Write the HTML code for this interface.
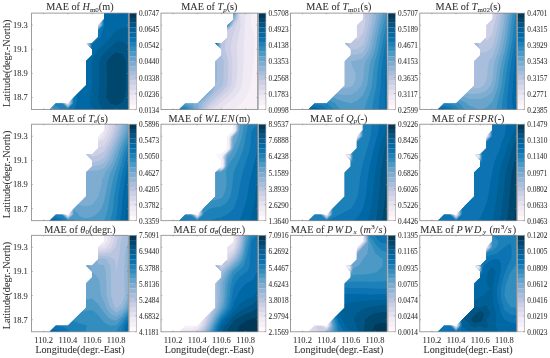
<!DOCTYPE html>
<html><head><meta charset="utf-8"><title>MAE maps</title><style>
html,body{margin:0;padding:0;background:#fff}
body{width:550px;height:358px;overflow:hidden}
svg{display:block}
text{font-family:"Liberation Serif",serif;fill:#303030;stroke:#303030;stroke-width:0.06px}
.t{font-size:10.2px}
.i{font-style:italic}
.sub{font-size:7px}
.subi{font-size:7px;font-style:italic}
.cb{font-size:7.3px}
.tk{font-size:8.5px}
.lb{font-size:10.15px}
</style></head><body>
<svg width="550" height="358" viewBox="0 0 550 358">
<rect width="550" height="358" fill="#fff"/>
<defs>
<clipPath id="c0"><polygon points="104.12,13.1 104.12,19.13 98.08,25.16 98.08,37.23 92.04,43.26 85.99,43.26 92.04,49.29 92.04,55.32 85.99,61.35 85.99,85.47 67.86,103.57 55.78,103.57 49.73,109.6 128.3,109.6 128.3,13.1"/></clipPath>
<clipPath id="c1"><polygon points="233.53,13.1 233.53,19.13 227.48,25.16 227.48,37.23 221.44,43.26 215.39,43.26 221.44,49.29 221.44,55.32 215.39,61.35 215.39,85.47 197.26,103.57 185.18,103.57 179.13,109.6 257.7,109.6 257.7,13.1"/></clipPath>
<clipPath id="c2"><polygon points="362.93,13.1 362.93,19.13 356.88,25.16 356.88,37.23 350.84,43.26 344.79,43.26 350.84,49.29 350.84,55.32 344.79,61.35 344.79,85.47 326.66,103.57 314.58,103.57 308.53,109.6 387.1,109.6 387.1,13.1"/></clipPath>
<clipPath id="c3"><polygon points="492.33,13.1 492.33,19.13 486.28,25.16 486.28,37.23 480.24,43.26 474.19,43.26 480.24,49.29 480.24,55.32 474.19,61.35 474.19,85.47 456.06,103.57 443.98,103.57 437.93,109.6 516.5,109.6 516.5,13.1"/></clipPath>
<clipPath id="c4"><polygon points="104.12,124.2 104.12,130.23 98.08,136.26 98.08,148.32 92.04,154.36 85.99,154.36 92.04,160.39 92.04,166.42 85.99,172.45 85.99,196.57 67.86,214.67 55.78,214.67 49.73,220.7 128.3,220.7 128.3,124.2"/></clipPath>
<clipPath id="c5"><polygon points="233.53,124.2 233.53,130.23 227.48,136.26 227.48,148.32 221.44,154.36 215.39,154.36 221.44,160.39 221.44,166.42 215.39,172.45 215.39,196.57 197.26,214.67 185.18,214.67 179.13,220.7 257.7,220.7 257.7,124.2"/></clipPath>
<clipPath id="c6"><polygon points="362.93,124.2 362.93,130.23 356.88,136.26 356.88,148.32 350.84,154.36 344.79,154.36 350.84,160.39 350.84,166.42 344.79,172.45 344.79,196.57 326.66,214.67 314.58,214.67 308.53,220.7 387.1,220.7 387.1,124.2"/></clipPath>
<clipPath id="c7"><polygon points="492.33,124.2 492.33,130.23 486.28,136.26 486.28,148.32 480.24,154.36 474.19,154.36 480.24,160.39 480.24,166.42 474.19,172.45 474.19,196.57 456.06,214.67 443.98,214.67 437.93,220.7 516.5,220.7 516.5,124.2"/></clipPath>
<clipPath id="c8"><polygon points="104.12,235.3 104.12,241.33 98.08,247.36 98.08,259.42 92.04,265.46 85.99,265.46 92.04,271.49 92.04,277.52 85.99,283.55 85.99,307.67 67.86,325.77 55.78,325.77 49.73,331.8 128.3,331.8 128.3,235.3"/></clipPath>
<clipPath id="c9"><polygon points="233.53,235.3 233.53,241.33 227.48,247.36 227.48,259.42 221.44,265.46 215.39,265.46 221.44,271.49 221.44,277.52 215.39,283.55 215.39,307.67 197.26,325.77 185.18,325.77 179.13,331.8 257.7,331.8 257.7,235.3"/></clipPath>
<clipPath id="c10"><polygon points="362.93,235.3 362.93,241.33 356.88,247.36 356.88,259.42 350.84,265.46 344.79,265.46 350.84,271.49 350.84,277.52 344.79,283.55 344.79,307.67 326.66,325.77 314.58,325.77 308.53,331.8 387.1,331.8 387.1,235.3"/></clipPath>
<clipPath id="c11"><polygon points="492.33,235.3 492.33,241.33 486.28,247.36 486.28,259.42 480.24,265.46 474.19,265.46 480.24,271.49 480.24,277.52 474.19,283.55 474.19,307.67 456.06,325.77 443.98,325.77 437.93,331.8 516.5,331.8 516.5,235.3"/></clipPath>
<filter id="bl" x="-100%" y="-100%" width="300%" height="300%"><feGaussianBlur stdDeviation="0.9"/></filter>
<filter id="soft" x="-5%" y="-5%" width="110%" height="110%"><feGaussianBlur stdDeviation="0.4"/></filter>
</defs>
<g filter="url(#soft)"><g clip-path="url(#c0)">
<path d="M31.6 13.1L37.64 13.1L43.69 13.1L49.73 13.1L55.78 13.1L61.82 13.1L67.86 13.1L73.91 13.1L79.95 13.1L85.99 13.1L92.04 13.1L98.08 13.1L104.12 13.1L110.17 13.1L116.21 13.1L122.26 13.1L128.3 13.1L128.3 19.13L128.3 25.16L128.3 31.19L128.3 37.23L128.3 43.26L128.3 49.29L128.3 55.32L128.3 61.35L128.3 67.38L128.3 73.41L128.3 79.44L128.3 85.47L128.3 91.51L128.3 97.54L128.3 103.57L128.3 109.6L122.26 109.6L116.21 109.6L110.17 109.6L104.12 109.6L98.08 109.6L92.04 109.6L85.99 109.6L79.95 109.6L73.91 109.6L67.86 109.6L61.82 109.6L55.78 109.6L49.73 109.6L43.69 109.6L37.64 109.6L31.6 109.6L31.6 103.57L31.6 97.54L31.6 91.51L31.6 85.47L31.6 79.44L31.6 73.41L31.6 67.38L31.6 61.35L31.6 55.32L31.6 49.29L31.6 43.26L31.6 37.23L31.6 31.19L31.6 25.16L31.6 19.13Z" fill="#e5e1ef"/>
<path d="M31.6 13.1L37.64 13.1L43.69 13.1L49.73 13.1L55.78 13.1L61.82 13.1L67.86 13.1L73.91 13.1L79.95 13.1L85.99 13.1L92.04 13.1L98.08 13.1L104.12 13.1L110.17 13.1L116.21 13.1L122.26 13.1L128.3 13.1L128.3 19.13L128.3 25.16L128.3 31.19L128.3 37.23L128.3 43.26L128.3 49.29L128.3 55.32L128.3 61.35L128.3 67.38L128.3 73.41L128.3 79.44L128.3 85.47L128.3 91.51L128.3 97.54L128.3 103.57L128.3 109.6L122.26 109.6L116.21 109.6L110.17 109.6L104.12 109.6L98.08 109.6L92.04 109.6L85.99 109.6L79.95 109.6L73.91 109.6L67.86 109.6L61.82 109.6L55.78 109.6L49.73 109.6L43.69 109.6L37.64 109.6L31.6 109.6L31.6 103.57L31.6 97.54L31.6 91.51L31.6 85.47L31.6 79.44L31.6 73.41L31.6 67.38L31.6 61.35L31.6 55.32L31.6 49.29L31.6 43.26L31.6 37.23L31.6 31.19L31.6 25.16L31.6 19.13ZM61.82 97.03L61.29 97.54L61.82 98.09L67.31 103.57L67.86 104.1L68.37 103.57L68.37 97.54L67.86 97.03ZM92.04 19.13L92.04 19.13L92.04 25.16L92.04 31.19L85.99 36.71L79.95 36.71L79.42 37.23L79.43 43.26L79.45 49.29L79.95 49.78L85.99 49.77L86.48 49.29L86.5 43.26L92.04 37.73L92.55 37.23L92.04 31.19L98.08 25.16L98.08 25.16L98.08 19.13L98.08 19.13Z" fill="#d9d8ea"/>
<path d="M31.6 13.1L37.64 13.1L43.69 13.1L49.73 13.1L55.78 13.1L61.82 13.1L67.86 13.1L73.91 13.1L79.95 13.1L85.99 13.1L92.04 13.1L98.08 13.1L104.12 13.1L110.17 13.1L116.21 13.1L122.26 13.1L128.3 13.1L128.3 19.13L128.3 25.16L128.3 31.19L128.3 37.23L128.3 43.26L128.3 49.29L128.3 55.32L128.3 61.35L128.3 67.38L128.3 73.41L128.3 79.44L128.3 85.47L128.3 91.51L128.3 97.54L128.3 103.57L128.3 109.6L122.26 109.6L116.21 109.6L110.17 109.6L104.12 109.6L98.08 109.6L92.04 109.6L85.99 109.6L79.95 109.6L73.91 109.6L67.86 109.6L61.82 109.6L55.78 109.6L49.73 109.6L43.69 109.6L37.64 109.6L31.6 109.6L31.6 103.57L31.6 97.54L31.6 91.51L31.6 85.47L31.6 79.44L31.6 73.41L31.6 67.38L31.6 61.35L31.6 55.32L31.6 49.29L31.6 43.26L31.6 37.23L31.6 31.19L31.6 25.16L31.6 19.13ZM61.82 96.52L60.77 97.54L61.82 98.65L66.75 103.57L67.86 104.63L68.89 103.57L68.89 97.54L67.86 96.52ZM92.04 18.61L91.51 19.13L91.49 25.16L91.47 31.19L85.99 36.19L79.95 36.19L78.9 37.23L78.92 43.26L78.94 49.29L79.95 50.28L85.99 50.26L86.97 49.29L87.01 43.26L92.04 38.24L93.06 37.23L92.6 31.19L98.08 25.72L98.63 25.16L98.62 19.13L98.08 18.61Z" fill="#cccfe5"/>
<path d="M31.6 13.1L37.64 13.1L43.69 13.1L49.73 13.1L55.78 13.1L61.82 13.1L67.86 13.1L73.91 13.1L79.95 13.1L85.99 13.1L92.04 13.1L98.08 13.1L104.12 13.1L110.17 13.1L116.21 13.1L122.26 13.1L128.3 13.1L128.3 19.13L128.3 25.16L128.3 31.19L128.3 37.23L128.3 43.26L128.3 49.29L128.3 55.32L128.3 61.35L128.3 67.38L128.3 73.41L128.3 79.44L128.3 85.47L128.3 91.51L128.3 97.54L128.3 103.57L128.3 109.6L122.26 109.6L116.21 109.6L110.17 109.6L104.12 109.6L98.08 109.6L92.04 109.6L85.99 109.6L79.95 109.6L73.91 109.6L67.86 109.6L61.82 109.6L55.78 109.6L49.73 109.6L43.69 109.6L37.64 109.6L31.6 109.6L31.6 103.57L31.6 97.54L31.6 91.51L31.6 85.47L31.6 79.44L31.6 73.41L31.6 67.38L31.6 61.35L31.6 55.32L31.6 49.29L31.6 43.26L31.6 37.23L31.6 31.19L31.6 25.16L31.6 19.13ZM61.82 96.02L60.24 97.54L61.82 99.2L66.19 103.57L67.86 105.16L69.4 103.57L69.4 97.54L67.86 96.01ZM92.04 18.09L90.98 19.13L90.94 25.16L90.9 31.19L85.99 35.67L79.95 35.68L78.37 37.23L78.4 43.26L78.44 49.29L79.95 50.78L85.99 50.75L87.46 49.29L87.52 43.26L92.04 38.75L93.57 37.23L93.16 31.19L98.08 26.28L99.18 25.16L99.16 19.13L98.08 18.09Z" fill="#bac6e0"/>
<path d="M31.6 13.1L37.64 13.1L43.69 13.1L49.73 13.1L55.78 13.1L61.82 13.1L67.86 13.1L73.91 13.1L79.95 13.1L85.99 13.1L92.04 13.1L98.08 13.1L104.12 13.1L110.17 13.1L116.21 13.1L122.26 13.1L128.3 13.1L128.3 19.13L128.3 25.16L128.3 31.19L128.3 37.23L128.3 43.26L128.3 49.29L128.3 55.32L128.3 61.35L128.3 67.38L128.3 73.41L128.3 79.44L128.3 85.47L128.3 91.51L128.3 97.54L128.3 103.57L128.3 109.6L122.26 109.6L116.21 109.6L110.17 109.6L104.12 109.6L98.08 109.6L92.04 109.6L85.99 109.6L79.95 109.6L73.91 109.6L67.86 109.6L61.82 109.6L55.78 109.6L49.73 109.6L43.69 109.6L37.64 109.6L31.6 109.6L31.6 103.57L31.6 97.54L31.6 91.51L31.6 85.47L31.6 79.44L31.6 73.41L31.6 67.38L31.6 61.35L31.6 55.32L31.6 49.29L31.6 43.26L31.6 37.23L31.6 31.19L31.6 25.16L31.6 19.13ZM61.82 95.51L59.72 97.54L61.82 99.76L65.64 103.57L67.86 105.68L69.91 103.57L69.91 97.54L67.86 95.51ZM92.04 17.57L90.44 19.13L90.39 25.16L90.34 31.19L85.99 35.16L79.95 35.16L77.85 37.23L77.89 43.26L77.93 49.29L79.95 51.28L85.99 51.24L87.94 49.29L88.03 43.26L92.04 39.25L94.08 37.23L93.72 31.19L98.08 26.84L99.73 25.16L99.69 19.13L98.08 17.57Z" fill="#a8bedc"/>
<path d="M31.6 13.1L37.64 13.1L43.69 13.1L49.73 13.1L55.78 13.1L61.82 13.1L67.86 13.1L73.91 13.1L79.95 13.1L85.99 13.1L92.04 13.1L98.08 13.1L104.12 13.1L110.17 13.1L116.21 13.1L122.26 13.1L128.3 13.1L128.3 19.13L128.3 25.16L128.3 31.19L128.3 37.23L128.3 43.26L128.3 49.29L128.3 55.32L128.3 61.35L128.3 67.38L128.3 73.41L128.3 79.44L128.3 85.47L128.3 91.51L128.3 97.54L128.3 103.57L128.3 109.6L122.26 109.6L116.21 109.6L110.17 109.6L104.12 109.6L98.08 109.6L92.04 109.6L85.99 109.6L79.95 109.6L73.91 109.6L67.86 109.6L61.82 109.6L55.78 109.6L49.73 109.6L43.69 109.6L37.64 109.6L31.6 109.6L31.6 103.57L31.6 97.54L31.6 91.51L31.6 85.47L31.6 79.44L31.6 73.41L31.6 67.38L31.6 61.35L31.6 55.32L31.6 49.29L31.6 43.26L31.6 37.23L31.6 31.19L31.6 25.16L31.6 19.13ZM61.82 95L59.19 97.54L61.82 100.31L65.08 103.57L67.86 106.21L70.42 103.57L70.42 97.54L67.86 95ZM92.04 17.05L89.91 19.13L89.84 25.16L89.77 31.19L85.99 34.64L79.95 34.64L77.32 37.23L77.37 43.26L77.43 49.29L79.95 51.77L85.99 51.72L88.43 49.29L88.53 43.26L92.04 39.76L94.59 37.23L94.27 31.19L98.08 27.39L100.28 25.16L100.23 19.13L98.08 17.05Z" fill="#94b6d7"/>
<path d="M31.6 13.1L37.64 13.1L43.69 13.1L49.73 13.1L55.78 13.1L61.82 13.1L67.86 13.1L73.91 13.1L79.95 13.1L85.99 13.1L92.04 13.1L98.08 13.1L104.12 13.1L110.17 13.1L116.21 13.1L122.26 13.1L128.3 13.1L128.3 19.13L128.3 25.16L128.3 31.19L128.3 37.23L128.3 43.26L128.3 49.29L128.3 55.32L128.3 61.35L128.3 67.38L128.3 73.41L128.3 79.44L128.3 85.47L128.3 91.51L128.3 97.54L128.3 103.57L128.3 109.6L122.26 109.6L116.21 109.6L110.17 109.6L104.12 109.6L98.08 109.6L92.04 109.6L85.99 109.6L79.95 109.6L73.91 109.6L67.86 109.6L61.82 109.6L55.78 109.6L49.73 109.6L43.69 109.6L37.64 109.6L31.6 109.6L31.6 103.57L31.6 97.54L31.6 91.51L31.6 85.47L31.6 79.44L31.6 73.41L31.6 67.38L31.6 61.35L31.6 55.32L31.6 49.29L31.6 43.26L31.6 37.23L31.6 31.19L31.6 25.16L31.6 19.13ZM61.82 94.5L58.67 97.54L61.82 100.87L64.52 103.57L67.86 106.74L70.93 103.57L70.93 97.54L67.86 94.49ZM92.04 16.53L89.38 19.13L89.29 25.16L89.2 31.19L85.99 34.12L79.95 34.13L76.8 37.23L76.86 43.26L76.93 49.29L79.95 52.27L85.99 52.21L88.92 49.29L89.04 43.26L92.04 40.27L95.1 37.23L94.83 31.19L98.08 27.95L100.83 25.16L100.77 19.13L98.08 16.53Z" fill="#7fadd2"/>
<path d="M31.6 13.1L37.64 13.1L43.69 13.1L49.73 13.1L55.78 13.1L61.82 13.1L67.86 13.1L73.91 13.1L79.95 13.1L85.99 13.1L92.04 13.1L98.08 13.1L104.12 13.1L110.17 13.1L116.21 13.1L122.26 13.1L128.3 13.1L128.3 19.13L128.3 25.16L128.3 31.19L128.3 37.23L128.3 43.26L128.3 49.29L128.3 55.32L128.3 61.35L128.3 67.38L128.3 73.41L128.3 79.44L128.3 85.47L128.3 91.51L128.3 97.54L128.3 103.57L128.3 109.6L122.26 109.6L116.21 109.6L110.17 109.6L104.12 109.6L98.08 109.6L92.04 109.6L85.99 109.6L79.95 109.6L73.91 109.6L67.86 109.6L61.82 109.6L55.78 109.6L49.73 109.6L43.69 109.6L43.69 109.6L37.64 109.17L31.6 109.6L31.6 109.6L31.6 103.57L31.6 97.54L31.6 91.51L31.6 85.47L31.6 79.44L31.6 73.41L31.6 67.38L31.6 61.35L31.6 55.32L31.6 49.29L31.6 43.26L31.6 37.23L31.6 31.19L31.6 25.16L31.6 19.13ZM61.82 93.99L58.14 97.54L61.82 101.42L63.97 103.57L67.86 107.27L71.45 103.57L71.44 97.54L67.86 93.98ZM92.04 16.01L88.85 19.13L88.74 25.16L88.64 31.19L85.99 33.6L79.95 33.61L76.27 37.23L76.34 43.26L76.42 49.29L79.95 52.77L85.99 52.7L89.41 49.29L89.55 43.26L92.04 40.77L95.61 37.23L95.39 31.19L98.08 28.51L101.38 25.16L101.31 19.13L98.08 16.01Z" fill="#67a4cc"/>
<path d="M31.6 13.1L37.64 13.1L43.69 13.1L49.73 13.1L55.78 13.1L61.82 13.1L67.86 13.1L73.91 13.1L79.95 13.1L85.99 13.1L92.04 13.1L98.08 13.1L104.12 13.1L110.17 13.1L116.21 13.1L122.26 13.1L128.3 13.1L128.3 19.13L128.3 25.16L128.3 31.19L128.3 37.23L128.3 43.26L128.3 49.29L128.3 55.32L128.3 61.35L128.3 67.38L128.3 73.41L128.3 79.44L128.3 85.47L128.3 91.51L128.3 97.54L128.3 103.57L128.3 109.6L122.26 109.6L116.21 109.6L110.17 109.6L104.12 109.6L98.08 109.6L92.04 109.6L85.99 109.6L79.95 109.6L73.91 109.6L67.86 109.6L61.82 109.6L55.78 109.6L50.28 109.6L49.73 109.32L43.69 107.34L37.64 107.02L31.6 107.34L31.6 103.57L31.6 97.54L31.6 91.51L31.6 85.47L31.6 79.44L31.6 73.41L31.6 67.38L31.6 61.35L31.6 55.32L31.6 49.29L31.6 43.26L31.6 37.23L31.6 31.19L31.6 25.16L31.6 19.13ZM61.82 93.48L57.61 97.54L61.82 101.98L63.41 103.57L67.86 107.8L71.96 103.57L71.96 97.54L67.86 93.47ZM92.04 15.49L88.32 19.13L88.19 25.16L88.07 31.19L85.99 33.09L79.95 33.1L75.75 37.23L75.82 43.26L75.92 49.29L79.95 53.26L85.99 53.19L89.89 49.29L90.06 43.26L92.04 41.28L96.13 37.23L95.95 31.19L98.08 29.07L101.93 25.16L101.84 19.13L98.08 15.48Z" fill="#4d99c6"/>
<path d="M31.6 13.1L37.64 13.1L43.69 13.1L49.73 13.1L55.78 13.1L61.82 13.1L67.86 13.1L73.91 13.1L79.95 13.1L85.99 13.1L92.04 13.1L98.08 13.1L104.12 13.1L110.17 13.1L116.21 13.1L122.26 13.1L128.3 13.1L128.3 19.13L128.3 25.16L128.3 31.19L128.3 37.23L128.3 43.26L128.3 49.29L128.3 55.32L128.3 61.35L128.3 67.38L128.3 73.41L128.3 79.44L128.3 85.47L128.3 91.51L128.3 97.54L128.3 103.57L128.3 109.6L122.26 109.6L116.21 109.6L110.17 109.6L104.12 109.6L98.08 109.6L92.04 109.6L85.99 109.6L79.95 109.6L73.91 109.6L67.86 109.6L61.82 109.6L55.78 109.6L55.77 109.6L49.73 106.49L43.69 105.09L37.64 104.86L31.6 105.09L31.6 103.57L31.6 97.54L31.6 91.51L31.6 85.47L31.6 79.44L31.6 73.41L31.6 67.38L31.6 61.35L31.6 55.32L31.6 49.29L31.6 43.26L31.6 37.23L31.6 31.19L31.6 25.16L31.6 19.13ZM61.82 92.97L57.09 97.54L61.82 102.53L62.86 103.57L67.86 108.33L72.47 103.57L72.47 97.54L67.86 92.97ZM92.04 14.97L87.79 19.13L87.65 25.16L87.5 31.19L85.99 32.57L79.95 32.58L75.22 37.23L75.31 43.26L75.41 49.29L79.95 53.76L85.99 53.67L90.38 49.29L90.57 43.26L92.04 41.79L96.64 37.23L96.51 31.19L98.08 29.63L102.48 25.16L102.38 19.13L98.08 14.96Z" fill="#338ebf"/>
<path d="M31.6 13.1L37.64 13.1L43.69 13.1L49.73 13.1L55.78 13.1L61.82 13.1L67.86 13.1L73.91 13.1L79.95 13.1L85.99 13.1L92.04 13.1L98.08 13.1L104.12 13.1L110.17 13.1L116.21 13.1L122.26 13.1L128.3 13.1L128.3 19.13L128.3 25.16L128.3 31.19L128.3 37.23L128.3 43.26L128.3 49.29L128.3 55.32L128.3 61.35L128.3 67.38L128.3 73.41L128.3 79.44L128.3 85.47L128.3 91.51L128.3 97.54L128.3 103.57L128.3 109.6L122.26 109.6L116.21 109.6L110.17 109.6L104.12 109.6L98.08 109.6L92.04 109.6L85.99 109.6L79.95 109.6L73.91 109.6L67.86 109.6L61.82 109.6L60.58 109.6L55.78 105.38L49.73 103.66L49.18 103.57L43.69 102.49L37.64 102.3L31.6 102.49L31.6 97.54L31.6 91.51L31.6 85.47L31.6 79.44L31.6 73.41L31.6 67.38L31.6 61.35L31.6 55.32L31.6 49.29L31.6 43.26L31.6 37.23L31.6 31.19L31.6 25.16L31.6 19.13ZM61.82 92.47L56.56 97.54L61.82 103.09L62.3 103.57L67.86 108.86L72.98 103.57L72.98 97.54L67.86 92.46ZM92.04 14.45L87.26 19.13L87.1 25.16L86.94 31.19L85.99 32.05L79.95 32.06L74.7 37.23L74.79 43.26L74.91 49.29L79.95 54.26L85.99 54.16L90.87 49.29L91.07 43.26L92.04 42.3L97.15 37.23L97.07 31.19L98.08 30.19L103.03 25.16L102.92 19.13L98.08 14.44Z" fill="#1f81b8"/>
<path d="M31.6 13.1L37.64 13.1L43.69 13.1L49.73 13.1L55.78 13.1L61.82 13.1L67.86 13.1L73.91 13.1L79.95 13.1L85.99 13.1L92.04 13.1L98.08 13.1L104.12 13.1L110.17 13.1L116.21 13.1L122.26 13.1L128.3 13.1L128.3 19.13L128.3 25.16L128.3 31.19L128.3 37.23L128.3 43.26L128.3 49.29L128.3 55.32L128.3 61.35L128.3 67.38L128.3 73.41L128.3 79.44L128.3 85.47L128.3 91.51L128.3 97.54L128.3 103.57L128.3 109.6L122.26 109.6L116.21 109.6L110.17 109.6L104.12 109.6L98.08 109.6L92.04 109.6L85.99 109.6L79.95 109.6L73.91 109.6L67.86 109.6L65.75 109.6L67.86 109.39L73.5 103.57L73.49 97.54L67.86 91.95L61.82 91.96L56.04 97.54L55.78 100.35L49.73 99.62L43.69 99.19L37.64 99.1L31.6 99.19L31.6 97.54L31.6 91.51L31.6 85.47L31.6 79.44L31.6 73.41L31.6 67.38L31.6 61.35L31.6 55.32L31.6 49.29L31.6 43.26L31.6 37.23L31.6 31.19L31.6 25.16L31.6 19.13ZM92.04 13.93L86.73 19.13L86.55 25.16L86.37 31.19L85.99 31.54L79.95 31.55L74.17 37.23L74.28 43.26L74.41 49.29L79.95 54.75L85.99 54.65L91.36 49.29L91.58 43.26L92.04 42.8L97.66 37.23L97.63 31.19L98.08 30.74L103.58 25.16L103.45 19.13L98.08 13.92Z" fill="#0a73b2"/>
<path d="M31.6 13.1L37.64 13.1L43.69 13.1L49.73 13.1L55.78 13.1L61.82 13.1L67.86 13.1L73.91 13.1L79.95 13.1L85.99 13.1L92.04 13.1L98.08 13.1L104.12 13.1L110.17 13.1L116.21 13.1L122.26 13.1L128.3 13.1L128.3 19.13L128.3 25.16L128.3 31.19L128.3 37.23L128.3 43.26L128.3 49.29L128.3 55.32L128.3 61.35L128.3 67.38L128.3 73.41L128.3 79.44L128.3 85.47L128.3 91.51L128.3 97.54L128.3 103.57L128.3 109.6L122.26 109.6L116.21 109.6L110.17 109.6L104.12 109.6L98.08 109.6L92.04 109.6L85.99 109.6L79.95 109.6L73.97 109.6L76.43 103.57L76.84 97.54L73.98 91.51L73.91 91.43L67.86 89.2L61.82 89.47L55.78 90.15L49.73 90.9L43.69 91.41L39.91 91.51L37.64 91.53L35.38 91.51L31.6 91.41L31.6 85.47L31.6 79.44L31.6 73.41L31.6 67.38L31.6 61.35L31.6 55.32L31.6 49.29L31.6 49.29L37.64 49.27L43.69 49.29L43.69 49.29L49.73 49.33L55.77 49.29L55.78 49.29L61.82 49.23L67.86 49.29L67.86 49.29L73.91 49.74L79.95 55.25L85.99 55.14L91.84 49.29L92.04 44.5L93.45 43.26L98.08 39.25L100.28 37.23L102.58 31.19L104.12 25.16L103.99 19.13L98.08 13.4L92.04 13.41L86.2 19.13L86 25.16L85.99 25.3L79.95 25.16L79.95 25.16L73.91 25.13L67.86 25.16L67.86 25.16L61.82 25.17L55.78 25.16L55.77 25.16L49.73 25.16L43.69 25.16L43.69 25.16L37.64 25.17L31.6 25.16L31.6 25.16L31.6 19.13Z" fill="#0569a5"/>
<path d="M116.21 13.1L116.21 13.1L116.21 13.1L116.21 13.1ZM115.48 31.19L116.21 30.4L122.26 27.73L128.3 27.86L128.3 31.19L128.3 37.23L128.3 43.26L128.3 49.29L128.3 55.32L128.3 61.35L128.3 67.38L128.3 73.41L128.3 79.44L128.3 85.47L128.3 91.51L128.3 97.54L128.3 103.57L128.3 109.6L122.26 109.6L116.21 109.6L110.17 109.6L104.12 109.6L98.08 109.6L92.04 109.6L92.04 109.6L89.98 103.57L89.8 97.54L90.86 91.51L92.04 85.48L92.04 85.47L92.16 79.44L92.04 73.41L92.04 73.41L91.75 67.38L92.04 61.35L92.04 61.35L94.11 55.32L98.08 49.78L98.47 49.29L104.12 44.06L104.97 43.26L110.17 37.49L110.42 37.23Z" fill="#046096"/>
<path d="M114.72 43.26L116.21 41.68L122.26 41.11L124.97 43.26L128.3 46.3L128.3 49.29L128.3 55.32L128.3 61.35L128.3 67.38L128.3 73.41L128.3 79.44L128.3 85.47L128.3 91.51L128.3 97.54L128.3 103.57L128.3 109.6L122.26 109.6L116.21 109.6L110.17 109.6L104.12 109.6L102.11 109.6L99.14 103.57L98.12 97.54L98.66 91.51L99.28 85.47L99.43 79.44L99.28 73.41L99 67.38L99.28 61.35L102.36 55.32L104.12 53.17L108.08 49.29L110.17 47.31Z" fill="#045585"/>
<path d="M112.2 55.32L116.21 52.3L122.26 54.12L123.18 55.32L125.95 61.35L126.16 67.38L125.95 73.41L125.92 79.44L125.95 85.47L125.57 91.51L124.65 97.54L122.26 102.07L120.3 103.57L116.21 105.45L110.7 103.57L110.17 103.25L106.51 97.54L106.49 91.51L106.88 85.47L107.07 79.44L106.88 73.41L106.41 67.38L106.88 61.35L110.17 57.12Z" fill="#03466e"/>
</g></g>
<rect x="129.2" y="104.77" width="7.3" height="4.88" fill="#fff7fb"/>
<rect x="129.2" y="99.95" width="7.3" height="4.88" fill="#f7f0f7"/>
<rect x="129.2" y="95.12" width="7.3" height="4.88" fill="#efeaf3"/>
<rect x="129.2" y="90.3" width="7.3" height="4.88" fill="#e5e1ef"/>
<rect x="129.2" y="85.47" width="7.3" height="4.88" fill="#d9d8ea"/>
<rect x="129.2" y="80.65" width="7.3" height="4.88" fill="#cccfe5"/>
<rect x="129.2" y="75.82" width="7.3" height="4.88" fill="#bac6e0"/>
<rect x="129.2" y="71" width="7.3" height="4.88" fill="#a8bedc"/>
<rect x="129.2" y="66.17" width="7.3" height="4.88" fill="#94b6d7"/>
<rect x="129.2" y="61.35" width="7.3" height="4.88" fill="#7fadd2"/>
<rect x="129.2" y="56.52" width="7.3" height="4.88" fill="#67a4cc"/>
<rect x="129.2" y="51.7" width="7.3" height="4.88" fill="#4d99c6"/>
<rect x="129.2" y="46.87" width="7.3" height="4.88" fill="#338ebf"/>
<rect x="129.2" y="42.05" width="7.3" height="4.88" fill="#1f81b8"/>
<rect x="129.2" y="37.22" width="7.3" height="4.88" fill="#0a73b2"/>
<rect x="129.2" y="32.4" width="7.3" height="4.88" fill="#0569a5"/>
<rect x="129.2" y="27.57" width="7.3" height="4.88" fill="#046096"/>
<rect x="129.2" y="22.75" width="7.3" height="4.88" fill="#045585"/>
<rect x="129.2" y="17.92" width="7.3" height="4.88" fill="#03466e"/>
<rect x="129.2" y="13.1" width="7.3" height="4.88" fill="#023858"/>
<rect x="129.2" y="13.1" width="7.3" height="96.5" fill="none" stroke="#9c9c9c" stroke-width="0.6"/>
<rect x="31.6" y="13.1" width="96.7" height="96.5" fill="none" stroke="#858585" stroke-width="0.8"/>
<path d="M43.69 109.6v-1.2 M43.69 13.1v1.2M67.86 109.6v-1.2 M67.86 13.1v1.2M92.04 109.6v-1.2 M92.04 13.1v1.2M116.21 109.6v-1.2 M116.21 13.1v1.2M31.6 97.54h1.2 M128.3 97.54h-1.2M31.6 73.41h1.2 M128.3 73.41h-1.2M31.6 49.29h1.2 M128.3 49.29h-1.2M31.6 25.16h1.2 M128.3 25.16h-1.2M136.5 13.1h-1.2M136.5 29.18h-1.2M136.5 45.27h-1.2M136.5 61.35h-1.2M136.5 77.43h-1.2M136.5 93.52h-1.2M136.5 109.6h-1.2" stroke="#858585" stroke-width="0.6" fill="none"/>
<text class="t" x="79.95" y="10.4" text-anchor="middle">MAE of <tspan class="i">H</tspan><tspan class="sub" dy="1.6">m0</tspan><tspan dy="-1.6">(m)</tspan></text>
<text class="cb" x="139.1" y="16.2">0.0747</text>
<text class="cb" x="139.1" y="32.28">0.0645</text>
<text class="cb" x="139.1" y="48.37">0.0542</text>
<text class="cb" x="139.1" y="64.45">0.0440</text>
<text class="cb" x="139.1" y="80.53">0.0338</text>
<text class="cb" x="139.1" y="96.62">0.0236</text>
<text class="cb" x="139.1" y="112.7">0.0134</text>
<text class="tk" x="27.8" y="100.44" text-anchor="end">18.7</text>
<text class="tk" x="27.8" y="76.31" text-anchor="end">18.9</text>
<text class="tk" x="27.8" y="52.19" text-anchor="end">19.1</text>
<text class="tk" x="27.8" y="28.06" text-anchor="end">19.3</text>
<text class="lb" transform="translate(10.3 63.35) rotate(-90)" text-anchor="middle">Latitude(degr.-North)</text>
<g filter="url(#soft)"><g clip-path="url(#c1)">
<path d="M161 13.1L167.04 13.1L173.09 13.1L179.13 13.1L185.18 13.1L191.22 13.1L197.26 13.1L203.31 13.1L209.35 13.1L215.39 13.1L221.44 13.1L227.48 13.1L233.53 13.1L239.57 13.1L245.61 13.1L251.66 13.1L257.7 13.1L257.7 19.13L257.7 25.16L257.7 31.19L257.7 37.23L257.7 43.26L257.7 49.29L257.7 55.32L257.7 61.35L257.7 67.38L257.7 73.41L257.7 79.44L257.7 85.47L257.7 91.51L257.7 97.54L257.7 103.57L257.7 109.6L251.66 109.6L245.61 109.6L239.57 109.6L233.53 109.6L227.48 109.6L221.44 109.6L215.39 109.6L209.35 109.6L203.31 109.6L197.26 109.6L191.22 109.6L185.18 109.6L179.13 109.6L173.09 109.6L167.04 109.6L161 109.6L161 103.57L161 97.54L161 91.51L161 85.47L161 79.44L161 73.41L161 67.38L161 61.35L161 55.32L161 49.29L161 43.26L161 37.23L161 31.19L161 25.16L161 19.13Z" fill="#f7f0f7"/>
<path d="M161 13.1L167.04 13.1L173.09 13.1L179.13 13.1L185.18 13.1L191.22 13.1L197.26 13.1L203.31 13.1L209.35 13.1L215.39 13.1L221.44 13.1L227.48 13.1L233.53 13.1L239.57 13.1L245.61 13.1L251.66 13.1L252.21 13.1L251.66 13.96L250.85 19.13L251.16 25.16L251.66 28.26L253.17 31.19L254.58 37.23L254.73 43.26L254.46 49.29L254.07 55.32L253.67 61.35L252.97 67.38L252.11 73.41L251.66 76.28L251.26 79.44L250.37 85.48L248.52 91.51L245.61 97.54L245.61 97.54L241 103.57L239.57 104.85L233.53 109.6L233.53 109.6L227.48 109.6L221.44 109.6L215.39 109.6L209.35 109.6L203.31 109.6L197.26 109.6L191.22 109.6L185.18 109.6L179.13 109.6L173.09 109.6L167.04 109.6L161 109.6L161 103.57L161 97.54L161 91.51L161 85.47L161 79.44L161 73.41L161 67.38L161 61.35L161 55.32L161 49.29L161 43.26L161 37.23L161 31.19L161 25.16L161 19.13Z" fill="#efeaf3"/>
<path d="M161 13.1L167.04 13.1L173.09 13.1L179.13 13.1L185.18 13.1L191.22 13.1L197.26 13.1L203.31 13.1L209.35 13.1L215.39 13.1L221.44 13.1L227.48 13.1L233.53 13.1L239.57 13.1L244.6 13.1L244.76 19.13L244.79 25.16L244.66 31.19L244.36 37.23L243.86 43.26L243.46 49.29L243.51 55.32L243.6 61.35L243.39 67.38L243.08 73.41L242.47 79.44L241.55 85.47L239.57 90.42L239.12 91.51L234.57 97.54L233.53 98.49L227.48 103.31L227.14 103.57L221.44 108.78L220.36 109.6L215.39 109.6L209.35 109.6L203.31 109.6L197.26 109.6L191.22 109.6L185.18 109.6L179.13 109.6L173.09 109.6L167.04 109.6L161 109.6L161 103.57L161 97.54L161 91.51L161 85.47L161 79.44L161 73.41L161 67.38L161 61.35L161 55.32L161 49.29L161 43.26L161 37.23L161 31.19L161 25.16L161 19.13Z" fill="#e5e1ef"/>
<path d="M161 13.1L167.04 13.1L173.09 13.1L179.13 13.1L185.18 13.1L191.22 13.1L197.26 13.1L203.31 13.1L209.35 13.1L215.39 13.1L221.44 13.1L227.48 13.1L233.53 13.1L239.57 13.1L239.57 13.11L240.64 19.13L240.67 25.16L239.67 31.19L239.57 31.69L238.19 37.23L237.2 43.26L236.68 49.29L237.01 55.32L237.37 61.35L237.36 67.38L237.21 73.41L236.7 79.44L235.71 85.47L233.52 89.5L232.49 91.51L227.48 96.81L226.62 97.54L221.44 101.68L219.52 103.57L215.39 107.14L211.92 109.6L209.35 109.6L203.31 109.6L197.26 109.6L191.22 109.6L185.18 109.6L179.13 109.6L173.09 109.6L167.04 109.6L161 109.6L161 103.57L161 97.54L161 91.51L161 85.47L161 79.44L161 73.41L161 67.38L161 61.35L161 55.32L161 49.29L161 43.26L161 37.23L161 31.19L161 25.16L161 19.13Z" fill="#d9d8ea"/>
<path d="M161 19.13L161 13.1L167.04 13.12L173.09 13.1L173.09 13.1L179.13 13.1L185.18 13.1L185.18 13.1L191.22 13.17L197.26 13.1L197.26 13.1L203.31 13.1L209.35 13.1L209.35 13.1L215.39 14.6L221.44 13.1L221.44 13.1L227.48 13.1L233.53 13.1L238.81 13.1L238.62 19.13L235.97 25.16L234.41 31.19L233.53 33.94L232.26 37.23L231.18 43.26L230.75 49.29L231.58 55.32L232.27 61.35L232.35 67.38L232.28 73.41L231.94 79.44L231.08 85.47L227.48 91.27L227.3 91.51L221.44 96.66L220.54 97.54L215.39 102.61L214.43 103.57L209.35 107.52L207.81 109.6L203.31 109.6L197.26 109.6L191.22 109.6L185.18 109.6L179.13 109.6L173.09 109.6L167.04 109.6L161 109.6L161 103.57L161 97.54L161 91.51L161 85.47L161 79.44L161 73.41L161 67.38L161 61.35L161 55.32L161 49.29L161 43.26L161 37.23L161 31.19L161 25.16Z" fill="#cccfe5"/>
<path d="M216.09 19.13L221.44 13.85L222.95 13.1L227.48 13.1L233.53 13.1L238.06 13.1L237.35 19.13L233.52 24.3L233.12 25.16L227.48 30.98L227.26 31.19L227.34 37.23L225.05 43.26L225.03 49.29L226.76 55.32L227.48 58.29L228.09 61.35L228.21 67.38L228.11 73.41L227.92 79.44L227.48 82.36L226.99 85.48L222.31 91.51L221.44 92.27L216.05 97.54L215.39 98.19L209.98 103.57L209.35 104.06L205.25 109.6L203.31 109.6L197.26 109.6L191.22 109.6L185.18 109.6L179.13 109.6L173.09 109.6L167.04 109.6L161 109.6L161 103.57L161 97.54L161 91.51L161 85.47L161 79.44L161 73.41L161 67.38L161 61.35L161 55.32L161 49.29L161 43.26L161 37.23L161 31.3L167.04 31.29L173.09 31.3L179.13 31.32L185.18 31.3L191.22 31.26L197.26 31.31L203.31 31.46L209.35 31.2L210.33 31.19L215.39 30.7L215.82 25.16Z" fill="#bac6e0"/>
<path d="M216.86 19.13L221.44 14.61L224.46 13.1L227.48 13.1L233.53 13.1L237.3 13.1L236.07 19.13L233.53 22.58L232.32 25.16L227.48 30.15L226.43 31.19L226.75 37.23L221.44 42.96L221.14 43.26L221.18 49.29L221.44 54.67L221.68 55.32L223.67 61.35L223.82 67.38L223.68 73.41L223.61 79.44L222.72 85.47L221.44 87.08L216.74 91.51L215.39 92.82L211.58 97.54L209.35 99.76L206.19 103.57L203.31 108.19L202.78 109.6L197.26 109.6L191.22 109.6L185.18 109.6L179.13 109.6L173.09 109.6L167.04 109.6L161 109.6L161 103.57L161 97.54L161 91.51L161 85.47L161 79.44L161 73.41L161 67.38L161 61.35L161 55.32L161 49.29L161 43.37L167.04 43.37L173.09 43.37L179.13 43.37L185.18 43.37L191.22 43.37L197.26 43.36L203.31 43.34L203.31 43.26L203.64 37.23L209.35 31.8L215.39 31.77L216.22 31.19L216.63 25.16Z" fill="#a8bedc"/>
<path d="M217.62 19.13L221.44 15.36L225.97 13.1L227.48 13.1L233.53 13.1L236.55 13.1L234.8 19.13L233.53 20.85L231.51 25.16L227.48 29.32L225.6 31.19L226.16 37.23L221.44 42.33L220.51 43.26L220.54 49.29L215.39 55.08L210.13 55.32L215.39 59.55L216.72 61.35L217.08 67.38L216.71 73.41L216.86 79.44L215.77 85.47L215.39 85.82L213.36 91.51L209.35 96.03L207.84 97.54L203.31 102.8L202.43 103.57L200.57 109.6L197.26 109.6L191.22 109.6L185.18 109.6L179.13 109.6L173.09 109.6L167.04 109.6L161 109.6L161 103.57L161 97.54L161 91.51L161 85.47L161 79.44L161 73.41L161 67.38L161 61.35L161 55.32L161 54.8L167.04 54.83L173.09 54.8L179.13 54.76L185.18 54.8L191.22 54.9L197.26 54.82L203.31 54.48L203.64 49.29L203.98 43.26L204.27 37.23L209.35 32.4L215.39 32.38L217.09 31.19L217.43 25.16Z" fill="#94b6d7"/>
<path d="M218.38 19.13L221.44 16.12L227.48 13.1L227.48 13.1L233.53 13.1L235.79 13.1L233.53 19.13L233.53 19.13L230.7 25.16L227.48 28.48L224.77 31.19L225.57 37.23L221.44 41.69L219.87 43.26L219.89 49.29L215.39 54.36L209.35 54.6L204.36 49.29L204.65 43.26L204.91 37.23L209.35 33.01L215.39 32.98L217.96 31.19L218.23 25.16ZM200.28 85.47L203.31 82.44L209.35 82.41L211.43 85.47L210.69 91.51L209.35 93.01L204.82 97.54L203.31 99.29L198.38 103.57L198.37 109.6L197.26 109.6L191.22 109.6L185.18 109.6L179.13 109.6L173.09 109.6L167.04 109.6L161 109.6L161 103.57L161 97.54L161 97.54L167.04 97.26L173.09 97.54L173.09 97.54L179.13 97.59L185.17 97.54L185.18 97.54L191.22 96.69L193.62 91.51L197.26 88.49Z" fill="#7fadd2"/>
<path d="M219.15 19.13L221.44 16.87L227.48 14.61L229.5 13.1L233.53 13.1L235.04 13.1L233.53 17.12L232.01 19.13L229.9 25.16L227.48 27.65L223.93 31.19L224.98 37.23L221.44 41.05L219.23 43.26L219.25 49.29L215.39 53.63L209.35 53.84L205.07 49.29L205.32 43.26L205.54 37.23L209.35 33.61L215.39 33.59L218.83 31.19L219.03 25.16ZM161 103.57L161 100.59L167.04 100.65L173.09 100.59L179.13 100.54L185.18 100.59L191.22 102.26L192.83 103.57L196.06 109.6L191.22 109.6L185.18 109.6L179.13 109.6L173.09 109.6L167.04 109.6L161 109.6Z" fill="#67a4cc"/>
<path d="M219.91 19.13L221.44 17.62L227.48 16.12L230.5 19.13L229.09 25.16L227.48 26.82L223.1 31.19L224.39 37.23L221.44 40.41L218.59 43.26L218.61 49.29L215.39 52.91L209.35 53.08L205.78 49.29L206 43.26L206.18 37.23L209.35 34.21L215.39 34.19L219.7 31.19L219.83 25.16ZM231.51 13.1L233.53 13.1L234.28 13.1L233.52 15.11ZM175.98 103.57L179.13 103.49L182.29 103.57L185.18 103.62L191.22 106.09L193.67 109.6L191.22 109.6L185.18 109.6L179.13 109.6L173.09 109.6L167.04 109.6L161 109.6L161 103.62L167.04 103.74L173.09 103.62Z" fill="#4d99c6"/>
<path d="M220.67 19.13L221.44 18.38L227.48 17.62L228.99 19.13L228.29 25.16L227.48 25.99L222.27 31.19L223.8 37.23L221.44 39.78L217.95 43.26L217.97 49.29L215.39 52.18L209.35 52.32L206.5 49.29L206.67 43.26L206.81 37.23L209.35 34.81L215.39 34.8L220.57 31.19L220.64 25.16ZM161 109.6L161 105.61L167.04 105.87L173.09 105.61L179.13 105.39L185.18 105.61L191.22 109.52L191.27 109.6L191.22 109.6L185.18 109.6L179.13 109.6L173.09 109.6L167.04 109.6Z" fill="#338ebf"/>
<path d="M207.45 37.23L209.35 35.42L215.39 35.41L221.44 31.19L223.21 37.23L221.44 39.14L217.31 43.26L217.32 49.29L215.39 51.46L209.35 51.56L207.21 49.29L207.34 43.26ZM161 109.6L161 107.61L167.04 108L173.09 107.61L179.13 107.26L185.18 107.61L188.23 109.6L185.18 109.6L179.13 109.6L173.09 109.6L167.04 109.6Z" fill="#1f81b8"/>
<path d="M208.08 37.23L209.35 36.02L215.39 36.01L221.44 33.2L222.62 37.23L221.44 38.5L216.67 43.26L216.68 49.29L215.39 50.74L209.35 50.8L207.92 49.29L208.01 43.26ZM173.09 109.6L179.13 109.14L185.18 109.6L179.13 109.6Z" fill="#0a73b2"/>
<path d="M208.72 37.23L209.35 36.62L215.39 36.62L221.44 35.21L222.03 37.23L221.44 37.86L216.03 43.26L216.04 49.29L215.39 50.01L209.35 50.05L208.64 49.29L208.68 43.26Z" fill="#0569a5"/>
</g></g>
<rect x="258.6" y="104.77" width="7.3" height="4.88" fill="#fff7fb"/>
<rect x="258.6" y="99.95" width="7.3" height="4.88" fill="#f7f0f7"/>
<rect x="258.6" y="95.12" width="7.3" height="4.88" fill="#efeaf3"/>
<rect x="258.6" y="90.3" width="7.3" height="4.88" fill="#e5e1ef"/>
<rect x="258.6" y="85.47" width="7.3" height="4.88" fill="#d9d8ea"/>
<rect x="258.6" y="80.65" width="7.3" height="4.88" fill="#cccfe5"/>
<rect x="258.6" y="75.82" width="7.3" height="4.88" fill="#bac6e0"/>
<rect x="258.6" y="71" width="7.3" height="4.88" fill="#a8bedc"/>
<rect x="258.6" y="66.17" width="7.3" height="4.88" fill="#94b6d7"/>
<rect x="258.6" y="61.35" width="7.3" height="4.88" fill="#7fadd2"/>
<rect x="258.6" y="56.52" width="7.3" height="4.88" fill="#67a4cc"/>
<rect x="258.6" y="51.7" width="7.3" height="4.88" fill="#4d99c6"/>
<rect x="258.6" y="46.87" width="7.3" height="4.88" fill="#338ebf"/>
<rect x="258.6" y="42.05" width="7.3" height="4.88" fill="#1f81b8"/>
<rect x="258.6" y="37.22" width="7.3" height="4.88" fill="#0a73b2"/>
<rect x="258.6" y="32.4" width="7.3" height="4.88" fill="#0569a5"/>
<rect x="258.6" y="27.57" width="7.3" height="4.88" fill="#046096"/>
<rect x="258.6" y="22.75" width="7.3" height="4.88" fill="#045585"/>
<rect x="258.6" y="17.92" width="7.3" height="4.88" fill="#03466e"/>
<rect x="258.6" y="13.1" width="7.3" height="4.88" fill="#023858"/>
<rect x="258.6" y="13.1" width="7.3" height="96.5" fill="none" stroke="#9c9c9c" stroke-width="0.6"/>
<rect x="161" y="13.1" width="96.7" height="96.5" fill="none" stroke="#858585" stroke-width="0.8"/>
<path d="M173.09 109.6v-1.2 M173.09 13.1v1.2M197.26 109.6v-1.2 M197.26 13.1v1.2M221.44 109.6v-1.2 M221.44 13.1v1.2M245.61 109.6v-1.2 M245.61 13.1v1.2M161 97.54h1.2 M257.7 97.54h-1.2M161 73.41h1.2 M257.7 73.41h-1.2M161 49.29h1.2 M257.7 49.29h-1.2M161 25.16h1.2 M257.7 25.16h-1.2M265.9 13.1h-1.2M265.9 29.18h-1.2M265.9 45.27h-1.2M265.9 61.35h-1.2M265.9 77.43h-1.2M265.9 93.52h-1.2M265.9 109.6h-1.2" stroke="#858585" stroke-width="0.6" fill="none"/>
<text class="t" x="209.35" y="10.4" text-anchor="middle">MAE of <tspan class="i">T</tspan><tspan class="subi" dy="1.6">p</tspan><tspan dy="-1.6">(s)</tspan></text>
<text class="cb" x="268.5" y="16.2">0.5708</text>
<text class="cb" x="268.5" y="32.28">0.4923</text>
<text class="cb" x="268.5" y="48.37">0.4138</text>
<text class="cb" x="268.5" y="64.45">0.3353</text>
<text class="cb" x="268.5" y="80.53">0.2568</text>
<text class="cb" x="268.5" y="96.62">0.1783</text>
<text class="cb" x="268.5" y="112.7">0.0998</text>
<g filter="url(#soft)"><g clip-path="url(#c2)">
<path d="M290.4 13.1L296.44 13.1L302.49 13.1L308.53 13.1L314.58 13.1L320.62 13.1L326.66 13.1L332.71 13.1L338.75 13.1L344.79 13.1L350.84 13.1L356.88 13.1L362.93 13.1L368.97 13.1L375.01 13.1L381.06 13.1L387.1 13.1L387.1 19.13L387.1 25.16L387.1 31.19L387.1 37.23L387.1 43.26L387.1 49.29L387.1 55.32L387.1 61.35L387.1 67.38L387.1 73.41L387.1 79.44L387.1 85.47L387.1 91.51L387.1 97.54L387.1 103.57L387.1 109.6L381.06 109.6L375.01 109.6L368.97 109.6L362.93 109.6L356.88 109.6L350.84 109.6L344.79 109.6L338.75 109.6L332.71 109.6L326.66 109.6L320.62 109.6L314.58 109.6L308.53 109.6L302.49 109.6L296.44 109.6L290.4 109.6L290.4 103.57L290.4 97.54L290.4 91.51L290.4 85.47L290.4 79.44L290.4 73.41L290.4 67.38L290.4 61.35L290.4 55.32L290.4 49.29L290.4 43.26L290.4 37.23L290.4 31.19L290.4 25.16L290.4 19.13Z" fill="#cccfe5"/>
<path d="M365.25 13.1L368.97 13.1L375.01 13.1L381.06 13.1L387.1 13.1L387.1 19.13L387.1 25.16L387.1 31.19L387.1 37.23L387.1 43.26L387.1 49.29L387.1 55.32L387.1 61.35L387.1 67.38L387.1 73.41L387.1 79.44L387.1 85.47L387.1 91.51L387.1 97.54L387.1 103.57L387.1 109.6L381.06 109.6L375.01 109.6L368.97 109.6L362.93 109.6L356.88 109.6L350.84 109.6L344.79 109.6L338.75 109.6L332.71 109.6L326.66 109.6L320.62 109.6L314.58 109.6L308.53 109.6L302.49 109.6L296.44 109.6L290.4 109.6L290.4 103.57L290.4 97.54L290.4 91.51L290.4 85.47L290.4 79.44L290.4 73.41L290.4 67.38L290.4 61.35L290.4 55.32L290.4 49.29L290.4 43.26L290.4 39.27L296.44 39.27L302.49 39.27L308.53 39.26L314.58 39.27L320.62 39.29L326.66 39.27L332.71 39.19L333.57 37.23L338.75 32.36L344.79 32.24L350.84 32.16L356.37 37.23L356.88 40.39L359.78 37.23L362.93 32.98L363.37 31.19L364.79 25.16L365.39 19.13Z" fill="#bac6e0"/>
<path d="M369.68 13.1L375.01 13.1L381.06 13.1L387.1 13.1L387.1 19.13L387.1 25.16L387.1 31.19L387.1 37.23L387.1 43.26L387.1 49.29L387.1 55.32L387.1 61.35L387.1 67.38L387.1 73.41L387.1 79.44L387.1 85.47L387.1 91.51L387.1 97.54L387.1 103.57L387.1 109.6L381.06 109.6L375.01 109.6L368.97 109.6L362.93 109.6L356.88 109.6L350.84 109.6L344.79 109.6L338.75 109.6L332.71 109.6L326.66 109.6L320.62 109.6L314.58 109.6L308.53 109.6L302.49 109.6L296.44 109.6L290.4 109.6L290.4 103.57L290.4 97.54L290.4 91.51L290.4 85.47L290.4 79.44L290.4 73.41L290.4 67.38L290.4 61.35L290.4 55.32L290.4 49.29L290.4 43.34L296.44 43.36L302.49 43.34L308.53 43.32L314.58 43.34L320.62 43.4L326.66 43.34L329.08 43.26L332.71 43.13L335.3 37.23L338.75 33.98L344.79 33.9L350.84 33.85L354.53 37.23L350.84 41.42L349 43.26L350.84 49.29L350.84 49.29L350.84 49.29L356.88 49.26L362.93 44.8L363.53 43.26L365.3 37.23L366.89 31.19L368.53 25.16L368.97 22.36L369.4 19.13Z" fill="#a8bedc"/>
<path d="M373.24 13.1L375.01 13.1L381.06 13.1L387.1 13.1L387.1 19.13L387.1 25.16L387.1 31.19L387.1 37.23L387.1 43.26L387.1 49.29L387.1 55.32L387.1 61.35L387.1 67.38L387.1 73.41L387.1 79.44L387.1 85.47L387.1 91.51L387.1 97.54L387.1 103.57L387.1 109.6L381.06 109.6L375.01 109.6L368.97 109.6L362.93 109.6L356.88 109.6L350.84 109.6L344.79 109.6L338.75 109.6L332.71 109.6L326.66 109.6L320.62 109.6L314.58 109.6L308.53 109.6L302.49 109.6L296.44 109.6L290.4 109.6L290.4 103.57L290.4 97.54L290.4 91.51L290.4 85.47L290.4 79.44L290.4 73.41L290.4 67.38L290.4 61.35L290.4 55.32L290.4 49.29L290.4 47.31L296.44 47.33L302.49 47.31L308.53 47.28L314.58 47.31L320.62 47.39L326.66 47.31L332.71 47.01L335.68 43.26L337.02 37.23L338.75 35.6L344.79 35.56L350.84 35.54L352.68 37.23L350.84 39.32L346.9 43.26L347.82 49.29L350.84 54.72L356.88 54.54L362.93 52.17L364.81 49.29L367.02 43.26L368.7 37.23L368.97 36.25L370.14 31.19L371.53 25.16L372.52 19.13Z" fill="#94b6d7"/>
<path d="M376.57 13.1L381.06 13.1L387.1 13.1L387.1 19.13L387.1 25.16L387.1 31.19L387.1 37.23L387.1 43.26L387.1 49.29L387.1 55.32L387.1 61.35L387.1 67.38L387.1 73.41L387.1 79.44L387.1 85.47L387.1 91.51L387.1 97.54L387.1 103.57L387.1 109.6L381.06 109.6L375.01 109.6L368.97 109.6L362.93 109.6L356.88 109.6L350.84 109.6L344.79 109.6L338.75 109.6L332.71 109.6L326.66 109.6L320.62 109.6L314.58 109.6L308.53 109.6L302.49 109.6L296.44 109.6L290.4 109.6L290.4 103.57L290.4 97.54L290.4 91.51L290.4 87.42L296.44 87.41L302.49 87.42L308.53 87.44L314.58 87.42L320.62 87.36L326.66 87.35L332.71 87.66L338.75 88.16L344.79 88.09L350.84 87.08L352.86 85.47L355.41 79.44L355.9 73.41L352.64 67.38L350.84 61.35L356.88 60.49L362.93 58.19L364.98 55.32L368.59 49.29L368.97 48.18L370.28 43.26L371.59 37.23L372.99 31.19L374.43 25.16L375.01 22.18L375.59 19.13ZM290.4 61.35L290.4 61.35L290.4 61.35L290.4 61.35ZM302.49 61.35L308.53 61.35L314.58 61.35L314.58 61.35L314.58 61.35L308.53 61.35ZM326.66 61.35L332.71 60.97L338.75 61.35L332.71 61.36Z" fill="#7fadd2"/>
<path d="M379.67 13.1L381.06 13.1L387.1 13.1L387.1 19.13L387.1 25.16L387.1 31.19L387.1 37.23L387.1 43.26L387.1 49.29L387.1 55.32L387.1 61.35L387.1 67.38L387.1 73.41L387.1 79.44L387.1 85.47L387.1 91.51L387.1 97.54L387.1 103.57L387.1 109.6L381.06 109.6L375.01 109.6L368.97 109.6L362.93 109.6L356.88 109.6L350.84 109.6L344.79 109.6L338.75 109.6L332.71 109.6L326.66 109.6L320.62 109.6L314.58 109.6L308.53 109.6L302.49 109.6L296.44 109.6L290.4 109.6L290.4 103.57L290.4 97.54L290.4 92.09L296.44 92.05L302.49 92.09L308.53 92.14L314.58 92.09L320.62 91.94L326.66 91.94L332.71 92.83L338.75 94.26L344.79 94.89L350.84 94.69L356.53 91.51L356.88 91.25L361.42 85.47L362.93 80.82L363.21 79.44L363.87 73.41L364.25 67.38L365.63 61.35L368.97 56.29L369.41 55.32L371.83 49.29L373.25 43.26L374.44 37.23L375.01 34.77L375.83 31.19L377.22 25.16L378.45 19.13Z" fill="#67a4cc"/>
<path d="M382.97 13.1L387.1 13.1L387.1 19.13L387.1 25.16L387.1 31.19L387.1 37.23L387.1 43.26L387.1 49.29L387.1 55.32L387.1 61.35L387.1 67.38L387.1 73.41L387.1 79.44L387.1 85.47L387.1 91.51L387.1 97.54L387.1 103.57L387.1 109.6L381.06 109.6L375.01 109.6L368.97 109.6L362.93 109.6L356.88 109.6L350.84 109.6L344.79 109.6L338.75 109.6L332.71 109.6L326.66 109.6L320.62 109.6L314.58 109.6L308.53 109.6L302.49 109.6L296.44 109.6L290.4 109.6L290.4 103.57L290.4 97.54L290.4 95.72L296.44 95.67L302.49 95.72L308.53 95.78L314.58 95.72L320.62 95.55L326.66 95.67L332.71 97.24L333.59 97.54L338.75 100.04L344.79 101.98L350.84 103.21L356.88 100.97L360.45 97.54L362.93 95.2L364.71 91.51L366.97 85.47L367.98 79.44L368.62 73.41L368.97 70.63L369.34 67.38L370.64 61.35L373.13 55.32L375.01 49.29L375.01 49.29L376.2 43.26L377.33 37.23L378.65 31.19L379.99 25.16L381.06 20.22L381.34 19.13Z" fill="#4d99c6"/>
<path d="M386.41 13.1L387.1 13.1L387.1 19.13L387.1 25.16L387.1 31.19L387.1 37.23L387.1 43.26L387.1 49.29L387.1 55.32L387.1 61.35L387.1 67.38L387.1 73.41L387.1 79.44L387.1 85.47L387.1 91.51L387.1 97.54L387.1 103.57L387.1 109.6L381.06 109.6L375.01 109.6L368.97 109.6L364.57 109.6L366.05 103.57L368.1 97.54L368.97 95.41L370.23 91.51L371.77 85.47L372.43 79.44L372.89 73.41L373.72 67.38L375.01 61.35L375.01 61.35L376.66 55.32L378.03 49.29L379.13 43.26L380.23 37.23L381.06 33.25L381.57 31.19L383.1 25.16L384.67 19.13ZM290.4 103.57L290.4 98.89L296.44 98.87L302.49 98.89L308.53 98.92L314.58 98.89L320.62 98.94L326.66 99.45L332.71 102L335.29 103.57L338.75 107.71L341.15 109.6L338.75 109.6L332.71 109.6L326.66 109.6L320.62 109.6L314.58 109.6L308.53 109.6L302.49 109.6L296.44 109.6L290.4 109.6Z" fill="#338ebf"/>
<path d="M386.43 25.16L387.1 22.59L387.1 25.16L387.1 31.19L387.1 37.23L387.1 43.26L387.1 49.29L387.1 55.32L387.1 61.35L387.1 67.38L387.1 73.41L387.1 79.44L387.1 85.47L387.1 91.51L387.1 97.54L387.1 103.57L387.1 109.6L381.06 109.6L375.01 109.6L372.21 109.6L372.77 103.57L373.88 97.54L375.01 92.94L375.31 91.51L376.33 85.47L376.72 79.44L377.03 73.41L377.77 67.38L378.73 61.35L379.98 55.32L381.04 49.29L381.06 49.2L382.23 43.26L383.57 37.23L385.03 31.19ZM290.4 103.57L290.4 101.61L296.44 101.61L302.49 101.61L308.53 101.6L314.58 101.61L320.62 102.06L326.66 103.26L327.31 103.57L332.71 108.23L333.91 109.6L332.71 109.6L326.66 109.6L320.62 109.6L314.58 109.6L308.53 109.6L302.49 109.6L296.44 109.6L290.4 109.6Z" fill="#1f81b8"/>
<path d="M385.67 43.26L387.1 37.23L387.1 43.26L387.1 49.29L387.1 55.32L387.1 61.35L387.1 67.38L387.1 73.41L387.1 79.44L387.1 85.47L387.1 91.51L387.1 97.54L387.1 103.57L387.1 109.6L381.06 109.6L378.89 109.6L378.79 103.57L379.27 97.54L380.12 91.51L380.73 85.47L380.9 79.44L381.06 73.93L381.07 73.41L381.72 67.38L382.49 61.35L383.46 55.32L384.41 49.29ZM290.4 109.6L290.4 104.3L296.44 104.36L302.49 104.3L308.53 104.25L314.58 104.3L320.62 105.32L326.66 108.12L328.31 109.6L326.66 109.6L320.62 109.6L314.58 109.6L308.53 109.6L302.49 109.6L296.44 109.6Z" fill="#0a73b2"/>
<path d="M387.01 55.32L387.1 54.62L387.1 55.32L387.1 61.35L387.1 67.38L387.1 73.41L387.1 79.44L387.1 85.47L387.1 91.51L387.1 97.54L387.1 103.57L387.1 109.6L385.7 109.6L385 103.57L384.83 97.54L385.08 91.51L385.28 85.47L385.3 79.44L385.38 73.41L385.81 67.38L386.33 61.35ZM290.4 109.6L290.4 106.95L296.44 107.11L302.49 106.95L308.53 106.81L314.58 106.95L320.62 108.72L322.25 109.6L320.62 109.6L314.58 109.6L308.53 109.6L302.49 109.6L296.44 109.6Z" fill="#0569a5"/>
<path d="M290.4 109.6L290.4 109.6L290.4 109.6ZM302.49 109.6L302.49 109.6L308.53 109.37L314.58 109.6L308.53 109.6L302.49 109.6Z" fill="#046096"/>
</g></g>
<rect x="388" y="104.77" width="7.3" height="4.88" fill="#fff7fb"/>
<rect x="388" y="99.95" width="7.3" height="4.88" fill="#f7f0f7"/>
<rect x="388" y="95.12" width="7.3" height="4.88" fill="#efeaf3"/>
<rect x="388" y="90.3" width="7.3" height="4.88" fill="#e5e1ef"/>
<rect x="388" y="85.47" width="7.3" height="4.88" fill="#d9d8ea"/>
<rect x="388" y="80.65" width="7.3" height="4.88" fill="#cccfe5"/>
<rect x="388" y="75.82" width="7.3" height="4.88" fill="#bac6e0"/>
<rect x="388" y="71" width="7.3" height="4.88" fill="#a8bedc"/>
<rect x="388" y="66.17" width="7.3" height="4.88" fill="#94b6d7"/>
<rect x="388" y="61.35" width="7.3" height="4.88" fill="#7fadd2"/>
<rect x="388" y="56.52" width="7.3" height="4.88" fill="#67a4cc"/>
<rect x="388" y="51.7" width="7.3" height="4.88" fill="#4d99c6"/>
<rect x="388" y="46.87" width="7.3" height="4.88" fill="#338ebf"/>
<rect x="388" y="42.05" width="7.3" height="4.88" fill="#1f81b8"/>
<rect x="388" y="37.22" width="7.3" height="4.88" fill="#0a73b2"/>
<rect x="388" y="32.4" width="7.3" height="4.88" fill="#0569a5"/>
<rect x="388" y="27.57" width="7.3" height="4.88" fill="#046096"/>
<rect x="388" y="22.75" width="7.3" height="4.88" fill="#045585"/>
<rect x="388" y="17.92" width="7.3" height="4.88" fill="#03466e"/>
<rect x="388" y="13.1" width="7.3" height="4.88" fill="#023858"/>
<rect x="388" y="13.1" width="7.3" height="96.5" fill="none" stroke="#9c9c9c" stroke-width="0.6"/>
<rect x="290.4" y="13.1" width="96.7" height="96.5" fill="none" stroke="#858585" stroke-width="0.8"/>
<path d="M302.49 109.6v-1.2 M302.49 13.1v1.2M326.66 109.6v-1.2 M326.66 13.1v1.2M350.84 109.6v-1.2 M350.84 13.1v1.2M375.01 109.6v-1.2 M375.01 13.1v1.2M290.4 97.54h1.2 M387.1 97.54h-1.2M290.4 73.41h1.2 M387.1 73.41h-1.2M290.4 49.29h1.2 M387.1 49.29h-1.2M290.4 25.16h1.2 M387.1 25.16h-1.2M395.3 13.1h-1.2M395.3 29.18h-1.2M395.3 45.27h-1.2M395.3 61.35h-1.2M395.3 77.43h-1.2M395.3 93.52h-1.2M395.3 109.6h-1.2" stroke="#858585" stroke-width="0.6" fill="none"/>
<text class="t" x="338.75" y="10.4" text-anchor="middle">MAE of <tspan class="i">T</tspan><tspan class="sub" dy="1.6">m01</tspan><tspan dy="-1.6">(s)</tspan></text>
<text class="cb" x="397.9" y="16.2">0.5707</text>
<text class="cb" x="397.9" y="32.28">0.5189</text>
<text class="cb" x="397.9" y="48.37">0.4671</text>
<text class="cb" x="397.9" y="64.45">0.4153</text>
<text class="cb" x="397.9" y="80.53">0.3635</text>
<text class="cb" x="397.9" y="96.62">0.3117</text>
<text class="cb" x="397.9" y="112.7">0.2599</text>
<g filter="url(#soft)"><g clip-path="url(#c3)">
<path d="M419.8 13.1L425.84 13.1L431.89 13.1L437.93 13.1L443.98 13.1L450.02 13.1L456.06 13.1L462.11 13.1L468.15 13.1L474.19 13.1L480.24 13.1L486.28 13.1L492.33 13.1L498.37 13.1L504.41 13.1L510.46 13.1L516.5 13.1L516.5 19.13L516.5 25.16L516.5 31.19L516.5 37.23L516.5 43.26L516.5 49.29L516.5 55.32L516.5 61.35L516.5 67.38L516.5 73.41L516.5 79.44L516.5 85.47L516.5 91.51L516.5 97.54L516.5 103.57L516.5 109.6L510.46 109.6L504.41 109.6L498.37 109.6L492.33 109.6L486.28 109.6L480.24 109.6L474.19 109.6L468.15 109.6L462.11 109.6L456.06 109.6L450.02 109.6L443.98 109.6L437.93 109.6L431.89 109.6L425.84 109.6L419.8 109.6L419.8 103.57L419.8 97.54L419.8 91.51L419.8 85.47L419.8 79.44L419.8 73.41L419.8 67.38L419.8 61.35L419.8 55.32L419.8 49.29L419.8 43.26L419.8 37.23L419.8 31.19L419.8 25.16L419.8 19.13Z" fill="#d9d8ea"/>
<path d="M419.8 19.13L419.8 16.56L425.84 16.56L431.89 16.56L437.93 16.57L443.98 16.56L450.02 16.55L456.06 16.56L462.11 16.6L468.15 16.56L474.19 16.5L480.24 17.34L485.14 19.13L486.28 19.9L489.33 19.13L492.33 18.6L494.02 13.1L498.37 13.1L504.41 13.1L510.46 13.1L516.5 13.1L516.5 19.13L516.5 25.16L516.5 31.19L516.5 37.23L516.5 43.26L516.5 49.29L516.5 55.32L516.5 61.35L516.5 67.38L516.5 73.41L516.5 79.44L516.5 85.47L516.5 91.51L516.5 97.54L516.5 103.57L516.5 109.6L510.46 109.6L504.41 109.6L498.37 109.6L492.33 109.6L486.28 109.6L480.24 109.6L474.19 109.6L468.15 109.6L462.11 109.6L456.06 109.6L450.02 109.6L443.98 109.6L437.93 109.6L431.89 109.6L425.84 109.6L419.8 109.6L419.8 103.57L419.8 97.54L419.8 91.51L419.8 85.47L419.8 79.44L419.8 73.41L419.8 67.38L419.8 61.35L419.8 55.32L419.8 49.29L419.8 43.26L419.8 37.23L419.8 31.19L419.8 25.16Z" fill="#cccfe5"/>
<path d="M497.4 13.1L498.37 13.1L504.41 13.1L510.46 13.1L516.5 13.1L516.5 19.13L516.5 25.16L516.5 31.19L516.5 37.23L516.5 43.26L516.5 49.29L516.5 55.32L516.5 61.35L516.5 67.38L516.5 73.41L516.5 79.44L516.5 85.47L516.5 91.51L516.5 97.54L516.5 103.57L516.5 109.6L510.46 109.6L504.41 109.6L498.37 109.6L492.33 109.6L486.28 109.6L480.24 109.6L474.19 109.6L468.15 109.6L462.11 109.6L456.06 109.6L450.02 109.6L443.98 109.6L437.93 109.6L431.89 109.6L425.84 109.6L419.8 109.6L419.8 103.57L419.8 97.54L419.8 91.51L419.8 85.47L419.8 79.44L419.8 73.41L419.8 67.38L419.8 61.35L419.8 55.32L419.8 49.29L419.8 43.26L419.8 39.15L425.84 39.16L431.89 39.15L437.93 39.15L443.98 39.15L450.02 39.17L456.06 39.15L462.11 39.09L462.97 37.23L468.15 32.36L474.19 32.23L480.24 32.14L485.7 37.23L486.28 41.19L489.99 37.23L492.33 33.81L492.88 31.19L494.16 25.16L495.76 19.13Z" fill="#bac6e0"/>
<path d="M500.23 13.1L504.41 13.1L510.46 13.1L516.5 13.1L516.5 19.13L516.5 25.16L516.5 31.19L516.5 37.23L516.5 43.26L516.5 49.29L516.5 55.32L516.5 61.35L516.5 67.38L516.5 73.41L516.5 79.44L516.5 85.47L516.5 91.51L516.5 97.54L516.5 103.57L516.5 109.6L510.46 109.6L504.41 109.6L498.37 109.6L492.33 109.6L486.28 109.6L480.24 109.6L474.19 109.6L468.15 109.6L462.11 109.6L456.06 109.6L450.02 109.6L443.98 109.6L437.93 109.6L431.89 109.6L425.84 109.6L419.8 109.6L419.8 103.57L419.8 97.54L419.8 91.51L419.8 85.47L419.8 79.44L419.8 73.41L419.8 67.38L419.8 61.35L419.8 55.32L419.8 49.29L419.8 43.26L419.8 43.01L425.84 43.03L431.89 43.01L437.93 42.99L443.98 43.01L450.02 43.07L456.06 43.01L462.11 42.8L464.7 37.23L468.15 33.98L474.19 33.9L480.24 33.84L483.88 37.23L480.24 41.41L478.39 43.26L479.69 49.29L480.24 52.9L486.28 52.3L489.7 49.29L492.33 47.03L493.53 43.26L495.15 37.23L496.47 31.19L497.83 25.16L498.37 23.07L499.11 19.13Z" fill="#a8bedc"/>
<path d="M502.85 13.1L504.41 13.1L510.46 13.1L516.5 13.1L516.5 19.13L516.5 25.16L516.5 31.19L516.5 37.23L516.5 43.26L516.5 49.29L516.5 55.32L516.5 61.35L516.5 67.38L516.5 73.41L516.5 79.44L516.5 85.47L516.5 91.51L516.5 97.54L516.5 103.57L516.5 109.6L510.46 109.6L504.41 109.6L498.37 109.6L492.33 109.6L486.28 109.6L480.24 109.6L474.19 109.6L468.15 109.6L462.11 109.6L456.06 109.6L450.02 109.6L443.98 109.6L437.93 109.6L431.89 109.6L425.84 109.6L419.8 109.6L419.8 103.57L419.8 97.54L419.8 91.51L419.8 87.58L425.84 87.56L431.89 87.58L437.93 87.6L443.98 87.58L450.02 87.52L456.06 87.51L462.11 87.81L468.15 88.36L474.19 88.44L480.24 87.82L483.77 85.47L486.28 80.16L486.51 79.44L487.36 73.41L487.73 67.38L488.95 61.35L492.33 57.11L492.97 55.32L495.29 49.29L497.12 43.26L498.37 38.46L498.63 37.23L499.71 31.19L500.76 25.16L501.83 19.13ZM466.42 37.23L468.15 35.6L474.19 35.56L480.24 35.53L482.06 37.23L480.24 39.32L476.29 43.26L476.94 49.29L474.19 53.81L470.37 55.32L468.15 57.01L462.11 57.44L456.06 56.99L450.02 56.86L443.98 56.99L437.93 57.04L431.89 56.99L425.84 56.95L419.8 56.99L419.8 55.32L419.8 49.29L419.8 47.19L425.84 47.22L431.89 47.19L437.93 47.16L443.98 47.19L450.02 47.28L456.06 47.19L462.11 46.85L464.93 43.26Z" fill="#94b6d7"/>
<path d="M505.37 13.1L510.46 13.1L516.5 13.1L516.5 19.13L516.5 25.16L516.5 31.19L516.5 37.23L516.5 43.26L516.5 49.29L516.5 55.32L516.5 61.35L516.5 67.38L516.5 73.41L516.5 79.44L516.5 85.47L516.5 91.51L516.5 97.54L516.5 103.57L516.5 109.6L510.46 109.6L504.41 109.6L498.37 109.6L492.33 109.6L486.28 109.6L480.24 109.6L474.19 109.6L468.15 109.6L462.11 109.6L456.06 109.6L450.02 109.6L443.98 109.6L437.93 109.6L431.89 109.6L425.84 109.6L419.8 109.6L419.8 103.57L419.8 97.54L419.8 91.73L425.84 91.68L431.89 91.73L437.93 91.77L443.98 91.73L450.02 91.57L456.06 91.56L462.11 92.4L468.15 93.69L474.19 93.89L480.24 93.42L484.69 91.51L486.28 90.56L490.54 85.47L492.33 79.53L492.34 79.44L493.01 73.41L493.61 67.38L494.62 61.35L496.77 55.32L498.37 51.02L498.89 49.29L500.31 43.26L501.52 37.23L502.56 31.19L503.57 25.16L504.41 19.96L504.53 19.13Z" fill="#7fadd2"/>
<path d="M507.77 13.1L510.46 13.1L516.5 13.1L516.5 19.13L516.5 25.16L516.5 31.19L516.5 37.23L516.5 43.26L516.5 49.29L516.5 55.32L516.5 61.35L516.5 67.38L516.5 73.41L516.5 79.44L516.5 85.47L516.5 91.51L516.5 97.54L516.5 103.57L516.5 109.6L510.46 109.6L504.41 109.6L498.37 109.6L492.33 109.6L486.28 109.6L480.24 109.6L474.19 109.6L468.15 109.6L462.11 109.6L456.06 109.6L450.02 109.6L443.98 109.6L437.93 109.6L431.89 109.6L425.84 109.6L419.8 109.6L419.8 103.57L419.8 97.54L419.8 94.95L425.84 94.9L431.89 94.95L437.93 95.01L443.98 94.95L450.02 94.78L456.06 94.88L462.11 96.34L465.75 97.54L468.15 98.69L474.19 99.33L480.24 99.01L484.47 97.54L486.28 96.99L492.33 92.21L492.64 91.51L494.77 85.47L495.73 79.44L496.43 73.41L497.24 67.38L498.37 61.75L498.44 61.35L500.23 55.32L501.96 49.29L503.28 43.26L504.41 37.23L504.41 37.23L505.31 31.19L506.13 25.16L506.93 19.13Z" fill="#67a4cc"/>
<path d="M510.16 13.1L510.46 13.1L516.5 13.1L516.5 19.13L516.5 25.16L516.5 31.19L516.5 37.23L516.5 43.26L516.5 49.29L516.5 55.32L516.5 61.35L516.5 67.38L516.5 73.41L516.5 79.44L516.5 85.47L516.5 91.51L516.5 97.54L516.5 103.57L516.5 109.6L510.46 109.6L504.41 109.6L498.37 109.6L492.33 109.6L486.28 109.6L480.24 109.6L486.28 107.79L490.46 103.57L492.33 102.32L494.18 97.54L496.57 91.51L498.25 85.47L498.37 84.7L499.06 79.44L499.73 73.41L500.59 67.38L501.76 61.35L503.44 55.32L504.41 51.69L504.97 49.29L506.09 43.26L507.08 37.22L507.87 31.19L508.57 25.16L509.33 19.13ZM419.8 103.57L419.8 98.05L425.84 98L431.89 98.05L437.93 98.09L443.98 98.05L450.02 97.95L456.06 98.27L462.11 100.73L466.93 103.57L468.15 105.01L474.19 107.76L480.24 109.6L474.19 109.6L468.15 109.6L462.11 109.6L456.06 109.6L450.02 109.6L443.98 109.6L437.93 109.6L431.89 109.6L425.84 109.6L419.8 109.6Z" fill="#4d99c6"/>
<path d="M512.89 13.1L516.5 13.1L516.5 19.13L516.5 25.16L516.5 31.19L516.5 37.23L516.5 43.26L516.5 49.29L516.5 55.32L516.5 61.35L516.5 67.38L516.5 73.41L516.5 79.44L516.5 85.47L516.5 91.51L516.5 97.54L516.5 103.57L516.5 109.6L510.46 109.6L504.41 109.6L498.37 109.6L496.11 109.6L497.27 103.57L498.37 99.55L498.77 97.54L500.31 91.51L501.5 85.47L502.21 79.44L502.85 73.41L503.82 67.38L504.41 64.5L505.05 61.35L506.48 55.32L507.74 49.29L508.8 43.26L509.75 37.23L510.43 31.19L510.46 30.98L511.08 25.16L511.87 19.13ZM419.8 103.57L419.8 100.61L425.84 100.59L431.89 100.61L437.93 100.62L443.98 100.61L450.02 100.92L456.06 101.95L459.31 103.57L462.11 106.28L465.02 109.6L462.11 109.6L456.06 109.6L450.02 109.6L443.98 109.6L437.93 109.6L431.89 109.6L425.84 109.6L419.8 109.6Z" fill="#338ebf"/>
<path d="M515.67 13.1L516.5 13.1L516.5 19.13L516.5 25.16L516.5 31.19L516.5 37.23L516.5 43.26L516.5 49.29L516.5 55.32L516.5 61.35L516.5 67.38L516.5 73.41L516.5 79.44L516.5 85.47L516.5 91.51L516.5 97.54L516.5 103.57L516.5 109.6L510.46 109.6L504.41 109.6L501.77 109.6L502.07 103.57L502.8 97.54L503.87 91.51L504.41 87.87L504.79 85.47L505.49 79.44L506.17 73.41L507.16 67.38L508.25 61.35L509.45 55.32L510.46 49.65L510.52 49.29L511.62 43.26L512.64 37.23L513.28 31.19L513.79 25.16L514.55 19.13ZM419.8 103.57L419.8 103.16L425.84 103.19L431.89 103.16L437.93 103.14L443.98 103.16L447.6 103.57L450.02 103.93L456.06 106.48L459.26 109.6L456.06 109.6L450.02 109.6L443.98 109.6L437.93 109.6L431.89 109.6L425.84 109.6L419.8 109.6Z" fill="#1f81b8"/>
<path d="M516.12 31.19L516.5 25.16L516.5 31.19L516.5 37.23L516.5 43.26L516.5 49.29L516.5 55.32L516.5 61.35L516.5 67.38L516.5 73.41L516.5 79.44L516.5 85.47L516.5 91.51L516.5 97.54L516.5 103.57L516.5 109.6L510.46 109.6L507.14 109.6L506.87 103.57L507.15 97.54L507.92 91.51L508.6 85.47L509.12 79.44L509.67 73.41L510.46 67.88L510.54 67.38L511.55 61.35L512.57 55.32L513.51 49.29L514.59 43.26L515.61 37.23ZM419.8 109.6L419.8 105.74L425.84 105.86L431.89 105.74L437.93 105.63L443.98 105.74L450.02 107.34L453.79 109.6L450.02 109.6L443.98 109.6L437.93 109.6L431.89 109.6L425.84 109.6Z" fill="#0a73b2"/>
<path d="M515.77 55.32L516.5 49.29L516.5 55.32L516.5 61.35L516.5 67.38L516.5 73.41L516.5 79.44L516.5 85.47L516.5 91.51L516.5 97.54L516.5 103.57L516.5 109.6L513.12 109.6L512.36 103.57L512.16 97.54L512.58 91.51L513.01 85.47L513.42 79.44L513.86 73.41L514.49 67.38L515.08 61.35ZM419.8 109.6L419.8 108.31L425.84 108.54L431.89 108.31L437.93 108.1L443.98 108.31L447.58 109.6L443.98 109.6L437.93 109.6L431.89 109.6L425.84 109.6Z" fill="#0569a5"/>
</g></g>
<rect x="517.4" y="104.77" width="7.3" height="4.88" fill="#fff7fb"/>
<rect x="517.4" y="99.95" width="7.3" height="4.88" fill="#f7f0f7"/>
<rect x="517.4" y="95.12" width="7.3" height="4.88" fill="#efeaf3"/>
<rect x="517.4" y="90.3" width="7.3" height="4.88" fill="#e5e1ef"/>
<rect x="517.4" y="85.47" width="7.3" height="4.88" fill="#d9d8ea"/>
<rect x="517.4" y="80.65" width="7.3" height="4.88" fill="#cccfe5"/>
<rect x="517.4" y="75.82" width="7.3" height="4.88" fill="#bac6e0"/>
<rect x="517.4" y="71" width="7.3" height="4.88" fill="#a8bedc"/>
<rect x="517.4" y="66.17" width="7.3" height="4.88" fill="#94b6d7"/>
<rect x="517.4" y="61.35" width="7.3" height="4.88" fill="#7fadd2"/>
<rect x="517.4" y="56.52" width="7.3" height="4.88" fill="#67a4cc"/>
<rect x="517.4" y="51.7" width="7.3" height="4.88" fill="#4d99c6"/>
<rect x="517.4" y="46.87" width="7.3" height="4.88" fill="#338ebf"/>
<rect x="517.4" y="42.05" width="7.3" height="4.88" fill="#1f81b8"/>
<rect x="517.4" y="37.22" width="7.3" height="4.88" fill="#0a73b2"/>
<rect x="517.4" y="32.4" width="7.3" height="4.88" fill="#0569a5"/>
<rect x="517.4" y="27.57" width="7.3" height="4.88" fill="#046096"/>
<rect x="517.4" y="22.75" width="7.3" height="4.88" fill="#045585"/>
<rect x="517.4" y="17.92" width="7.3" height="4.88" fill="#03466e"/>
<rect x="517.4" y="13.1" width="7.3" height="4.88" fill="#023858"/>
<rect x="517.4" y="13.1" width="7.3" height="96.5" fill="none" stroke="#9c9c9c" stroke-width="0.6"/>
<rect x="419.8" y="13.1" width="96.7" height="96.5" fill="none" stroke="#858585" stroke-width="0.8"/>
<path d="M431.89 109.6v-1.2 M431.89 13.1v1.2M456.06 109.6v-1.2 M456.06 13.1v1.2M480.24 109.6v-1.2 M480.24 13.1v1.2M504.41 109.6v-1.2 M504.41 13.1v1.2M419.8 97.54h1.2 M516.5 97.54h-1.2M419.8 73.41h1.2 M516.5 73.41h-1.2M419.8 49.29h1.2 M516.5 49.29h-1.2M419.8 25.16h1.2 M516.5 25.16h-1.2M524.7 13.1h-1.2M524.7 29.18h-1.2M524.7 45.27h-1.2M524.7 61.35h-1.2M524.7 77.43h-1.2M524.7 93.52h-1.2M524.7 109.6h-1.2" stroke="#858585" stroke-width="0.6" fill="none"/>
<text class="t" x="468.15" y="10.4" text-anchor="middle">MAE of <tspan class="i">T</tspan><tspan class="sub" dy="1.6">m02</tspan><tspan dy="-1.6">(s)</tspan></text>
<text class="cb" x="527.3" y="16.2">0.4701</text>
<text class="cb" x="527.3" y="32.28">0.4315</text>
<text class="cb" x="527.3" y="48.37">0.3929</text>
<text class="cb" x="527.3" y="64.45">0.3543</text>
<text class="cb" x="527.3" y="80.53">0.3157</text>
<text class="cb" x="527.3" y="96.62">0.2771</text>
<text class="cb" x="527.3" y="112.7">0.2385</text>
<g filter="url(#soft)"><g clip-path="url(#c4)">
<path d="M31.6 124.2L37.64 124.2L43.69 124.2L49.73 124.2L55.78 124.2L61.82 124.2L67.86 124.2L73.91 124.2L79.95 124.2L85.99 124.2L92.04 124.2L98.08 124.2L104.12 124.2L110.17 124.2L116.21 124.2L122.26 124.2L128.3 124.2L128.3 130.23L128.3 136.26L128.3 142.29L128.3 148.32L128.3 154.36L128.3 160.39L128.3 166.42L128.3 172.45L128.3 178.48L128.3 184.51L128.3 190.54L128.3 196.57L128.3 202.61L128.3 208.64L128.3 214.67L128.3 220.7L122.26 220.7L116.21 220.7L110.17 220.7L104.12 220.7L98.08 220.7L92.04 220.7L85.99 220.7L79.95 220.7L73.91 220.7L67.86 220.7L61.82 220.7L55.78 220.7L49.73 220.7L43.69 220.7L37.64 220.7L31.6 220.7L31.6 214.67L31.6 208.64L31.6 202.61L31.6 196.57L31.6 190.54L31.6 184.51L31.6 178.48L31.6 172.45L31.6 166.42L31.6 160.39L31.6 154.36L31.6 148.32L31.6 142.29L31.6 136.26L31.6 130.23Z" fill="#f7f0f7"/>
<path d="M31.6 124.2L37.64 124.2L43.69 124.2L49.73 124.2L55.78 124.2L61.82 124.2L67.86 124.2L73.91 124.2L79.95 124.2L85.99 124.2L92.04 124.2L98.08 124.2L104.12 124.2L110.17 124.2L116.21 124.2L122.26 124.2L128.3 124.2L128.3 130.23L128.3 136.26L128.3 142.29L128.3 148.32L128.3 154.36L128.3 160.39L128.3 166.42L128.3 172.45L128.3 178.48L128.3 184.51L128.3 190.54L128.3 196.57L128.3 202.61L128.3 208.64L128.3 214.67L128.3 220.7L122.26 220.7L116.21 220.7L110.17 220.7L104.12 220.7L98.08 220.7L92.04 220.7L85.99 220.7L79.95 220.7L73.91 220.7L67.86 220.7L61.82 220.7L55.78 220.7L49.73 220.7L43.69 220.7L37.64 220.7L31.6 220.7L31.6 214.67L31.6 208.64L31.6 202.61L31.6 196.57L31.6 190.54L31.6 184.51L31.6 178.48L31.6 172.45L31.6 166.42L31.6 160.39L31.6 154.36L31.6 148.32L31.6 142.29L31.6 136.26L31.6 130.23ZM61.82 207.99L61.24 208.64L61.82 209.14L67.36 214.67L67.86 215.16L68.43 214.67L68.47 208.64L67.86 207.99ZM92.04 127.22L89.99 130.23L90.56 136.26L90.95 142.29L92.04 142.84L93.15 142.29L98.08 137.38L99.59 136.26L100.3 130.23L98.08 126.7Z" fill="#efeaf3"/>
<path d="M106.12 124.2L110.17 124.2L116.21 124.2L122.26 124.2L128.3 124.2L128.3 130.23L128.3 136.26L128.3 142.29L128.3 148.32L128.3 154.36L128.3 160.39L128.3 166.42L128.3 172.45L128.3 178.48L128.3 184.51L128.3 190.54L128.3 196.57L128.3 202.61L128.3 208.64L128.3 214.67L128.3 220.7L122.26 220.7L116.21 220.7L110.17 220.7L104.12 220.7L98.08 220.7L92.04 220.7L85.99 220.7L79.95 220.7L73.91 220.7L67.86 220.7L61.82 220.7L55.78 220.7L49.73 220.7L43.69 220.7L37.64 220.7L31.6 220.7L31.6 214.67L31.6 208.64L31.6 202.61L31.6 196.57L31.6 190.54L31.6 184.51L31.6 178.48L31.6 172.45L31.6 166.42L31.6 160.39L31.6 154.36L31.6 148.32L31.6 142.29L31.6 136.26L31.6 130.73L37.64 130.72L43.69 130.73L49.73 130.74L55.78 130.73L61.82 130.71L67.86 130.73L73.91 130.83L79.95 130.74L85.99 130.47L87.61 136.26L88.78 142.29L92.04 143.94L95.39 142.29L98.08 139.61L102.61 136.26L104.12 131.51L104.62 130.23ZM61.82 207.34L60.67 208.64L61.82 209.64L66.86 214.67L67.86 215.66L69 214.67L69.08 208.64L67.86 207.34Z" fill="#e5e1ef"/>
<path d="M110.12 124.2L110.17 124.2L116.21 124.2L122.26 124.2L128.3 124.2L128.3 130.23L128.3 136.26L128.3 142.29L128.3 148.32L128.3 154.36L128.3 160.39L128.3 166.42L128.3 172.45L128.3 178.48L128.3 184.51L128.3 190.54L128.3 196.57L128.3 202.61L128.3 208.64L128.3 214.67L128.3 220.7L122.26 220.7L116.21 220.7L110.17 220.7L104.12 220.7L98.08 220.7L92.04 220.7L85.99 220.7L79.95 220.7L73.91 220.7L67.86 220.7L61.82 220.7L55.78 220.7L49.73 220.7L43.69 220.7L37.64 220.7L31.6 220.7L31.6 214.67L31.6 208.64L31.6 202.61L31.6 196.57L31.6 190.54L31.6 184.51L31.6 178.48L31.6 172.45L31.6 166.42L31.6 160.39L31.6 154.36L31.6 148.32L31.6 142.29L31.6 140.45L37.64 140.44L43.69 140.45L49.73 140.46L55.78 140.45L61.82 140.42L67.86 140.45L73.91 140.57L79.95 140.45L85.99 139.99L86.6 142.29L92.04 145.04L97.62 142.29L98.08 141.84L104.12 139.32L105.86 136.26L108.3 130.23ZM61.82 206.69L60.09 208.64L61.82 210.14L66.36 214.67L67.86 216.15L69.56 214.67L69.69 208.64L67.86 206.69Z" fill="#d9d8ea"/>
<path d="M113.17 124.2L116.21 124.2L122.26 124.2L128.3 124.2L128.3 130.23L128.3 136.26L128.3 142.29L128.3 148.32L128.3 154.36L128.3 160.39L128.3 166.42L128.3 172.45L128.3 178.48L128.3 184.51L128.3 190.54L128.3 196.57L128.3 202.61L128.3 208.64L128.3 214.67L128.3 220.7L122.26 220.7L116.21 220.7L110.17 220.7L104.12 220.7L98.08 220.7L92.04 220.7L85.99 220.7L79.95 220.7L73.91 220.7L67.86 220.7L61.82 220.7L55.78 220.7L49.73 220.7L43.69 220.7L37.64 220.7L31.6 220.7L31.6 214.67L31.6 208.64L31.6 202.61L31.6 196.57L31.6 190.54L31.6 184.51L31.6 178.48L31.6 172.45L31.6 166.42L31.6 160.39L31.6 154.36L31.6 148.32L31.6 148.32L37.64 148.32L43.69 148.32L43.69 148.32L49.73 148.33L55.78 148.32L55.78 148.32L61.82 148.32L67.86 148.32L67.86 148.32L73.91 148.35L73.92 148.32L79.95 143.98L85.99 143.89L92.04 146.13L98.08 147.81L104.12 145.35L105.88 142.29L109.32 136.26L110.17 134.26L111.55 130.23ZM61.82 206.04L59.52 208.64L61.82 210.64L65.86 214.67L67.86 216.65L70.13 214.67L70.3 208.64L67.86 206.04Z" fill="#cccfe5"/>
<path d="M116.21 124.2L116.21 124.2L122.26 124.2L128.3 124.2L128.3 130.23L128.3 136.26L128.3 142.29L128.3 148.32L128.3 154.36L128.3 160.39L128.3 166.42L128.3 172.45L128.3 178.48L128.3 184.51L128.3 190.54L128.3 196.57L128.3 202.61L128.3 208.64L128.3 214.67L128.3 220.7L122.26 220.7L116.21 220.7L110.17 220.7L104.12 220.7L98.08 220.7L92.04 220.7L85.99 220.7L79.95 220.7L73.91 220.7L67.86 220.7L61.82 220.7L55.78 220.7L49.73 220.7L43.69 220.7L37.64 220.7L31.6 220.7L31.6 214.67L31.6 208.64L31.6 202.61L31.6 196.57L31.6 190.54L31.6 184.51L31.6 178.48L31.6 172.45L31.6 166.42L31.6 160.39L31.6 154.7L37.64 154.71L43.69 154.7L49.73 154.69L55.78 154.7L61.82 154.74L67.86 154.7L73.91 154.59L74.14 154.36L76.94 148.32L79.95 146.15L85.99 146.11L92.04 147.23L95.17 148.32L92.04 152.8L90.48 154.36L92.04 156.83L98.08 155.18L99.38 154.36L104.12 151.44L105.81 148.32L109.28 142.29L110.17 140.75L112.19 136.26L114.36 130.23ZM61.82 205.39L58.94 208.64L61.82 211.14L65.36 214.67L67.86 217.14L70.7 214.67L70.91 208.64L67.86 205.39Z" fill="#bac6e0"/>
<path d="M118.8 124.2L122.26 124.2L128.3 124.2L128.3 130.23L128.3 136.26L128.3 142.29L128.3 148.32L128.3 154.36L128.3 160.39L128.3 166.42L128.3 172.45L128.3 178.48L128.3 184.51L128.3 190.54L128.3 196.57L128.3 202.61L128.3 208.64L128.3 214.67L128.3 220.7L122.26 220.7L116.21 220.7L110.17 220.7L104.12 220.7L98.08 220.7L92.04 220.7L85.99 220.7L79.95 220.7L73.91 220.7L67.86 220.7L61.82 220.7L55.78 220.7L49.73 220.7L43.69 220.7L37.64 220.7L31.6 220.7L31.6 214.67L31.6 208.64L31.6 202.61L31.6 196.57L31.6 190.54L31.6 184.51L31.6 178.48L31.6 172.45L31.6 166.42L31.6 160.39L37.64 160.4L43.69 160.39L43.69 160.39L49.73 160.37L55.78 160.39L55.78 160.39L61.82 160.43L67.86 160.39L67.86 160.39L73.91 160.19L79.95 160.39L79.95 160.39L85.99 160.39L92.04 162.43L98.08 161.19L99.72 160.39L104.12 157.46L105.97 154.36L109.19 148.32L110.17 146.63L112.15 142.29L114.87 136.26L116.21 132.68L117.07 130.23ZM61.82 204.74L58.37 208.64L61.82 211.64L64.86 214.67L67.86 217.63L71.26 214.67L71.52 208.64L67.86 204.74Z" fill="#a8bedc"/>
<path d="M121.38 124.2L122.26 124.2L128.3 124.2L128.3 130.23L128.3 136.26L128.3 142.29L128.3 148.32L128.3 154.36L128.3 160.39L128.3 166.42L128.3 172.45L128.3 178.48L128.3 184.51L128.3 190.54L128.3 196.57L128.3 202.61L128.3 208.64L128.3 214.67L128.3 220.7L122.26 220.7L116.21 220.7L110.17 220.7L104.12 220.7L98.08 220.7L92.04 220.7L85.99 220.7L79.95 220.7L73.91 220.7L67.86 220.7L61.82 220.7L55.78 220.7L49.73 220.7L43.69 220.7L37.64 220.7L31.6 220.7L31.6 214.67L31.6 208.64L31.6 202.61L31.6 196.57L31.6 190.54L31.6 184.51L31.6 178.48L31.6 172.45L31.6 166.42L31.6 165.24L37.64 165.25L43.69 165.24L49.73 165.22L55.78 165.24L61.82 165.27L67.86 165.24L73.91 165.12L79.95 165.22L85.99 165.86L90.94 166.42L92.04 166.52L92.65 166.42L98.08 165.54L104.12 162.86L106 160.39L109.46 154.36L110.17 153.01L112.11 148.32L114.83 142.29L116.21 139.23L117.46 136.26L119.58 130.23ZM61.82 204.09L57.79 208.64L61.82 212.13L64.36 214.67L67.86 218.13L71.83 214.67L72.13 208.64L67.86 204.09Z" fill="#94b6d7"/>
<path d="M122.08 130.23L122.26 129.67L124.11 124.2L128.3 124.2L128.3 130.23L128.3 136.26L128.3 142.29L128.3 148.32L128.3 154.36L128.3 160.39L128.3 166.42L128.3 172.45L128.3 178.48L128.3 184.51L128.3 190.54L128.3 196.57L128.3 202.61L128.3 208.64L128.3 214.67L128.3 220.7L122.26 220.7L116.21 220.7L110.17 220.7L104.12 220.7L98.08 220.7L92.04 220.7L85.99 220.7L79.95 220.7L73.91 220.7L67.86 220.7L61.82 220.7L55.78 220.7L49.73 220.7L43.69 220.7L37.64 220.7L31.6 220.7L31.6 214.67L31.6 208.64L31.6 202.61L31.6 196.57L31.6 190.54L31.6 184.51L31.6 178.48L31.6 172.45L31.6 170.74L37.64 170.74L43.69 170.74L49.73 170.73L55.78 170.74L61.82 170.75L67.86 170.74L73.91 170.7L79.95 170.73L85.99 170.95L92.04 171.08L98.08 170.29L104.12 167.98L105.38 166.42L109.75 160.39L110.17 159.64L112.49 154.36L114.85 148.32L116.21 145.26L117.44 142.29L119.94 136.26ZM61.82 203.44L57.21 208.64L61.82 212.63L63.86 214.67L67.86 218.62L72.4 214.67L72.74 208.64L67.86 203.44Z" fill="#7fadd2"/>
<path d="M126.9 124.2L128.3 124.2L128.3 130.23L128.3 136.26L128.3 142.29L128.3 148.32L128.3 154.36L128.3 160.39L128.3 166.42L128.3 172.45L128.3 178.48L128.3 184.51L128.3 190.54L128.3 196.57L128.3 202.61L128.3 208.64L128.3 214.67L128.3 220.7L122.26 220.7L116.21 220.7L110.17 220.7L104.12 220.7L98.08 220.7L92.04 220.7L85.99 220.7L79.95 220.7L73.91 220.7L67.86 220.7L61.82 220.7L55.78 220.7L49.73 220.7L43.69 220.7L37.64 220.7L31.6 220.7L31.6 214.67L31.6 208.64L31.6 202.61L31.6 201.12L37.64 201.04L43.69 201.12L49.73 201.21L55.78 201.12L61.82 200.85L67.86 200.83L73.91 202.33L74.61 202.61L79.95 205.35L85.99 206.2L92.04 204.84L94.12 202.61L98.08 196.9L98.22 196.57L100.08 190.54L101.45 184.51L102.37 178.48L104.12 176L105.21 172.45L109.87 166.42L110.17 166L113.01 160.39L115.4 154.36L116.21 152.2L117.52 148.32L119.97 142.29L122.26 136.7L122.46 136.26L124.91 130.23ZM61.82 202.79L56.64 208.64L61.82 213.13L63.36 214.67L67.86 219.12L72.96 214.67L73.35 208.64L67.86 202.8Z" fill="#67a4cc"/>
<path d="M127.77 130.23L128.3 128.6L128.3 130.23L128.3 136.26L128.3 142.29L128.3 148.32L128.3 154.36L128.3 160.39L128.3 166.42L128.3 172.45L128.3 178.48L128.3 184.51L128.3 190.54L128.3 196.57L128.3 202.61L128.3 208.64L128.3 214.67L128.3 220.7L122.26 220.7L116.21 220.7L110.17 220.7L104.12 220.7L98.08 220.7L92.04 220.7L85.99 220.7L79.95 220.7L73.91 220.7L67.86 220.7L61.82 220.7L55.78 220.7L49.73 220.7L43.69 220.7L37.64 220.7L31.6 220.7L31.6 214.67L31.6 208.64L31.6 206.27L37.64 206.17L43.69 206.27L49.73 206.37L55.78 206.27L56.06 208.64L61.82 213.63L62.86 214.67L67.86 219.61L73.53 214.67L73.91 209.37L78.83 214.67L79.95 216.68L85.99 218.17L92.04 217L95.55 214.67L98.08 212.73L101.04 208.64L103.68 202.61L104.12 201.35L105.06 196.57L106.31 190.54L107.47 184.51L108.62 178.48L110.17 173.78L110.54 172.45L113.67 166.42L116.21 160.39L116.21 160.39L118.19 154.36L120.13 148.32L122.26 142.92L122.54 142.29L125.38 136.26Z" fill="#4d99c6"/>
<path d="M128.3 136.26L128.3 136.26L128.3 136.26L128.3 142.29L128.3 148.32L128.3 154.36L128.3 160.39L128.3 166.42L128.3 172.45L128.3 178.48L128.3 184.51L128.3 190.54L128.3 196.57L128.3 202.61L128.3 208.64L128.3 214.67L128.3 220.7L122.26 220.7L116.21 220.7L110.17 220.7L104.13 220.7L106.34 214.67L107.91 208.64L108.85 202.61L109.74 196.57L110.17 194.43L110.87 190.54L112 184.51L113.23 178.48L114.9 172.45L116.21 169.53L117.26 166.42L119.14 160.39L120.93 154.36L122.26 149.99L122.82 148.32L125.54 142.29ZM31.6 214.67L31.6 210.22L37.64 210.18L43.69 210.22L49.73 210.26L55.77 210.22L61.82 214.13L62.36 214.67L67.86 220.11L73.91 219.15L74.78 220.7L73.91 220.7L67.86 220.7L61.82 220.7L55.78 220.7L49.73 220.7L43.69 220.7L37.64 220.7L31.6 220.7Z" fill="#338ebf"/>
<path d="M125.86 148.32L128.3 142.85L128.3 148.32L128.3 154.36L128.3 160.39L128.3 166.42L128.3 172.45L128.3 178.48L128.3 184.51L128.3 190.54L128.3 196.57L128.3 202.61L128.3 208.64L128.3 214.67L128.3 220.7L122.26 220.7L116.21 220.7L110.17 220.7L110.14 220.7L110.17 220.6L111.83 214.67L112.92 208.64L113.48 202.61L114.07 196.57L115.09 190.54L116.21 184.51L116.21 184.51L117.42 178.48L118.75 172.45L120.52 166.42L122.07 160.39L122.26 159.73L123.84 154.36ZM31.6 214.67L31.6 213.39L37.64 213.42L43.69 213.39L49.73 213.37L55.78 213.39L61.82 214.63L61.85 214.67L67.86 220.6L68.98 220.7L67.86 220.7L61.82 220.7L55.78 220.7L49.73 220.7L43.69 220.7L37.64 220.7L31.6 220.7Z" fill="#1f81b8"/>
<path d="M126.9 154.36L128.3 150.16L128.3 154.36L128.3 160.39L128.3 166.42L128.3 172.45L128.3 178.48L128.3 184.51L128.3 190.54L128.3 196.57L128.3 202.61L128.3 208.64L128.3 214.67L128.3 220.7L122.26 220.7L116.21 220.7L115.2 220.7L116.21 216.73L116.68 214.67L117.52 208.64L117.91 202.61L118.36 196.57L119.21 190.54L120.14 184.51L121.23 178.48L122.26 173.15L122.39 172.45L123.83 166.42L125.18 160.39ZM31.6 220.7L31.6 216.39L37.64 216.54L43.69 216.39L49.73 216.25L55.78 216.39L61.82 218.72L64.01 220.7L61.82 220.7L55.78 220.7L49.73 220.7L43.69 220.7L37.64 220.7Z" fill="#0a73b2"/>
<path d="M127.2 166.42L128.3 160.39L128.3 166.42L128.3 172.45L128.3 178.48L128.3 184.51L128.3 190.54L128.3 196.57L128.3 202.61L128.3 208.64L128.3 214.67L128.3 220.7L122.26 220.7L119.93 220.7L121.13 214.67L121.87 208.64L122.25 202.61L122.26 202.51L122.69 196.57L123.4 190.54L124.16 184.51L125.11 178.48L126.08 172.45ZM31.6 220.7L31.6 219.26L37.64 219.59L43.69 219.26L49.73 218.97L55.78 219.26L58.67 220.7L55.78 220.7L49.73 220.7L43.69 220.7L37.64 220.7Z" fill="#0569a5"/>
<path d="M127.82 190.54L128.3 184.51L128.3 190.54L128.3 196.57L128.3 202.61L128.3 208.64L128.3 214.67L128.3 220.7L124.78 220.7L125.76 214.67L126.46 208.64L126.92 202.61L127.36 196.57Z" fill="#046096"/>
</g></g>
<rect x="129.2" y="215.88" width="7.3" height="4.88" fill="#fff7fb"/>
<rect x="129.2" y="211.05" width="7.3" height="4.88" fill="#f7f0f7"/>
<rect x="129.2" y="206.22" width="7.3" height="4.88" fill="#efeaf3"/>
<rect x="129.2" y="201.4" width="7.3" height="4.88" fill="#e5e1ef"/>
<rect x="129.2" y="196.57" width="7.3" height="4.88" fill="#d9d8ea"/>
<rect x="129.2" y="191.75" width="7.3" height="4.88" fill="#cccfe5"/>
<rect x="129.2" y="186.92" width="7.3" height="4.88" fill="#bac6e0"/>
<rect x="129.2" y="182.1" width="7.3" height="4.88" fill="#a8bedc"/>
<rect x="129.2" y="177.27" width="7.3" height="4.88" fill="#94b6d7"/>
<rect x="129.2" y="172.45" width="7.3" height="4.88" fill="#7fadd2"/>
<rect x="129.2" y="167.62" width="7.3" height="4.88" fill="#67a4cc"/>
<rect x="129.2" y="162.8" width="7.3" height="4.88" fill="#4d99c6"/>
<rect x="129.2" y="157.97" width="7.3" height="4.88" fill="#338ebf"/>
<rect x="129.2" y="153.15" width="7.3" height="4.88" fill="#1f81b8"/>
<rect x="129.2" y="148.32" width="7.3" height="4.88" fill="#0a73b2"/>
<rect x="129.2" y="143.5" width="7.3" height="4.88" fill="#0569a5"/>
<rect x="129.2" y="138.67" width="7.3" height="4.88" fill="#046096"/>
<rect x="129.2" y="133.85" width="7.3" height="4.88" fill="#045585"/>
<rect x="129.2" y="129.02" width="7.3" height="4.88" fill="#03466e"/>
<rect x="129.2" y="124.2" width="7.3" height="4.88" fill="#023858"/>
<rect x="129.2" y="124.2" width="7.3" height="96.5" fill="none" stroke="#9c9c9c" stroke-width="0.6"/>
<rect x="31.6" y="124.2" width="96.7" height="96.5" fill="none" stroke="#858585" stroke-width="0.8"/>
<path d="M43.69 220.7v-1.2 M43.69 124.2v1.2M67.86 220.7v-1.2 M67.86 124.2v1.2M92.04 220.7v-1.2 M92.04 124.2v1.2M116.21 220.7v-1.2 M116.21 124.2v1.2M31.6 208.64h1.2 M128.3 208.64h-1.2M31.6 184.51h1.2 M128.3 184.51h-1.2M31.6 160.39h1.2 M128.3 160.39h-1.2M31.6 136.26h1.2 M128.3 136.26h-1.2M136.5 124.2h-1.2M136.5 140.28h-1.2M136.5 156.37h-1.2M136.5 172.45h-1.2M136.5 188.53h-1.2M136.5 204.62h-1.2M136.5 220.7h-1.2" stroke="#858585" stroke-width="0.6" fill="none"/>
<text class="t" x="79.95" y="121.5" text-anchor="middle">MAE of <tspan class="i">T</tspan><tspan class="subi" dy="1.6">e</tspan><tspan dy="-1.6">(s)</tspan></text>
<text class="cb" x="139.1" y="127.3">0.5896</text>
<text class="cb" x="139.1" y="143.38">0.5473</text>
<text class="cb" x="139.1" y="159.47">0.5050</text>
<text class="cb" x="139.1" y="175.55">0.4627</text>
<text class="cb" x="139.1" y="191.63">0.4205</text>
<text class="cb" x="139.1" y="207.72">0.3782</text>
<text class="cb" x="139.1" y="223.8">0.3359</text>
<text class="tk" x="27.8" y="211.54" text-anchor="end">18.7</text>
<text class="tk" x="27.8" y="187.41" text-anchor="end">18.9</text>
<text class="tk" x="27.8" y="163.29" text-anchor="end">19.1</text>
<text class="tk" x="27.8" y="139.16" text-anchor="end">19.3</text>
<text class="lb" transform="translate(10.3 174.45) rotate(-90)" text-anchor="middle">Latitude(degr.-North)</text>
<g filter="url(#soft)"><g clip-path="url(#c5)">
<path d="M161 124.2L167.04 124.2L173.09 124.2L179.13 124.2L185.18 124.2L191.22 124.2L197.26 124.2L203.31 124.2L209.35 124.2L215.39 124.2L221.44 124.2L227.48 124.2L233.53 124.2L239.57 124.2L245.61 124.2L251.66 124.2L257.7 124.2L257.7 130.23L257.7 136.26L257.7 142.29L257.7 148.32L257.7 154.36L257.7 160.39L257.7 166.42L257.7 172.45L257.7 178.48L257.7 184.51L257.7 190.54L257.7 196.57L257.7 202.61L257.7 208.64L257.7 214.67L257.7 220.7L251.66 220.7L245.61 220.7L239.57 220.7L233.53 220.7L227.48 220.7L221.44 220.7L215.39 220.7L209.35 220.7L203.31 220.7L197.26 220.7L191.22 220.7L185.18 220.7L179.13 220.7L173.09 220.7L167.04 220.7L161 220.7L161 214.67L161 208.64L161 202.61L161 196.57L161 190.54L161 184.51L161 178.48L161 172.45L161 166.42L161 160.39L161 154.36L161 148.32L161 142.29L161 136.26L161 130.23Z" fill="#fff7fb"/>
<path d="M161 124.2L167.04 124.2L173.09 124.2L179.13 124.2L185.18 124.2L191.22 124.2L197.26 124.2L203.31 124.2L209.35 124.2L215.39 124.2L221.44 124.2L227.48 124.2L233.53 124.2L239.57 124.2L245.61 124.2L251.66 124.2L257.7 124.2L257.7 130.23L257.7 136.26L257.7 142.29L257.7 148.32L257.7 154.36L257.7 160.39L257.7 166.42L257.7 172.45L257.7 178.48L257.7 184.51L257.7 190.54L257.7 196.57L257.7 202.61L257.7 208.64L257.7 214.67L257.7 220.7L251.66 220.7L245.61 220.7L239.57 220.7L233.53 220.7L227.48 220.7L221.44 220.7L215.39 220.7L209.35 220.7L203.31 220.7L197.26 220.7L191.22 220.7L185.18 220.7L179.13 220.7L173.09 220.7L167.04 220.7L161 220.7L161 214.67L161 208.64L161 202.61L161 196.57L161 190.54L161 184.51L161 178.48L161 172.45L161 166.42L161 160.39L161 154.36L161 148.32L161 142.29L161 136.26L161 130.23ZM191.22 208.37L190.96 208.64L191.22 208.88L197.02 214.67L197.26 214.9L197.5 214.67L197.51 208.64L197.26 208.37ZM209.35 147.97L208.95 148.32L208.93 154.36L208.94 160.39L209.35 160.71L210.21 160.39L215.39 155.22L216.26 154.36L221.44 149.19L222.3 148.32L221.44 147.46L215.39 147.96Z" fill="#f7f0f7"/>
<path d="M161 124.2L167.04 124.2L173.09 124.2L179.13 124.2L185.18 124.2L191.22 124.2L197.26 124.2L203.31 124.2L209.35 124.2L215.39 124.2L221.44 124.2L227.48 124.2L233.53 124.2L239.57 124.2L245.61 124.2L251.66 124.2L257.7 124.2L257.7 130.23L257.7 136.26L257.7 142.29L257.7 148.32L257.7 154.36L257.7 160.39L257.7 166.42L257.7 172.45L257.7 178.48L257.7 184.51L257.7 190.54L257.7 196.57L257.7 202.61L257.7 208.64L257.7 214.67L257.7 220.7L251.66 220.7L245.61 220.7L239.57 220.7L233.53 220.7L227.48 220.7L221.44 220.7L215.39 220.7L209.35 220.7L203.31 220.7L197.26 220.7L191.22 220.7L185.18 220.7L179.13 220.7L173.09 220.7L167.04 220.7L161 220.7L161 214.67L161 208.64L161 202.61L161 196.57L161 190.54L161 184.51L161 178.48L161 172.45L161 166.42L161 160.39L161 154.36L161 148.32L161 142.29L161 136.26L161 130.23ZM191.22 207.83L190.43 208.64L191.22 209.38L196.52 214.67L197.26 215.35L197.98 214.67L198.02 208.64L197.26 207.83ZM209.35 147.26L208.15 148.32L208.08 154.36L208.12 160.39L209.35 161.36L211.94 160.39L215.39 156.94L217.98 154.36L221.44 150.91L224.03 148.32L221.44 145.74L215.39 147.24Z" fill="#efeaf3"/>
<path d="M161 124.2L167.04 124.2L173.09 124.2L179.13 124.2L185.18 124.2L191.22 124.2L197.26 124.2L203.31 124.2L209.35 124.2L215.39 124.2L221.44 124.2L227.48 124.2L233.53 124.2L239.57 124.2L245.61 124.2L251.66 124.2L257.7 124.2L257.7 130.23L257.7 136.26L257.7 142.29L257.7 148.32L257.7 154.36L257.7 160.39L257.7 166.42L257.7 172.45L257.7 178.48L257.7 184.51L257.7 190.54L257.7 196.57L257.7 202.61L257.7 208.64L257.7 214.67L257.7 220.7L251.66 220.7L245.61 220.7L239.57 220.7L233.53 220.7L227.48 220.7L221.44 220.7L215.39 220.7L209.35 220.7L203.31 220.7L197.26 220.7L191.22 220.7L185.18 220.7L179.13 220.7L173.09 220.7L167.04 220.7L161 220.7L161 214.67L161 208.64L161 202.61L161 196.57L161 190.54L161 184.51L161 178.48L161 172.45L161 166.42L161 160.39L161 154.36L161 148.32L161 142.29L161 136.26L161 130.23ZM191.22 207.29L189.9 208.64L191.22 209.87L196.03 214.67L197.26 215.8L198.46 214.67L198.52 208.64L197.26 207.3ZM209.35 146.56L207.35 148.32L207.23 154.36L207.3 160.39L209.35 162.01L213.67 160.39L215.39 158.66L219.71 154.36L221.44 152.63L225.75 148.32L221.44 144.02L215.39 146.51Z" fill="#e5e1ef"/>
<path d="M161 124.2L167.04 124.2L173.09 124.2L179.13 124.2L185.18 124.2L191.22 124.2L197.26 124.2L203.31 124.2L209.35 124.2L215.39 124.2L221.44 124.2L227.48 124.2L221.44 130.23L221.44 130.23L221.44 136.26L221.44 142.29L215.39 145.79L209.35 145.85L206.54 148.32L206.38 154.36L206.48 160.39L209.35 162.65L215.39 166.42L215.39 166.42L221.44 166.42L221.44 166.42L221.44 160.39L221.44 154.36L227.48 148.32L227.48 148.32L227.48 142.29L227.48 136.26L233.53 130.23L233.53 130.23L233.53 124.2L239.57 124.2L245.61 124.2L251.66 124.2L257.7 124.2L257.7 130.23L257.7 136.26L257.7 142.29L257.7 148.32L257.7 154.36L257.7 160.39L257.7 166.42L257.7 172.45L257.7 178.48L257.7 184.51L257.7 190.54L257.7 196.57L257.7 202.61L257.7 208.64L257.7 214.67L257.7 220.7L251.66 220.7L245.61 220.7L239.57 220.7L233.53 220.7L227.48 220.7L221.44 220.7L215.39 220.7L209.35 220.7L203.31 220.7L197.26 220.7L191.22 220.7L185.18 220.7L179.13 220.7L173.09 220.7L167.04 220.7L161 220.7L161 214.67L161 208.64L161 202.61L161 196.57L161 190.54L161 184.51L161 178.48L161 172.45L161 166.42L161 160.39L161 154.36L161 148.32L161 142.29L161 136.26L161 130.23ZM191.22 206.76L189.38 208.64L191.22 210.36L195.53 214.67L197.26 216.26L198.94 214.67L199.03 208.64L197.26 206.76Z" fill="#d9d8ea"/>
<path d="M161 124.2L167.04 124.2L173.09 124.2L179.13 124.2L185.18 124.2L191.22 124.2L197.26 124.2L203.31 124.2L209.35 124.2L215.39 124.2L221.44 124.2L226.38 124.2L221.44 129.13L220.48 130.23L220.44 136.26L220.19 142.29L215.39 145.07L209.35 145.14L205.74 148.32L205.53 154.36L205.66 160.39L209.35 163.3L214.35 166.42L215.39 167.23L221.44 167.22L222.2 166.42L222.25 160.39L222.39 154.36L227.48 149.27L228.34 148.32L228.42 142.29L228.49 136.26L233.53 131.24L234.39 130.23L234.41 124.2L239.57 124.2L245.61 124.2L251.66 124.2L257.7 124.2L257.7 130.23L257.7 136.26L257.7 142.29L257.7 148.32L257.7 154.36L257.7 160.39L257.7 166.42L257.7 172.45L257.7 178.48L257.7 184.51L257.7 190.54L257.7 196.57L257.7 202.61L257.7 208.64L257.7 214.67L257.7 220.7L251.66 220.7L245.61 220.7L239.57 220.7L233.53 220.7L227.48 220.7L221.44 220.7L215.39 220.7L209.35 220.7L203.31 220.7L197.26 220.7L191.22 220.7L185.18 220.7L179.13 220.7L173.09 220.7L167.04 220.7L161 220.7L161 214.67L161 208.64L161 202.61L161 196.57L161 190.54L161 184.51L161 178.48L161 172.45L161 166.42L161 160.39L161 154.36L161 148.32L161 142.29L161 136.26L161 130.23ZM191.22 206.22L188.85 208.64L191.22 210.85L195.04 214.67L197.26 216.71L199.42 214.67L199.53 208.64L197.26 206.23Z" fill="#cccfe5"/>
<path d="M161 124.2L167.04 124.2L173.09 124.2L179.13 124.2L185.18 124.2L191.22 124.2L197.26 124.2L203.31 124.2L209.35 124.2L215.39 124.2L221.44 124.2L225.28 124.2L221.44 128.04L219.53 130.23L219.44 136.26L218.93 142.29L215.39 144.34L209.35 144.43L204.94 148.32L204.68 154.36L204.84 160.39L209.35 163.95L213.31 166.42L215.39 168.04L221.44 168.03L222.95 166.42L223.05 160.39L223.34 154.36L227.48 150.22L229.21 148.32L229.35 142.29L229.5 136.26L233.53 132.24L235.25 130.23L235.29 124.2L239.57 124.2L245.61 124.2L251.66 124.2L257.7 124.2L257.7 130.23L257.7 136.26L257.7 142.29L257.7 148.32L257.7 154.36L257.7 160.39L257.7 166.42L257.7 172.45L257.7 178.48L257.7 184.51L257.7 190.54L257.7 196.57L257.7 202.61L257.7 208.64L257.7 214.67L257.7 220.7L251.66 220.7L245.61 220.7L239.57 220.7L233.53 220.7L227.48 220.7L221.44 220.7L215.39 220.7L209.35 220.7L203.31 220.7L197.26 220.7L191.22 220.7L185.18 220.7L179.13 220.7L173.09 220.7L167.04 220.7L161 220.7L161 214.67L161 208.64L161 202.61L161 196.57L161 190.54L161 184.51L161 178.48L161 172.45L161 166.42L161 160.39L161 154.36L161 148.32L161 142.29L161 136.26L161 130.23ZM191.22 205.68L188.33 208.64L191.22 211.35L194.55 214.67L197.26 217.16L199.9 214.67L200.03 208.64L197.26 205.69Z" fill="#bac6e0"/>
<path d="M161 124.2L167.04 124.2L173.09 124.2L179.13 124.2L185.18 124.2L191.22 124.2L197.26 124.2L203.31 124.2L209.35 124.2L215.39 124.2L221.44 124.2L224.18 124.2L221.44 126.94L218.57 130.23L218.43 136.26L217.68 142.29L215.39 143.62L209.35 143.73L204.14 148.32L203.83 154.36L204.02 160.39L209.35 164.6L212.27 166.42L215.39 168.86L221.44 168.83L223.71 166.42L223.86 160.39L224.29 154.36L227.48 151.17L230.07 148.32L230.29 142.29L230.5 136.26L233.53 133.25L236.11 130.23L236.17 124.2L239.57 124.2L245.61 124.2L251.66 124.2L257.7 124.2L257.7 130.23L257.7 136.26L257.7 142.29L257.7 148.32L257.7 154.36L257.7 160.39L257.7 166.42L257.7 172.45L257.7 178.48L257.7 184.51L257.7 190.54L257.7 196.57L257.7 202.61L257.7 208.64L257.7 214.67L257.7 220.7L251.66 220.7L245.61 220.7L239.57 220.7L233.53 220.7L227.48 220.7L221.44 220.7L215.39 220.7L209.35 220.7L203.31 220.7L197.26 220.7L191.22 220.7L185.18 220.7L179.13 220.7L173.09 220.7L167.04 220.7L161 220.7L161 214.67L161 208.64L161 202.61L161 196.57L161 190.54L161 184.51L161 178.48L161 172.45L161 166.42L161 160.39L161 154.36L161 148.32L161 142.29L161 136.26L161 130.23ZM191.22 205.14L187.8 208.64L191.22 211.84L194.05 214.67L197.26 217.62L200.38 214.67L200.54 208.64L197.26 205.15Z" fill="#a8bedc"/>
<path d="M161 124.2L167.04 124.2L173.09 124.2L179.13 124.2L185.18 124.2L191.22 124.2L197.26 124.2L203.31 124.2L209.35 124.2L215.39 124.2L221.44 124.2L223.09 124.2L221.44 125.84L217.62 130.23L217.43 136.26L216.43 142.29L215.39 142.89L209.35 143.02L203.34 148.32L203.31 148.88L197.26 148.33L197.26 148.32L191.22 148.26L185.18 148.32L185.18 148.33L179.13 148.39L173.09 148.33L173.09 148.32L167.04 148.3L161 148.32L161 148.33L161 148.32L161 142.29L161 136.26L161 130.23ZM237.05 124.2L239.57 124.2L245.61 124.2L251.66 124.2L257.7 124.2L257.7 130.23L257.7 136.26L257.7 142.29L257.7 148.32L257.7 154.36L257.7 160.39L257.7 166.42L257.7 172.45L257.7 178.48L257.7 184.51L257.7 190.54L257.7 196.57L257.7 202.61L257.7 208.64L257.7 214.67L257.7 220.7L251.66 220.7L245.61 220.7L239.57 220.7L233.53 220.7L227.48 220.7L221.44 220.7L215.39 220.7L209.35 220.7L203.31 220.7L197.26 220.7L191.22 220.7L185.18 220.7L179.13 220.7L173.09 220.7L167.04 220.7L161 220.7L161 214.67L161 208.64L161 202.61L161 196.57L161 190.54L161 184.51L161 178.48L161 172.45L161 166.42L161 160.39L161 160.39L167.04 160.18L173.09 160.39L173.09 160.39L179.13 160.43L185.18 160.39L185.18 160.39L191.22 159.79L197.26 160.39L197.26 160.39L203.31 160.8L209.35 165.24L211.23 166.42L215.39 169.67L221.44 169.64L224.47 166.42L224.67 160.39L225.23 154.36L227.48 152.11L230.93 148.32L231.22 142.29L231.51 136.26L233.53 134.25L236.97 130.23ZM191.22 204.6L187.28 208.64L191.22 212.33L193.56 214.67L197.26 218.07L200.85 214.67L201.04 208.64L197.26 204.62Z" fill="#94b6d7"/>
<path d="M161 124.2L167.04 124.2L173.09 124.2L179.13 124.2L185.18 124.2L191.22 124.2L197.26 124.2L203.31 124.2L209.35 124.2L215.39 124.2L221.44 124.2L221.99 124.2L221.44 124.75L216.66 130.23L216.43 136.26L215.39 141.44L210.06 142.29L209.35 142.31L203.31 142.68L197.26 142.43L191.22 142.36L185.18 142.43L179.13 142.45L173.09 142.43L167.04 142.41L161 142.43L161 142.29L161 136.26L161 130.23ZM237.93 124.2L239.57 124.2L245.61 124.2L251.66 124.2L257.7 124.2L257.7 130.23L257.7 136.26L257.7 142.29L257.7 148.32L257.7 154.36L257.7 160.39L257.7 166.42L257.7 172.45L257.7 178.48L257.7 184.51L257.7 190.54L257.7 196.57L257.7 202.61L257.7 208.64L257.7 214.67L257.7 220.7L251.66 220.7L245.61 220.7L239.57 220.7L233.53 220.7L227.48 220.7L221.44 220.7L215.39 220.7L209.35 220.7L203.31 220.7L197.26 220.7L191.22 220.7L185.18 220.7L179.13 220.7L173.09 220.7L167.04 220.7L161 220.7L161 214.67L161 208.64L161 202.61L161 196.57L161 190.54L161 184.51L161 178.48L161 172.45L161 166.42L161 163.71L167.04 163.68L173.09 163.71L179.13 163.74L185.18 163.71L191.22 163.62L197.26 163.71L203.31 164.02L209.35 165.89L210.19 166.42L215.39 170.48L221.44 170.44L225.23 166.42L225.48 160.39L226.18 154.36L227.48 153.06L231.8 148.32L232.16 142.29L232.52 136.26L233.53 135.26L237.83 130.23ZM191.22 204.07L186.75 208.64L191.22 212.83L193.07 214.67L197.26 218.52L201.33 214.67L201.55 208.64L197.26 204.08Z" fill="#7fadd2"/>
<path d="M161 130.23L161 129.21L167.04 129.17L173.09 129.21L179.13 129.25L185.18 129.21L191.22 129.09L197.26 129.21L203.31 129.69L209.35 129.21L215.39 127.74L215.71 130.23L215.43 136.26L215.39 136.45L209.35 136.26L209.35 136.26L203.31 135.24L197.26 136.26L197.26 136.26L191.22 136.28L185.18 136.26L185.18 136.26L179.13 136.2L173.09 136.26L173.09 136.26L167.04 136.27L161 136.26L161 136.26ZM238.81 124.2L239.57 124.2L245.61 124.2L251.66 124.2L257.7 124.2L257.7 130.23L257.7 136.26L257.7 142.29L257.7 148.32L257.7 154.36L257.7 160.39L257.7 166.42L257.7 172.45L257.7 178.48L257.7 184.51L257.7 190.54L257.7 196.57L257.7 202.61L257.7 208.64L257.7 214.67L257.7 220.7L251.66 220.7L245.61 220.7L239.57 220.7L233.53 220.7L227.48 220.7L221.44 220.7L215.39 220.7L209.35 220.7L203.31 220.7L197.26 220.7L191.22 220.7L185.18 220.7L179.13 220.7L173.09 220.7L167.04 220.7L161 220.7L161 214.67L161 208.64L161 202.61L161 196.57L161 190.54L161 184.51L161 178.48L161 172.45L161 167.07L167.04 167.05L173.09 167.07L179.13 167.09L185.18 167.07L191.22 167.01L197.26 167.08L203.31 167.29L209.35 167.09L215.39 171.29L221.44 171.24L225.98 166.42L226.29 160.39L227.13 154.36L227.48 154.01L232.66 148.32L233.09 142.29L233.53 136.26L233.53 136.26L238.7 130.23ZM191.22 203.53L186.23 208.64L191.22 213.32L192.57 214.67L197.26 218.98L201.81 214.67L202.05 208.64L197.26 203.54Z" fill="#67a4cc"/>
<path d="M239.56 130.23L239.57 129.75L240.08 124.2L245.61 124.2L251.66 124.2L257.7 124.2L257.7 130.23L257.7 136.26L257.7 142.29L257.7 148.32L257.7 154.36L257.7 160.39L257.7 166.42L257.7 172.45L257.7 178.48L257.7 184.51L257.7 190.54L257.7 196.57L257.7 202.61L257.7 208.64L257.7 214.67L257.7 220.7L251.66 220.7L245.61 220.7L239.57 220.7L233.53 220.7L227.48 220.7L221.44 220.7L215.39 220.7L209.35 220.7L203.31 220.7L197.26 220.7L191.22 220.7L185.18 220.7L179.13 220.7L173.09 220.7L167.04 220.7L161 220.7L161 214.67L161 208.64L161 202.61L161 196.57L161 190.54L161 184.51L167.04 184.57L173.09 184.51L173.09 184.51L173.09 184.51L167.04 184.49L161 184.51L161 178.48L161 172.45L161 170.66L167.04 170.66L173.09 170.66L179.13 170.66L185.18 170.66L191.22 170.65L197.26 170.66L203.31 170.68L209.35 170.66L215.39 172.1L221.44 172.05L226.74 166.42L227.1 160.39L227.48 157.81L230.44 154.36L233.53 148.33L233.53 148.32L235.89 142.29L237.97 136.26ZM185.18 184.51L185.17 184.51L185.18 184.51L191.22 184.67L197.26 184.51L197.26 184.51L197.26 184.51L191.22 184.45ZM209.35 184.51L209.35 184.51L209.35 184.51L215.39 184.6L215.46 184.51L215.39 184.47ZM191.22 202.99L185.7 208.64L191.22 213.81L192.08 214.67L197.26 219.43L202.29 214.67L202.56 208.64L197.26 203.01Z" fill="#4d99c6"/>
<path d="M243.77 124.2L245.61 124.2L251.66 124.2L257.7 124.2L257.7 130.23L257.7 136.26L257.7 142.29L257.7 148.32L257.7 154.36L257.7 160.39L257.7 166.42L257.7 172.45L257.7 178.48L257.7 184.51L257.7 190.54L257.7 196.57L257.7 202.61L257.7 208.64L257.7 214.67L257.7 220.7L251.66 220.7L245.61 220.7L239.57 220.7L233.53 220.7L227.48 220.7L221.44 220.7L215.39 220.7L209.35 220.7L203.31 220.7L197.26 220.7L191.22 220.7L185.18 220.7L179.13 220.7L173.09 220.7L167.04 220.7L161 220.7L161 214.67L161 208.64L161 208.64L161 208.64L167.04 208.79L173.09 208.64L173.09 208.64L179.13 208.2L185.18 208.64L185.18 208.64L191.22 214.3L191.58 214.67L197.26 219.88L202.77 214.67L203.06 208.64L203.31 202.66L203.41 202.61L209.35 200.65L215.39 199.9L221.44 198.23L222.94 196.57L225.35 190.54L226.56 184.51L226.35 178.48L225.83 172.45L227.48 167.08L227.67 166.42L231.33 160.39L233.53 157.55L235.44 154.36L238.15 148.32L239.57 144.36L240.28 142.29L241.93 136.26L242.97 130.23Z" fill="#338ebf"/>
<path d="M248.32 124.2L251.66 124.2L257.7 124.2L257.7 130.23L257.7 136.26L257.7 142.29L257.7 148.32L257.7 154.36L257.7 160.39L257.7 166.42L257.7 172.45L257.7 178.48L257.7 184.51L257.7 190.54L257.7 196.57L257.7 202.61L257.7 208.64L257.7 214.67L257.7 220.7L251.66 220.7L245.61 220.7L239.57 220.7L233.53 220.7L227.48 220.7L221.44 220.7L215.39 220.7L209.35 220.7L203.31 220.7L197.26 220.7L191.22 220.7L185.18 220.7L179.13 220.7L173.09 220.7L167.04 220.7L161 220.7L161 215.76L167.04 216.05L173.09 215.76L179.13 215.25L185.18 215.13L191.22 215.86L197.26 220.34L203.25 214.67L203.31 213.53L209.35 208.64L209.35 208.64L215.39 207.3L221.44 206.29L226.56 202.61L227.48 201.54L230.15 196.57L231.53 190.54L232.38 184.51L232.82 178.48L233.53 172.45L233.53 172.45L236.09 166.42L238.84 160.39L239.57 158.84L241.37 154.36L243.4 148.32L244.74 142.29L245.61 136.26L245.61 136.26L246.76 130.23Z" fill="#1f81b8"/>
<path d="M252.14 130.23L257.7 124.2L257.7 130.23L257.7 136.26L257.7 142.29L257.7 148.32L257.7 154.36L257.7 160.39L257.7 166.42L257.7 172.45L257.7 178.48L257.7 184.51L257.7 190.54L257.7 196.57L257.7 202.61L257.7 208.64L257.7 214.67L257.7 220.7L251.66 220.7L245.61 220.7L239.57 220.7L233.53 220.7L227.48 220.7L221.44 220.7L215.39 220.7L209.35 220.7L215.39 218.72L221.44 217.14L226.43 214.67L227.48 214.26L233.53 208.64L233.53 208.64L236.02 202.61L237.92 196.57L239.01 190.54L239.57 186.8L239.96 184.51L241.12 178.48L242.68 172.45L244.68 166.42L245.61 163.27L246.44 160.39L248.43 154.36L250.07 148.32L250.74 142.29L251.03 136.26L251.66 131.14ZM173.09 220.7L179.13 219.79L185.18 219.41L191.22 220.46L192.49 220.7L191.22 220.7L185.18 220.7L179.13 220.7Z" fill="#0a73b2"/>
<path d="M256.5 154.36L257.7 148.32L257.7 154.36L257.7 160.39L257.7 166.42L257.7 172.45L257.7 178.48L257.7 184.51L257.7 190.54L257.7 196.57L257.7 202.61L257.7 208.64L257.7 214.67L257.7 220.7L251.66 220.7L245.61 220.7L239.57 220.7L239.38 220.7L239.57 220.34L241.71 214.67L243.67 208.64L245.61 202.91L245.71 202.61L247.3 196.57L248.19 190.54L249.01 184.51L250.32 178.48L251.66 172.85L251.74 172.45L253.14 166.42L254.98 160.39Z" fill="#0569a5"/>
<path d="M257.59 178.48L257.7 178.04L257.7 178.48L257.7 184.51L257.7 190.54L257.7 196.57L257.7 202.61L257.7 208.64L257.7 214.67L257.7 220.7L251.66 220.7L250.43 220.7L251.44 214.67L251.66 213.81L253 208.64L254.18 202.61L254.96 196.57L255.6 190.54L256.34 184.51Z" fill="#046096"/>
<polyline points="233.53,124.2 233.53,130.23 227.48,136.26 227.48,142.29 227.48,148.32 221.44,154.36 215.39,154.36 221.44,160.39 221.44,166.42" fill="none" stroke="#fdf6fa" stroke-width="5" stroke-linejoin="round" stroke-linecap="round" filter="url(#bl)"/>
</g></g>
<rect x="258.6" y="215.88" width="7.3" height="4.88" fill="#fff7fb"/>
<rect x="258.6" y="211.05" width="7.3" height="4.88" fill="#f7f0f7"/>
<rect x="258.6" y="206.22" width="7.3" height="4.88" fill="#efeaf3"/>
<rect x="258.6" y="201.4" width="7.3" height="4.88" fill="#e5e1ef"/>
<rect x="258.6" y="196.57" width="7.3" height="4.88" fill="#d9d8ea"/>
<rect x="258.6" y="191.75" width="7.3" height="4.88" fill="#cccfe5"/>
<rect x="258.6" y="186.92" width="7.3" height="4.88" fill="#bac6e0"/>
<rect x="258.6" y="182.1" width="7.3" height="4.88" fill="#a8bedc"/>
<rect x="258.6" y="177.27" width="7.3" height="4.88" fill="#94b6d7"/>
<rect x="258.6" y="172.45" width="7.3" height="4.88" fill="#7fadd2"/>
<rect x="258.6" y="167.62" width="7.3" height="4.88" fill="#67a4cc"/>
<rect x="258.6" y="162.8" width="7.3" height="4.88" fill="#4d99c6"/>
<rect x="258.6" y="157.97" width="7.3" height="4.88" fill="#338ebf"/>
<rect x="258.6" y="153.15" width="7.3" height="4.88" fill="#1f81b8"/>
<rect x="258.6" y="148.32" width="7.3" height="4.88" fill="#0a73b2"/>
<rect x="258.6" y="143.5" width="7.3" height="4.88" fill="#0569a5"/>
<rect x="258.6" y="138.67" width="7.3" height="4.88" fill="#046096"/>
<rect x="258.6" y="133.85" width="7.3" height="4.88" fill="#045585"/>
<rect x="258.6" y="129.02" width="7.3" height="4.88" fill="#03466e"/>
<rect x="258.6" y="124.2" width="7.3" height="4.88" fill="#023858"/>
<rect x="258.6" y="124.2" width="7.3" height="96.5" fill="none" stroke="#9c9c9c" stroke-width="0.6"/>
<rect x="161" y="124.2" width="96.7" height="96.5" fill="none" stroke="#858585" stroke-width="0.8"/>
<path d="M173.09 220.7v-1.2 M173.09 124.2v1.2M197.26 220.7v-1.2 M197.26 124.2v1.2M221.44 220.7v-1.2 M221.44 124.2v1.2M245.61 220.7v-1.2 M245.61 124.2v1.2M161 208.64h1.2 M257.7 208.64h-1.2M161 184.51h1.2 M257.7 184.51h-1.2M161 160.39h1.2 M257.7 160.39h-1.2M161 136.26h1.2 M257.7 136.26h-1.2M265.9 124.2h-1.2M265.9 140.28h-1.2M265.9 156.37h-1.2M265.9 172.45h-1.2M265.9 188.53h-1.2M265.9 204.62h-1.2M265.9 220.7h-1.2" stroke="#858585" stroke-width="0.6" fill="none"/>
<text class="t" x="209.35" y="121.5" text-anchor="middle">MAE of <tspan class="i" letter-spacing="0.9">WLEN</tspan>(m)</text>
<text class="cb" x="268.5" y="127.3">8.9537</text>
<text class="cb" x="268.5" y="143.38">7.6888</text>
<text class="cb" x="268.5" y="159.47">6.4238</text>
<text class="cb" x="268.5" y="175.55">5.1589</text>
<text class="cb" x="268.5" y="191.63">3.8939</text>
<text class="cb" x="268.5" y="207.72">2.6290</text>
<text class="cb" x="268.5" y="223.8">1.3640</text>
<g filter="url(#soft)"><g clip-path="url(#c6)">
<path d="M290.4 124.2L296.44 124.2L302.49 124.2L308.53 124.2L314.58 124.2L320.62 124.2L326.66 124.2L332.71 124.2L338.75 124.2L344.79 124.2L350.84 124.2L356.88 124.2L362.93 124.2L368.97 124.2L375.01 124.2L381.06 124.2L387.1 124.2L387.1 130.23L387.1 136.26L387.1 142.29L387.1 148.32L387.1 154.36L387.1 160.39L387.1 166.42L387.1 172.45L387.1 178.48L387.1 184.51L387.1 190.54L387.1 196.57L387.1 202.61L387.1 208.64L387.1 214.67L387.1 220.7L381.06 220.7L375.01 220.7L368.97 220.7L362.93 220.7L356.88 220.7L350.84 220.7L344.79 220.7L338.75 220.7L332.71 220.7L326.66 220.7L320.62 220.7L314.58 220.7L308.53 220.7L302.49 220.7L296.44 220.7L290.4 220.7L290.4 214.67L290.4 208.64L290.4 202.61L290.4 196.57L290.4 190.54L290.4 184.51L290.4 178.48L290.4 172.45L290.4 166.42L290.4 160.39L290.4 154.36L290.4 148.32L290.4 142.29L290.4 136.26L290.4 130.23Z" fill="#fff7fb"/>
<path d="M290.4 124.2L296.44 124.2L302.49 124.2L308.53 124.2L314.58 124.2L320.62 124.2L326.66 124.2L332.71 124.2L338.75 124.2L344.79 124.2L350.84 124.2L356.88 124.2L362.93 124.2L368.97 124.2L375.01 124.2L381.06 124.2L387.1 124.2L387.1 130.23L387.1 136.26L387.1 142.29L387.1 148.32L387.1 154.36L387.1 160.39L387.1 166.42L387.1 172.45L387.1 178.48L387.1 184.51L387.1 190.54L387.1 196.57L387.1 202.61L387.1 208.64L387.1 214.67L387.1 220.7L381.06 220.7L375.01 220.7L368.97 220.7L362.93 220.7L356.88 220.7L350.84 220.7L344.79 220.7L338.75 220.7L332.71 220.7L326.66 220.7L320.62 220.7L314.58 220.7L308.53 220.7L302.49 220.7L296.44 220.7L290.4 220.7L290.4 214.67L290.4 208.64L290.4 202.61L290.4 196.57L290.4 190.54L290.4 184.51L290.4 178.48L290.4 172.45L290.4 166.42L290.4 160.39L290.4 154.36L290.4 148.32L290.4 142.29L290.4 136.26L290.4 130.23ZM320.62 208.64L320.62 208.64L320.62 208.64L326.66 214.67L326.66 214.67L326.66 214.67L326.66 208.64L326.66 208.64ZM350.84 130.23L350.84 130.23L350.84 136.26L350.84 142.29L344.79 148L338.75 148L338.42 148.32L338.41 154.36L338.41 160.39L338.75 160.72L344.79 160.72L345.13 160.39L345.13 154.36L350.84 148.66L351.17 148.32L350.84 142.29L356.88 136.26L356.88 136.26L356.88 130.23L356.88 130.23Z" fill="#f7f0f7"/>
<path d="M290.4 124.2L296.44 124.2L302.49 124.2L308.53 124.2L314.58 124.2L320.62 124.2L326.66 124.2L332.71 124.2L338.75 124.2L344.79 124.2L350.84 124.2L356.88 124.2L362.93 124.2L368.97 124.2L375.01 124.2L381.06 124.2L387.1 124.2L387.1 130.23L387.1 136.26L387.1 142.29L387.1 148.32L387.1 154.36L387.1 160.39L387.1 166.42L387.1 172.45L387.1 178.48L387.1 184.51L387.1 190.54L387.1 196.57L387.1 202.61L387.1 208.64L387.1 214.67L387.1 220.7L381.06 220.7L375.01 220.7L368.97 220.7L362.93 220.7L356.88 220.7L350.84 220.7L344.79 220.7L338.75 220.7L332.71 220.7L326.66 220.7L320.62 220.7L314.58 220.7L308.53 220.7L302.49 220.7L296.44 220.7L290.4 220.7L290.4 214.67L290.4 208.64L290.4 202.61L290.4 196.57L290.4 190.54L290.4 184.51L290.4 178.48L290.4 172.45L290.4 166.42L290.4 160.39L290.4 154.36L290.4 148.32L290.4 142.29L290.4 136.26L290.4 130.23ZM320.62 208.13L320.12 208.64L320.62 209.13L326.17 214.67L326.66 215.13L327.14 214.67L327.16 208.64L326.66 208.13ZM350.84 129.74L350.34 130.23L350.34 136.26L350.34 142.29L344.79 147.52L338.75 147.52L337.94 148.32L337.93 154.36L337.93 160.39L338.75 161.2L344.79 161.2L345.6 160.39L345.6 154.36L350.84 149.13L351.64 148.32L351.34 142.29L356.88 136.76L357.38 136.26L357.38 130.23L356.88 129.73Z" fill="#efeaf3"/>
<path d="M290.4 124.2L296.44 124.2L302.49 124.2L308.53 124.2L314.58 124.2L320.62 124.2L326.66 124.2L332.71 124.2L338.75 124.2L344.79 124.2L350.84 124.2L356.88 124.2L362.93 124.2L368.97 124.2L375.01 124.2L381.06 124.2L387.1 124.2L387.1 130.23L387.1 136.26L387.1 142.29L387.1 148.32L387.1 154.36L387.1 160.39L387.1 166.42L387.1 172.45L387.1 178.48L387.1 184.51L387.1 190.54L387.1 196.57L387.1 202.61L387.1 208.64L387.1 214.67L387.1 220.7L381.06 220.7L375.01 220.7L368.97 220.7L362.93 220.7L356.88 220.7L350.84 220.7L344.79 220.7L338.75 220.7L332.71 220.7L326.66 220.7L320.62 220.7L314.58 220.7L308.53 220.7L302.49 220.7L296.44 220.7L290.4 220.7L290.4 214.67L290.4 208.64L290.4 202.61L290.4 196.57L290.4 190.54L290.4 184.51L290.4 178.48L290.4 172.45L290.4 166.42L290.4 160.39L290.4 154.36L290.4 148.32L290.4 142.29L290.4 136.26L290.4 130.23ZM320.62 207.63L319.61 208.64L320.62 209.62L325.68 214.67L326.66 215.6L327.62 214.67L327.65 208.64L326.66 207.63ZM350.84 129.24L349.85 130.23L349.85 136.26L349.84 142.29L344.79 147.05L338.75 147.05L337.47 148.32L337.45 154.36L337.44 160.39L338.75 161.68L344.79 161.67L346.08 160.39L346.08 154.36L350.84 149.61L352.11 148.32L351.84 142.29L356.88 137.26L357.87 136.26L357.87 130.23L356.88 129.24Z" fill="#e5e1ef"/>
<path d="M290.4 124.2L296.44 124.2L302.49 124.2L308.53 124.2L314.58 124.2L320.62 124.2L326.66 124.2L332.71 124.2L338.75 124.2L344.79 124.2L350.84 124.2L356.88 124.2L362.93 124.2L368.97 124.2L375.01 124.2L381.06 124.2L387.1 124.2L387.1 130.23L387.1 136.26L387.1 142.29L387.1 148.32L387.1 154.36L387.1 160.39L387.1 166.42L387.1 172.45L387.1 178.48L387.1 184.51L387.1 190.54L387.1 196.57L387.1 202.61L387.1 208.64L387.1 214.67L387.1 220.7L381.06 220.7L375.01 220.7L368.97 220.7L362.93 220.7L356.88 220.7L350.84 220.7L344.79 220.7L338.75 220.7L332.71 220.7L326.66 220.7L320.62 220.7L314.58 220.7L308.53 220.7L302.49 220.7L296.44 220.7L290.4 220.7L290.4 214.67L290.4 208.64L290.4 202.61L290.4 196.57L290.4 190.54L290.4 184.51L290.4 178.48L290.4 172.45L290.4 166.42L290.4 160.39L290.4 154.36L290.4 148.32L290.4 142.29L290.4 136.26L290.4 130.23ZM320.62 207.13L319.11 208.64L320.62 210.11L325.19 214.67L326.66 216.06L328.1 214.67L328.14 208.64L326.66 207.13ZM350.84 128.75L349.36 130.23L349.35 136.26L349.34 142.29L344.79 146.58L338.75 146.58L336.99 148.32L336.97 154.36L336.96 160.39L338.75 162.16L344.79 162.15L346.55 160.39L346.56 154.36L350.84 150.09L352.58 148.32L352.33 142.29L356.88 137.76L358.37 136.26L358.37 130.23L356.88 128.74Z" fill="#d9d8ea"/>
<path d="M290.4 124.2L296.44 124.2L302.49 124.2L308.53 124.2L314.58 124.2L320.62 124.2L326.66 124.2L332.71 124.2L338.75 124.2L344.79 124.2L350.84 124.2L356.88 124.2L362.93 124.2L368.97 124.2L375.01 124.2L381.06 124.2L387.1 124.2L387.1 130.23L387.1 136.26L387.1 142.29L387.1 148.32L387.1 154.36L387.1 160.39L387.1 166.42L387.1 172.45L387.1 178.48L387.1 184.51L387.1 190.54L387.1 196.57L387.1 202.61L387.1 208.64L387.1 214.67L387.1 220.7L381.06 220.7L375.01 220.7L368.97 220.7L362.93 220.7L356.88 220.7L350.84 220.7L344.79 220.7L338.75 220.7L332.71 220.7L326.66 220.7L320.62 220.7L314.58 220.7L308.53 220.7L302.49 220.7L296.44 220.7L290.4 220.7L290.4 214.67L290.4 208.64L290.4 202.61L290.4 196.57L290.4 190.54L290.4 184.51L290.4 178.48L290.4 172.45L290.4 166.42L290.4 160.39L290.4 154.36L290.4 148.32L290.4 142.29L290.4 136.26L290.4 130.23ZM320.62 206.62L318.6 208.64L320.62 210.6L324.7 214.67L326.66 216.52L328.57 214.67L328.64 208.64L326.66 206.62ZM350.84 128.25L348.86 130.23L348.86 136.26L348.84 142.29L344.79 146.11L338.75 146.11L336.51 148.32L336.49 154.36L336.48 160.39L338.75 162.64L344.79 162.63L347.03 160.39L347.03 154.36L350.84 150.56L353.05 148.32L352.83 142.29L356.88 138.25L358.86 136.26L358.86 130.23L356.88 128.25Z" fill="#cccfe5"/>
<path d="M290.4 124.2L296.44 124.2L302.49 124.2L308.53 124.2L314.58 124.2L320.62 124.2L326.66 124.2L332.71 124.2L338.75 124.2L344.79 124.2L350.84 124.2L356.88 124.2L362.93 124.2L368.97 124.2L375.01 124.2L381.06 124.2L387.1 124.2L387.1 130.23L387.1 136.26L387.1 142.29L387.1 148.32L387.1 154.36L387.1 160.39L387.1 166.42L387.1 172.45L387.1 178.48L387.1 184.51L387.1 190.54L387.1 196.57L387.1 202.61L387.1 208.64L387.1 214.67L387.1 220.7L381.06 220.7L375.01 220.7L368.97 220.7L362.93 220.7L356.88 220.7L350.84 220.7L344.79 220.7L338.75 220.7L332.71 220.7L326.66 220.7L320.62 220.7L314.58 220.7L308.53 220.7L302.49 220.7L296.44 220.7L290.4 220.7L290.4 214.67L290.4 208.64L290.4 202.61L290.4 196.57L290.4 190.54L290.4 184.51L290.4 178.48L290.4 172.45L290.4 166.42L290.4 160.39L290.4 154.36L290.4 148.32L290.4 142.29L290.4 136.26L290.4 130.23ZM320.62 206.12L318.1 208.64L320.62 211.09L324.21 214.67L326.66 216.99L329.05 214.67L329.13 208.64L326.66 206.12ZM350.84 127.76L348.37 130.23L348.36 136.26L348.34 142.29L344.79 145.64L338.75 145.64L336.04 148.32L336.01 154.36L335.99 160.39L338.75 163.12L344.79 163.1L347.51 160.39L347.51 154.36L350.84 151.04L353.52 148.32L353.33 142.29L356.88 138.75L359.36 136.26L359.36 130.23L356.88 127.75Z" fill="#bac6e0"/>
<path d="M290.4 124.2L296.44 124.2L302.49 124.2L308.53 124.2L314.58 124.2L320.62 124.2L326.66 124.2L332.71 124.2L338.75 124.2L344.79 124.2L350.84 124.2L356.88 124.2L362.93 124.2L368.97 124.2L375.01 124.2L381.06 124.2L387.1 124.2L387.1 130.23L387.1 136.26L387.1 142.29L387.1 148.32L387.1 154.36L387.1 160.39L387.1 166.42L387.1 172.45L387.1 178.48L387.1 184.51L387.1 190.54L387.1 196.57L387.1 202.61L387.1 208.64L387.1 214.67L387.1 220.7L381.06 220.7L375.01 220.7L368.97 220.7L362.93 220.7L356.88 220.7L350.84 220.7L344.79 220.7L338.75 220.7L332.71 220.7L326.66 220.7L320.62 220.7L314.58 220.7L308.53 220.7L302.49 220.7L296.44 220.7L290.4 220.7L290.4 214.67L290.4 208.64L290.4 202.61L290.4 196.57L290.4 190.54L290.4 184.51L290.4 178.48L290.4 172.45L290.4 166.42L290.4 160.39L290.4 154.36L290.4 148.32L290.4 142.29L290.4 136.26L290.4 130.23ZM320.62 205.61L317.6 208.64L320.62 211.58L323.72 214.67L326.66 217.45L329.53 214.67L329.63 208.64L326.66 205.62ZM350.84 127.27L347.88 130.23L347.87 136.26L347.84 142.29L344.79 145.17L338.75 145.17L335.56 148.32L335.53 154.36L335.51 160.39L338.75 163.6L344.79 163.58L347.98 160.39L347.99 154.36L350.84 151.51L354 148.32L353.83 142.29L356.88 139.25L359.85 136.26L359.85 130.23L356.88 127.25Z" fill="#a8bedc"/>
<path d="M290.4 124.2L296.44 124.2L302.49 124.2L308.53 124.2L314.58 124.2L320.62 124.2L326.66 124.2L332.71 124.2L338.75 124.2L344.79 124.2L350.84 124.2L356.88 124.2L362.93 124.2L368.97 124.2L375.01 124.2L381.06 124.2L387.1 124.2L387.1 130.23L387.1 136.26L387.1 142.29L387.1 148.32L387.1 154.36L387.1 160.39L387.1 166.42L387.1 172.45L387.1 178.48L387.1 184.51L387.1 190.54L387.1 196.57L387.1 202.61L387.1 208.64L387.1 214.67L387.1 220.7L381.06 220.7L375.01 220.7L368.97 220.7L362.93 220.7L356.88 220.7L350.84 220.7L344.79 220.7L338.75 220.7L332.71 220.7L326.66 220.7L320.62 220.7L314.58 220.7L308.53 220.7L302.49 220.7L296.44 220.7L290.4 220.7L290.4 214.67L290.4 208.64L290.4 202.61L290.4 196.57L290.4 190.54L290.4 184.51L290.4 178.48L290.4 172.45L290.4 166.42L290.4 160.39L290.4 154.36L290.4 148.32L290.4 142.29L290.4 136.26L290.4 130.23ZM320.62 205.11L317.09 208.64L320.62 212.07L323.23 214.67L326.66 217.92L330.01 214.67L330.12 208.64L326.66 205.11ZM350.84 126.77L347.38 130.23L347.37 136.26L347.35 142.29L344.79 144.7L338.75 144.7L335.09 148.32L335.05 154.36L335.03 160.39L338.75 164.08L344.79 164.06L348.46 160.39L348.46 154.36L350.84 151.99L354.47 148.32L354.33 142.29L356.88 139.75L360.35 136.26L360.35 130.23L356.88 126.76Z" fill="#94b6d7"/>
<path d="M290.4 124.2L296.44 124.2L302.49 124.2L308.53 124.2L314.58 124.2L320.62 124.2L326.66 124.2L332.71 124.2L338.75 124.2L344.79 124.2L350.84 124.2L356.88 124.2L362.93 124.2L368.97 124.2L375.01 124.2L381.06 124.2L387.1 124.2L387.1 130.23L387.1 136.26L387.1 142.29L387.1 148.32L387.1 154.36L387.1 160.39L387.1 166.42L387.1 172.45L387.1 178.48L387.1 184.51L387.1 190.54L387.1 196.57L387.1 202.61L387.1 208.64L387.1 214.67L387.1 220.7L381.06 220.7L375.01 220.7L368.97 220.7L362.93 220.7L356.88 220.7L350.84 220.7L344.79 220.7L338.75 220.7L332.71 220.7L326.66 220.7L320.62 220.7L314.58 220.7L308.53 220.7L302.49 220.7L296.44 220.7L290.4 220.7L290.4 214.67L290.4 208.64L290.4 202.61L290.4 196.57L290.4 190.54L290.4 184.51L290.4 178.48L290.4 172.45L290.4 166.42L290.4 160.39L290.4 154.36L290.4 148.32L290.4 142.29L290.4 136.26L290.4 130.23ZM320.62 204.61L316.59 208.64L320.62 212.56L322.73 214.67L326.66 218.38L330.48 214.67L330.62 208.64L326.66 204.61ZM350.84 126.28L346.89 130.23L346.88 136.26L346.85 142.29L344.79 144.23L338.75 144.23L334.61 148.32L334.57 154.36L334.54 160.39L338.75 164.56L344.79 164.53L348.93 160.39L348.94 154.36L350.84 152.46L354.94 148.32L354.83 142.29L356.88 140.25L360.84 136.26L360.85 130.23L356.88 126.26Z" fill="#7fadd2"/>
<path d="M290.4 124.2L296.44 124.2L302.49 124.2L308.53 124.2L314.58 124.2L320.62 124.2L326.66 124.2L332.71 124.2L338.75 124.2L344.79 124.2L350.84 124.2L356.88 124.2L362.93 124.2L368.97 124.2L375.01 124.2L381.06 124.2L387.1 124.2L387.1 130.23L387.1 136.26L387.1 142.29L387.1 148.32L387.1 154.36L387.1 160.39L387.1 166.42L387.1 172.45L387.1 178.48L387.1 184.51L387.1 190.54L387.1 196.57L387.1 202.61L387.1 208.64L387.1 214.67L387.1 220.7L381.06 220.7L375.01 220.7L368.97 220.7L362.93 220.7L356.88 220.7L350.84 220.7L344.79 220.7L338.75 220.7L332.71 220.7L326.66 220.7L320.62 220.7L314.58 220.7L308.53 220.7L302.49 220.7L296.44 220.7L290.4 220.7L290.4 214.67L290.4 208.64L290.4 202.61L290.4 196.57L290.4 190.54L290.4 184.51L290.4 178.48L290.4 172.45L290.4 166.42L290.4 160.39L290.4 154.36L290.4 148.32L290.4 142.29L290.4 136.26L290.4 130.23ZM320.62 204.1L316.09 208.64L320.62 213.05L322.24 214.67L326.66 218.84L330.96 214.67L331.11 208.64L326.66 204.1ZM350.84 125.78L346.39 130.23L346.38 136.26L346.35 142.29L344.79 143.76L338.75 143.76L334.13 148.32L334.09 154.36L334.06 160.39L338.75 165.03L344.79 165.01L349.41 160.39L349.42 154.36L350.84 152.94L355.41 148.32L355.33 142.29L356.88 140.74L361.34 136.26L361.34 130.23L356.88 125.76Z" fill="#67a4cc"/>
<path d="M290.4 124.2L296.44 124.2L302.49 124.2L308.53 124.2L314.58 124.2L320.62 124.2L326.66 124.2L332.71 124.2L338.75 124.2L344.79 124.2L350.84 124.2L356.88 124.2L362.93 124.2L368.97 124.2L375.01 124.2L381.06 124.2L387.1 124.2L387.1 130.23L387.1 136.26L387.1 142.29L387.1 148.32L387.1 154.36L387.1 160.39L387.1 166.42L387.1 172.45L387.1 178.48L387.1 184.51L387.1 190.54L387.1 196.57L387.1 202.61L387.1 208.64L387.1 214.67L387.1 220.7L381.06 220.7L375.01 220.7L368.97 220.7L362.93 220.7L356.88 220.7L350.84 220.7L344.79 220.7L338.75 220.7L332.71 220.7L326.66 220.7L320.62 220.7L314.58 220.7L308.53 220.7L302.49 220.7L296.44 220.7L290.4 220.7L290.4 214.67L290.4 208.64L290.4 202.61L290.4 196.57L290.4 190.54L290.4 184.51L290.4 178.48L290.4 172.45L290.4 166.42L290.4 160.39L290.4 154.36L290.4 148.32L290.4 142.29L290.4 136.26L290.4 130.23ZM320.62 203.6L315.58 208.64L320.62 213.54L321.75 214.67L326.66 219.31L331.44 214.67L331.6 208.64L326.66 203.6ZM350.84 125.29L345.9 130.23L345.89 136.26L345.85 142.29L344.79 143.29L338.75 143.29L333.66 148.32L333.61 154.36L333.58 160.39L338.75 165.51L344.79 165.49L349.89 160.39L349.89 154.36L350.84 153.42L355.88 148.32L355.83 142.29L356.88 141.24L361.84 136.26L361.84 130.23L356.88 125.27Z" fill="#4d99c6"/>
<path d="M290.4 124.2L296.44 124.2L302.49 124.2L308.53 124.2L314.58 124.2L320.62 124.2L326.66 124.2L332.71 124.2L338.75 124.2L344.79 124.2L350.84 124.2L356.88 124.2L362.93 124.2L368.97 124.2L375.01 124.2L381.06 124.2L387.1 124.2L387.1 130.23L387.1 136.26L387.1 142.29L387.1 148.32L387.1 154.36L387.1 160.39L387.1 166.42L387.1 172.45L387.1 178.48L387.1 184.51L387.1 190.54L387.1 196.57L387.1 202.61L387.1 208.64L387.1 214.67L387.1 220.7L381.06 220.7L375.01 220.7L368.97 220.7L362.93 220.7L356.88 220.7L350.84 220.7L344.79 220.7L338.75 220.7L332.71 220.7L326.66 220.7L320.62 220.7L314.58 220.7L308.53 220.7L302.49 220.7L296.44 220.7L290.4 220.7L290.4 214.67L290.4 208.64L290.4 202.61L290.4 196.57L290.4 190.54L290.4 184.51L290.4 178.48L290.4 172.45L290.4 166.42L290.4 160.39L290.4 154.36L290.4 148.32L290.4 142.29L290.4 136.26L290.4 130.23ZM320.62 203.09L315.08 208.64L320.62 214.03L321.26 214.67L326.66 219.77L331.92 214.67L332.1 208.64L326.66 203.1ZM350.84 124.79L345.41 130.23L345.4 136.26L345.35 142.29L344.79 142.82L338.75 142.82L333.18 148.32L333.13 154.36L333.09 160.39L338.75 165.99L344.79 165.96L350.36 160.39L350.37 154.36L350.84 153.89L356.35 148.32L356.33 142.29L356.88 141.74L362.33 136.26L362.33 130.23L356.88 124.77Z" fill="#338ebf"/>
<path d="M290.4 124.2L296.44 124.2L302.49 124.2L308.53 124.2L314.58 124.2L320.62 124.2L326.66 124.2L332.71 124.2L338.75 124.2L344.79 124.2L350.84 124.2L356.88 124.2L362.93 124.2L368.97 124.2L375.01 124.2L381.06 124.2L387.1 124.2L387.1 130.23L387.1 136.26L387.1 142.29L387.1 148.32L387.1 154.36L387.1 160.39L387.1 166.42L387.1 172.45L387.1 178.48L387.1 184.51L387.1 190.54L387.1 196.57L387.1 202.61L387.1 208.64L387.1 214.67L387.1 220.7L381.06 220.7L375.01 220.7L368.97 220.7L362.93 220.7L356.88 220.7L350.84 220.7L344.79 220.7L338.75 220.7L332.71 220.7L326.66 220.7L320.62 220.7L314.58 220.7L308.53 220.7L302.49 220.7L296.44 220.7L290.4 220.7L290.4 214.67L290.4 208.64L296.44 208.93L302.49 208.64L302.49 208.64L308.53 206.27L314.58 208.64L314.58 208.64L320.62 214.52L320.77 214.67L326.66 220.24L332.39 214.67L332.59 208.64L328.24 202.61L332.71 197.34L338.75 196.58L338.75 196.57L340.21 190.54L338.75 184.51L338.75 184.51L338.75 184.51L332.71 185.09L326.66 184.51L326.66 184.51L320.62 184.32L314.58 184.51L314.57 184.51L314.58 184.51L320.62 184.84L326.66 184.51L327.92 190.54L326.66 196.57L326.66 196.57L320.62 197.06L314.58 196.57L314.58 196.57L309.66 190.54L308.53 185.84L302.49 184.51L302.49 184.51L296.44 184.46L290.4 184.51L290.4 178.48L290.4 172.45L290.4 172.45L296.44 172.44L302.49 172.45L302.49 172.45L308.53 172.52L314.58 172.45L314.58 172.45L320.62 172.42L326.66 172.45L326.66 172.45L332.71 173.01L338.75 172.45L338.75 172.45L344.79 168.84L346.5 166.42L350.84 160.39L350.84 160.39L351.36 154.36L356.82 148.32L356.82 142.29L356.88 142.24L362.83 136.26L362.83 130.23L356.88 124.27L350.84 124.3L344.91 130.23L344.9 136.26L344.85 142.29L344.79 142.35L338.75 142.35L332.71 148.32L332.71 148.37L326.66 148.33L326.66 148.32L320.62 148.31L314.58 148.32L314.58 148.33L308.53 148.33L302.49 148.33L302.49 148.32L296.44 148.32L290.4 148.32L290.4 148.33L290.4 148.32L290.4 142.29L290.4 136.26L290.4 130.23ZM292.69 190.54L296.44 185.83L300.19 190.54L302.49 196.57L296.44 196.98L290.4 196.57Z" fill="#1f81b8"/>
<path d="M371.47 124.2L375.01 124.2L381.06 124.2L387.1 124.2L387.1 130.23L387.1 136.26L387.1 142.29L387.1 148.32L387.1 154.36L387.1 160.39L387.1 166.42L387.1 172.45L387.1 178.48L387.1 184.51L387.1 190.54L387.1 196.57L387.1 202.61L387.1 208.64L387.1 214.67L387.1 220.7L381.06 220.7L375.01 220.7L368.97 220.7L362.93 220.7L356.88 220.7L350.84 220.7L344.79 220.7L338.75 220.7L332.71 220.7L326.66 220.7L332.71 218.23L338.75 215.04L339.57 214.67L344.79 212L350.84 208.64L350.84 208.64L354.78 202.61L356.88 198.11L357.43 196.57L358.53 190.54L359.32 184.51L359.97 178.48L360.8 172.45L362.18 166.42L362.93 164L363.68 160.39L365.56 154.36L367.4 148.32L368.97 142.61L369.05 142.29L370.48 136.26L371.31 130.23Z" fill="#0a73b2"/>
<path d="M379.42 124.2L381.06 124.2L387.1 124.2L387.1 130.23L387.1 136.26L387.1 142.29L387.1 148.32L387.1 154.36L387.1 160.39L387.1 166.42L387.1 172.45L387.1 178.48L387.1 184.51L387.1 190.54L387.1 196.57L387.1 202.61L387.1 208.64L387.1 214.67L387.1 220.7L381.06 220.7L375.01 220.7L368.97 220.7L362.93 220.7L356.88 220.7L353.2 220.7L356.88 218.1L359.61 214.67L362.93 208.64L362.93 208.64L364.5 202.61L365.7 196.57L366.42 190.54L367.08 184.51L367.77 178.48L368.58 172.45L368.97 170.44L369.7 166.42L371 160.39L372.41 154.36L373.79 148.32L375.01 144.28L375.56 142.29L377.4 136.26L378.74 130.23Z" fill="#0569a5"/>
<path d="M387.1 124.2L387.1 124.2L387.1 130.23L387.1 136.26L387.1 142.29L387.1 148.32L387.1 154.36L387.1 160.39L387.1 166.42L387.1 172.45L387.1 178.48L387.1 184.51L387.1 190.54L387.1 196.57L387.1 202.61L387.1 208.64L387.1 214.67L387.1 220.7L381.06 220.7L375.01 220.7L368.97 220.7L367.63 220.7L368.97 216.26L369.36 214.67L370.67 208.64L371.62 202.61L372.41 196.57L373.07 190.54L373.71 184.51L374.3 178.48L375.01 172.45L375.01 172.45L376.1 166.42L377.18 160.39L378.18 154.36L379.3 148.32L381.06 142.56L381.15 142.29L383.43 136.26L385.37 130.23Z" fill="#046096"/>
<path d="M387.05 142.29L387.1 142.17L387.1 142.29L387.1 148.32L387.1 154.36L387.1 160.39L387.1 166.42L387.1 172.45L387.1 178.48L387.1 184.51L387.1 190.54L387.1 196.57L387.1 202.61L387.1 208.64L387.1 214.67L387.1 220.7L381.06 220.7L375.66 220.7L376.72 214.67L377.58 208.64L378.2 202.61L378.78 196.57L379.35 190.54L379.87 184.51L380.27 178.48L380.77 172.45L381.06 170.62L381.66 166.42L382.51 160.39L383.51 154.36L384.84 148.32Z" fill="#045585"/>
<path d="M387.02 166.42L387.1 165.64L387.1 166.42L387.1 172.45L387.1 178.48L387.1 184.51L387.1 190.54L387.1 196.57L387.1 202.61L387.1 208.64L387.1 214.67L387.1 220.7L382.1 220.7L383.11 214.67L383.95 208.64L384.59 202.61L385.17 196.57L385.57 190.54L385.9 184.51L386.19 178.48L386.52 172.45Z" fill="#03466e"/>
<polygon points="351.08,153.51 344.79,154.36 351.08,161.59" fill="#f6eff7" filter="url(#bl)"/>
</g></g>
<rect x="388" y="215.88" width="7.3" height="4.88" fill="#fff7fb"/>
<rect x="388" y="211.05" width="7.3" height="4.88" fill="#f7f0f7"/>
<rect x="388" y="206.22" width="7.3" height="4.88" fill="#efeaf3"/>
<rect x="388" y="201.4" width="7.3" height="4.88" fill="#e5e1ef"/>
<rect x="388" y="196.57" width="7.3" height="4.88" fill="#d9d8ea"/>
<rect x="388" y="191.75" width="7.3" height="4.88" fill="#cccfe5"/>
<rect x="388" y="186.92" width="7.3" height="4.88" fill="#bac6e0"/>
<rect x="388" y="182.1" width="7.3" height="4.88" fill="#a8bedc"/>
<rect x="388" y="177.27" width="7.3" height="4.88" fill="#94b6d7"/>
<rect x="388" y="172.45" width="7.3" height="4.88" fill="#7fadd2"/>
<rect x="388" y="167.62" width="7.3" height="4.88" fill="#67a4cc"/>
<rect x="388" y="162.8" width="7.3" height="4.88" fill="#4d99c6"/>
<rect x="388" y="157.97" width="7.3" height="4.88" fill="#338ebf"/>
<rect x="388" y="153.15" width="7.3" height="4.88" fill="#1f81b8"/>
<rect x="388" y="148.32" width="7.3" height="4.88" fill="#0a73b2"/>
<rect x="388" y="143.5" width="7.3" height="4.88" fill="#0569a5"/>
<rect x="388" y="138.67" width="7.3" height="4.88" fill="#046096"/>
<rect x="388" y="133.85" width="7.3" height="4.88" fill="#045585"/>
<rect x="388" y="129.02" width="7.3" height="4.88" fill="#03466e"/>
<rect x="388" y="124.2" width="7.3" height="4.88" fill="#023858"/>
<rect x="388" y="124.2" width="7.3" height="96.5" fill="none" stroke="#9c9c9c" stroke-width="0.6"/>
<rect x="290.4" y="124.2" width="96.7" height="96.5" fill="none" stroke="#858585" stroke-width="0.8"/>
<path d="M302.49 220.7v-1.2 M302.49 124.2v1.2M326.66 220.7v-1.2 M326.66 124.2v1.2M350.84 220.7v-1.2 M350.84 124.2v1.2M375.01 220.7v-1.2 M375.01 124.2v1.2M290.4 208.64h1.2 M387.1 208.64h-1.2M290.4 184.51h1.2 M387.1 184.51h-1.2M290.4 160.39h1.2 M387.1 160.39h-1.2M290.4 136.26h1.2 M387.1 136.26h-1.2M395.3 124.2h-1.2M395.3 140.28h-1.2M395.3 156.37h-1.2M395.3 172.45h-1.2M395.3 188.53h-1.2M395.3 204.62h-1.2M395.3 220.7h-1.2" stroke="#858585" stroke-width="0.6" fill="none"/>
<text class="t" x="338.75" y="121.5" text-anchor="middle">MAE of <tspan class="i">Q</tspan><tspan class="subi" dy="1.6">p</tspan><tspan dy="-1.6">(-)</tspan></text>
<text class="cb" x="397.9" y="127.3">0.9226</text>
<text class="cb" x="397.9" y="143.38">0.8426</text>
<text class="cb" x="397.9" y="159.47">0.7626</text>
<text class="cb" x="397.9" y="175.55">0.6826</text>
<text class="cb" x="397.9" y="191.63">0.6026</text>
<text class="cb" x="397.9" y="207.72">0.5226</text>
<text class="cb" x="397.9" y="223.8">0.4426</text>
<g filter="url(#soft)"><g clip-path="url(#c7)">
<path d="M419.8 124.2L425.84 124.2L431.89 124.2L437.93 124.2L443.98 124.2L450.02 124.2L456.06 124.2L462.11 124.2L468.15 124.2L474.19 124.2L480.24 124.2L486.28 124.2L492.33 124.2L498.37 124.2L504.41 124.2L510.46 124.2L516.5 124.2L516.5 130.23L516.5 136.26L516.5 142.29L516.5 148.32L516.5 154.36L516.5 160.39L516.5 166.42L516.5 172.45L516.5 178.48L516.5 184.51L516.5 190.54L516.5 196.57L516.5 202.61L516.5 208.64L516.5 214.67L516.5 220.7L510.46 220.7L504.41 220.7L498.37 220.7L492.33 220.7L486.28 220.7L480.24 220.7L474.19 220.7L468.15 220.7L462.11 220.7L456.06 220.7L450.02 220.7L443.98 220.7L437.93 220.7L431.89 220.7L425.84 220.7L419.8 220.7L419.8 214.67L419.8 208.64L419.8 202.61L419.8 196.57L419.8 190.54L419.8 184.51L419.8 178.48L419.8 172.45L419.8 166.42L419.8 160.39L419.8 154.36L419.8 148.32L419.8 142.29L419.8 136.26L419.8 130.23Z" fill="#fff7fb"/>
<path d="M419.8 124.2L425.84 124.2L431.89 124.2L437.93 124.2L443.98 124.2L450.02 124.2L456.06 124.2L462.11 124.2L468.15 124.2L474.19 124.2L480.24 124.2L486.28 124.2L492.33 124.2L498.37 124.2L504.41 124.2L510.46 124.2L516.5 124.2L516.5 130.23L516.5 136.26L516.5 142.29L516.5 148.32L516.5 154.36L516.5 160.39L516.5 166.42L516.5 172.45L516.5 178.48L516.5 184.51L516.5 190.54L516.5 196.57L516.5 202.61L516.5 208.64L516.5 214.67L516.5 220.7L510.46 220.7L504.41 220.7L498.37 220.7L492.33 220.7L486.28 220.7L480.24 220.7L474.19 220.7L468.15 220.7L462.11 220.7L456.06 220.7L450.02 220.7L443.98 220.7L437.93 220.7L431.89 220.7L425.84 220.7L419.8 220.7L419.8 214.67L419.8 208.64L419.8 202.61L419.8 196.57L419.8 190.54L419.8 184.51L419.8 178.48L419.8 172.45L419.8 166.42L419.8 160.39L419.8 154.36L419.8 148.32L419.8 142.29L419.8 136.26L419.8 130.23ZM450.02 208.64L450.02 208.64L450.02 208.64L456.06 214.67L456.06 214.67L456.06 214.67L456.06 208.64L456.06 208.64ZM480.24 130.23L480.24 130.23L480.24 136.26L480.24 142.29L474.19 148.02L468.15 148.02L467.84 148.32L467.84 154.36L467.84 160.39L468.15 160.69L474.19 160.69L474.5 160.39L474.5 154.36L480.24 148.63L480.55 148.32L480.24 142.29L486.28 136.26L486.28 136.26L486.28 130.23L486.28 130.23Z" fill="#f7f0f7"/>
<path d="M419.8 124.2L425.84 124.2L431.89 124.2L437.93 124.2L443.98 124.2L450.02 124.2L456.06 124.2L462.11 124.2L468.15 124.2L474.19 124.2L480.24 124.2L486.28 124.2L492.33 124.2L498.37 124.2L504.41 124.2L510.46 124.2L516.5 124.2L516.5 130.23L516.5 136.26L516.5 142.29L516.5 148.32L516.5 154.36L516.5 160.39L516.5 166.42L516.5 172.45L516.5 178.48L516.5 184.51L516.5 190.54L516.5 196.57L516.5 202.61L516.5 208.64L516.5 214.67L516.5 220.7L510.46 220.7L504.41 220.7L498.37 220.7L492.33 220.7L486.28 220.7L480.24 220.7L474.19 220.7L468.15 220.7L462.11 220.7L456.06 220.7L450.02 220.7L443.98 220.7L437.93 220.7L431.89 220.7L425.84 220.7L419.8 220.7L419.8 214.67L419.8 208.64L419.8 202.61L419.8 196.57L419.8 190.54L419.8 184.51L419.8 178.48L419.8 172.45L419.8 166.42L419.8 160.39L419.8 154.36L419.8 148.32L419.8 142.29L419.8 136.26L419.8 130.23ZM450.02 208.18L449.55 208.64L450.02 209.1L455.6 214.67L456.06 215.12L456.52 214.67L456.52 208.64L456.06 208.18ZM480.24 129.77L479.78 130.23L479.78 136.26L479.78 142.29L474.19 147.58L468.15 147.58L467.4 148.33L467.4 154.36L467.4 160.39L468.15 161.13L474.19 161.13L474.94 160.39L474.94 154.36L480.24 149.07L480.99 148.32L480.7 142.29L486.28 136.72L486.74 136.26L486.74 130.23L486.28 129.77Z" fill="#efeaf3"/>
<path d="M419.8 124.2L425.84 124.2L431.89 124.2L437.93 124.2L443.98 124.2L450.02 124.2L456.06 124.2L462.11 124.2L468.15 124.2L474.19 124.2L480.24 124.2L486.28 124.2L492.33 124.2L498.37 124.2L504.41 124.2L510.46 124.2L516.5 124.2L516.5 130.23L516.5 136.26L516.5 142.29L516.5 148.32L516.5 154.36L516.5 160.39L516.5 166.42L516.5 172.45L516.5 178.48L516.5 184.51L516.5 190.54L516.5 196.57L516.5 202.61L516.5 208.64L516.5 214.67L516.5 220.7L510.46 220.7L504.41 220.7L498.37 220.7L492.33 220.7L486.28 220.7L480.24 220.7L474.19 220.7L468.15 220.7L462.11 220.7L456.06 220.7L450.02 220.7L443.98 220.7L437.93 220.7L431.89 220.7L425.84 220.7L419.8 220.7L419.8 214.67L419.8 208.64L419.8 202.61L419.8 196.57L419.8 190.54L419.8 184.51L419.8 178.48L419.8 172.45L419.8 166.42L419.8 160.39L419.8 154.36L419.8 148.32L419.8 142.29L419.8 136.26L419.8 130.23ZM450.02 207.72L449.09 208.64L450.02 209.56L455.14 214.67L456.06 215.58L456.98 214.67L456.98 208.64L456.06 207.72ZM480.24 129.32L479.32 130.23L479.32 136.26L479.31 142.29L474.19 147.15L468.15 147.14L466.96 148.32L466.96 154.36L466.96 160.39L468.15 161.57L474.19 161.56L475.38 160.39L475.38 154.36L480.24 149.51L481.42 148.32L481.16 142.29L486.28 137.18L487.2 136.26L487.19 130.23L486.28 129.32Z" fill="#e5e1ef"/>
<path d="M419.8 124.2L425.84 124.2L431.89 124.2L437.93 124.2L443.98 124.2L450.02 124.2L456.06 124.2L462.11 124.2L468.15 124.2L474.19 124.2L480.24 124.2L486.28 124.2L492.33 124.2L498.37 124.2L504.41 124.2L510.46 124.2L516.5 124.2L516.5 130.23L516.5 136.26L516.5 142.29L516.5 148.32L516.5 154.36L516.5 160.39L516.5 166.42L516.5 172.45L516.5 178.48L516.5 184.51L516.5 190.54L516.5 196.57L516.5 202.61L516.5 208.64L516.5 214.67L516.5 220.7L510.46 220.7L504.41 220.7L498.37 220.7L492.33 220.7L486.28 220.7L480.24 220.7L474.19 220.7L468.15 220.7L462.11 220.7L456.06 220.7L450.02 220.7L443.98 220.7L437.93 220.7L431.89 220.7L425.84 220.7L419.8 220.7L419.8 214.67L419.8 208.64L419.8 202.61L419.8 196.57L419.8 190.54L419.8 184.51L419.8 178.48L419.8 172.45L419.8 166.42L419.8 160.39L419.8 154.36L419.8 148.32L419.8 142.29L419.8 136.26L419.8 130.23ZM450.02 207.26L448.62 208.64L450.02 210.02L454.67 214.67L456.06 216.03L457.43 214.67L457.44 208.64L456.06 207.26ZM480.24 128.86L478.87 130.23L478.86 136.26L478.85 142.29L474.19 146.71L468.15 146.71L466.52 148.32L466.51 154.36L466.52 160.39L468.15 162L474.19 162L475.81 160.39L475.82 154.36L480.24 149.95L481.86 148.32L481.62 142.29L486.28 137.65L487.65 136.26L487.65 130.23L486.28 128.86Z" fill="#d9d8ea"/>
<path d="M419.8 124.2L425.84 124.2L431.89 124.2L437.93 124.2L443.98 124.2L450.02 124.2L456.06 124.2L462.11 124.2L468.15 124.2L474.19 124.2L480.24 124.2L486.28 124.2L492.33 124.2L498.37 124.2L504.41 124.2L510.46 124.2L516.5 124.2L516.5 130.23L516.5 136.26L516.5 142.29L516.5 148.32L516.5 154.36L516.5 160.39L516.5 166.42L516.5 172.45L516.5 178.48L516.5 184.51L516.5 190.54L516.5 196.57L516.5 202.61L516.5 208.64L516.5 214.67L516.5 220.7L510.46 220.7L504.41 220.7L498.37 220.7L492.33 220.7L486.28 220.7L480.24 220.7L474.19 220.7L468.15 220.7L462.11 220.7L456.06 220.7L450.02 220.7L443.98 220.7L437.93 220.7L431.89 220.7L425.84 220.7L419.8 220.7L419.8 214.67L419.8 208.64L419.8 202.61L419.8 196.57L419.8 190.54L419.8 184.51L419.8 178.48L419.8 172.45L419.8 166.42L419.8 160.39L419.8 154.36L419.8 148.32L419.8 142.29L419.8 136.26L419.8 130.23ZM450.02 206.8L448.16 208.64L450.02 210.49L454.21 214.67L456.06 216.48L457.89 214.67L457.9 208.64L456.06 206.8ZM480.24 128.4L478.41 130.23L478.41 136.26L478.39 142.29L474.19 146.27L468.15 146.27L466.08 148.32L466.07 154.36L466.08 160.39L468.15 162.44L474.19 162.44L476.25 160.39L476.26 154.36L480.24 150.39L482.3 148.32L482.09 142.29L486.28 138.11L488.11 136.26L488.11 130.23L486.28 128.4Z" fill="#cccfe5"/>
<path d="M419.8 124.2L425.84 124.2L431.89 124.2L437.93 124.2L443.98 124.2L450.02 124.2L456.06 124.2L462.11 124.2L468.15 124.2L474.19 124.2L480.24 124.2L486.28 124.2L492.33 124.2L498.37 124.2L504.41 124.2L510.46 124.2L516.5 124.2L516.5 130.23L516.5 136.26L516.5 142.29L516.5 148.32L516.5 154.36L516.5 160.39L516.5 166.42L516.5 172.45L516.5 178.48L516.5 184.51L516.5 190.54L516.5 196.57L516.5 202.61L516.5 208.64L516.5 214.67L516.5 220.7L510.46 220.7L504.41 220.7L498.37 220.7L492.33 220.7L486.28 220.7L480.24 220.7L474.19 220.7L468.15 220.7L462.11 220.7L456.06 220.7L450.02 220.7L443.98 220.7L437.93 220.7L431.89 220.7L425.84 220.7L419.8 220.7L419.8 214.67L419.8 208.64L419.8 202.61L419.8 196.57L419.8 190.54L419.8 184.51L419.8 178.48L419.8 172.45L419.8 166.42L419.8 160.39L419.8 154.36L419.8 148.32L419.8 142.29L419.8 136.26L419.8 130.23ZM450.02 206.33L447.69 208.64L450.02 210.95L453.75 214.67L456.06 216.94L458.35 214.67L458.36 208.64L456.06 206.34ZM480.24 127.95L477.96 130.23L477.95 136.26L477.93 142.29L474.19 145.83L468.15 145.83L465.64 148.32L465.63 154.36L465.64 160.39L468.15 162.88L474.19 162.87L476.69 160.39L476.7 154.36L480.24 150.83L482.74 148.32L482.55 142.29L486.28 138.57L488.57 136.26L488.56 130.23L486.28 127.94Z" fill="#bac6e0"/>
<path d="M419.8 124.2L425.84 124.2L431.89 124.2L437.93 124.2L443.98 124.2L450.02 124.2L456.06 124.2L462.11 124.2L468.15 124.2L474.19 124.2L480.24 124.2L486.28 124.2L492.33 124.2L498.37 124.2L504.41 124.2L510.46 124.2L516.5 124.2L516.5 130.23L516.5 136.26L516.5 142.29L516.5 148.32L516.5 154.36L516.5 160.39L516.5 166.42L516.5 172.45L516.5 178.48L516.5 184.51L516.5 190.54L516.5 196.57L516.5 202.61L516.5 208.64L516.5 214.67L516.5 220.7L510.46 220.7L504.41 220.7L498.37 220.7L492.33 220.7L486.28 220.7L480.24 220.7L474.19 220.7L468.15 220.7L462.11 220.7L456.06 220.7L450.02 220.7L443.98 220.7L437.93 220.7L431.89 220.7L425.84 220.7L419.8 220.7L419.8 214.67L419.8 208.64L419.8 202.61L419.8 196.57L419.8 190.54L419.8 184.51L419.8 178.48L419.8 172.45L419.8 166.42L419.8 160.39L419.8 154.36L419.8 148.32L419.8 142.29L419.8 136.26L419.8 130.23ZM450.02 205.87L447.23 208.64L450.02 211.41L453.28 214.67L456.06 217.39L458.8 214.67L458.82 208.64L456.06 205.87ZM480.24 127.49L477.5 130.23L477.49 136.26L477.47 142.29L474.19 145.4L468.15 145.4L465.19 148.32L465.19 154.36L465.19 160.39L468.15 163.32L474.19 163.31L477.13 160.39L477.14 154.36L480.24 151.27L483.18 148.32L483.01 142.29L486.28 139.03L489.03 136.26L489.02 130.23L486.28 127.48Z" fill="#a8bedc"/>
<path d="M419.8 124.2L425.84 124.2L431.89 124.2L437.93 124.2L443.98 124.2L450.02 124.2L456.06 124.2L462.11 124.2L468.15 124.2L474.19 124.2L480.24 124.2L486.28 124.2L492.33 124.2L498.37 124.2L504.41 124.2L510.46 124.2L516.5 124.2L516.5 130.23L516.5 136.26L516.5 142.29L516.5 148.32L516.5 154.36L516.5 160.39L516.5 166.42L516.5 172.45L516.5 178.48L516.5 184.51L516.5 190.54L516.5 196.57L516.5 202.61L516.5 208.64L516.5 214.67L516.5 220.7L510.46 220.7L504.41 220.7L498.37 220.7L492.33 220.7L486.28 220.7L480.24 220.7L474.19 220.7L468.15 220.7L462.11 220.7L456.06 220.7L450.02 220.7L443.98 220.7L437.93 220.7L431.89 220.7L425.84 220.7L419.8 220.7L419.8 214.67L419.8 208.64L419.8 202.61L419.8 196.57L419.8 190.54L419.8 184.51L419.8 178.48L419.8 172.45L419.8 166.42L419.8 160.39L419.8 154.36L419.8 148.32L419.8 142.29L419.8 136.26L419.8 130.23ZM450.02 205.41L446.76 208.64L450.02 211.87L452.82 214.67L456.06 217.84L459.26 214.67L459.28 208.64L456.06 205.41ZM480.24 127.03L477.04 130.23L477.03 136.26L477.01 142.29L474.19 144.96L468.15 144.96L464.75 148.32L464.75 154.36L464.75 160.39L468.15 163.75L474.19 163.74L477.57 160.39L477.58 154.36L480.24 151.71L483.62 148.32L483.47 142.29L486.28 139.49L489.49 136.26L489.48 130.23L486.28 127.03Z" fill="#94b6d7"/>
<path d="M419.8 124.2L425.84 124.2L431.89 124.2L437.93 124.2L443.98 124.2L450.02 124.2L456.06 124.2L462.11 124.2L468.15 124.2L474.19 124.2L480.24 124.2L486.28 124.2L492.33 124.2L498.37 124.2L504.41 124.2L510.46 124.2L516.5 124.2L516.5 130.23L516.5 136.26L516.5 142.29L516.5 148.32L516.5 154.36L516.5 160.39L516.5 166.42L516.5 172.45L516.5 178.48L516.5 184.51L516.5 190.54L516.5 196.57L516.5 202.61L516.5 208.64L516.5 214.67L516.5 220.7L510.46 220.7L504.41 220.7L498.37 220.7L492.33 220.7L486.28 220.7L480.24 220.7L474.19 220.7L468.15 220.7L462.11 220.7L456.06 220.7L450.02 220.7L443.98 220.7L437.93 220.7L431.89 220.7L425.84 220.7L419.8 220.7L419.8 214.67L419.8 208.64L419.8 202.61L419.8 196.57L419.8 190.54L419.8 184.51L419.8 178.48L419.8 172.45L419.8 166.42L419.8 160.39L419.8 154.36L419.8 148.32L419.8 142.29L419.8 136.26L419.8 130.23ZM450.02 204.95L446.3 208.64L450.02 212.34L452.35 214.67L456.06 218.3L459.72 214.67L459.74 208.64L456.06 204.95ZM480.24 126.58L476.59 130.23L476.58 136.26L476.55 142.29L474.19 144.52L468.15 144.52L464.31 148.32L464.31 154.36L464.31 160.39L468.15 164.19L474.19 164.18L478 160.39L478.02 154.36L480.24 152.15L484.06 148.32L483.93 142.29L486.28 139.95L489.94 136.26L489.94 130.23L486.28 126.57Z" fill="#7fadd2"/>
<path d="M419.8 124.2L425.84 124.2L431.89 124.2L437.93 124.2L443.98 124.2L450.02 124.2L456.06 124.2L462.11 124.2L468.15 124.2L474.19 124.2L480.24 124.2L486.28 124.2L492.33 124.2L498.37 124.2L504.41 124.2L510.46 124.2L516.5 124.2L516.5 130.23L516.5 136.26L516.5 142.29L516.5 148.32L516.5 154.36L516.5 160.39L516.5 166.42L516.5 172.45L516.5 178.48L516.5 184.51L516.5 190.54L516.5 196.57L516.5 202.61L516.5 208.64L516.5 214.67L516.5 220.7L510.46 220.7L504.41 220.7L498.37 220.7L492.33 220.7L486.28 220.7L480.24 220.7L474.19 220.7L468.15 220.7L462.11 220.7L456.06 220.7L450.02 220.7L443.98 220.7L437.93 220.7L431.89 220.7L425.84 220.7L419.8 220.7L419.8 214.67L419.8 208.64L419.8 202.61L419.8 196.57L419.8 190.54L419.8 184.51L419.8 178.48L419.8 172.45L419.8 166.42L419.8 160.39L419.8 154.36L419.8 148.32L419.8 142.29L419.8 136.26L419.8 130.23ZM450.02 204.49L445.83 208.64L450.02 212.8L451.89 214.67L456.06 218.75L460.17 214.67L460.2 208.64L456.06 204.49ZM480.24 126.12L476.13 130.23L476.12 136.26L476.09 142.29L474.19 144.09L468.15 144.08L463.87 148.32L463.86 154.36L463.87 160.39L468.15 164.63L474.19 164.62L478.44 160.39L478.46 154.36L480.24 152.59L484.5 148.32L484.39 142.29L486.28 140.41L490.4 136.26L490.39 130.23L486.28 126.11Z" fill="#67a4cc"/>
<path d="M419.8 124.2L425.84 124.2L431.89 124.2L437.93 124.2L443.98 124.2L450.02 124.2L456.06 124.2L462.11 124.2L468.15 124.2L474.19 124.2L480.24 124.2L486.28 124.2L492.33 124.2L498.37 124.2L504.41 124.2L510.46 124.2L516.5 124.2L516.5 130.23L516.5 136.26L516.5 142.29L516.5 148.32L516.5 154.36L516.5 160.39L516.5 166.42L516.5 172.45L516.5 178.48L516.5 184.51L516.5 190.54L516.5 196.57L516.5 202.61L516.5 208.64L516.5 214.67L516.5 220.7L510.46 220.7L504.41 220.7L498.37 220.7L492.33 220.7L486.28 220.7L480.24 220.7L474.19 220.7L468.15 220.7L462.11 220.7L456.06 220.7L450.02 220.7L443.98 220.7L437.93 220.7L431.89 220.7L425.84 220.7L419.8 220.7L419.8 214.67L419.8 208.64L419.8 202.61L419.8 196.57L419.8 190.54L419.8 184.51L419.8 178.48L419.8 172.45L419.8 166.42L419.8 160.39L419.8 154.36L419.8 148.32L419.8 142.29L419.8 136.26L419.8 130.23ZM450.02 204.03L445.37 208.64L450.02 213.26L451.43 214.67L456.06 219.2L460.63 214.67L460.66 208.64L456.06 204.03ZM480.24 125.66L475.67 130.23L475.66 136.26L475.62 142.29L474.19 143.65L468.15 143.65L463.43 148.32L463.42 154.36L463.43 160.39L468.15 165.06L474.19 165.05L478.88 160.39L478.9 154.36L480.24 153.03L484.94 148.32L484.86 142.29L486.28 140.87L490.86 136.26L490.85 130.23L486.28 125.65Z" fill="#4d99c6"/>
<path d="M419.8 124.2L425.84 124.2L431.89 124.2L437.93 124.2L443.98 124.2L450.02 124.2L456.06 124.2L462.11 124.2L468.15 124.2L474.19 124.2L480.24 124.2L486.28 124.2L492.33 124.2L498.37 124.2L504.41 124.2L510.46 124.2L516.5 124.2L516.5 130.23L516.5 136.26L516.5 142.29L516.5 148.32L516.5 154.36L516.5 160.39L516.5 166.42L516.5 172.45L516.5 178.48L516.5 184.51L516.5 190.54L516.5 196.57L516.5 202.61L516.5 208.64L516.5 214.67L516.5 220.7L510.46 220.7L504.41 220.7L498.37 220.7L492.33 220.7L486.28 220.7L480.24 220.7L474.19 220.7L468.15 220.7L462.11 220.7L456.06 220.7L450.02 220.7L443.98 220.7L437.93 220.7L431.89 220.7L425.84 220.7L419.8 220.7L419.8 214.67L419.8 208.64L419.8 202.61L419.8 196.57L419.8 190.54L419.8 184.51L419.8 178.48L419.8 172.45L419.8 166.42L419.8 160.39L419.8 154.36L419.8 148.32L419.8 142.29L419.8 136.26L419.8 130.23ZM450.02 203.57L444.9 208.64L450.02 213.72L450.96 214.67L456.06 219.66L461.09 214.67L461.12 208.64L456.06 203.57ZM480.24 125.21L475.22 130.23L475.2 136.26L475.16 142.29L474.19 143.21L468.15 143.21L462.99 148.32L462.98 154.36L462.99 160.39L468.15 165.5L474.19 165.49L479.32 160.39L479.34 154.36L480.24 153.47L485.38 148.32L485.32 142.29L486.28 141.33L491.32 136.26L491.31 130.23L486.28 125.19Z" fill="#338ebf"/>
<path d="M419.8 124.2L425.84 124.2L431.89 124.2L437.93 124.2L443.98 124.2L450.02 124.2L456.06 124.2L462.11 124.2L468.15 124.2L474.19 124.2L480.24 124.2L486.28 124.2L492.33 124.2L498.37 124.2L504.41 124.2L510.46 124.2L516.5 124.2L516.5 130.23L516.5 136.26L516.5 142.29L516.5 148.32L516.5 154.36L516.5 160.39L516.5 166.42L516.5 172.45L516.5 178.48L516.5 184.51L516.5 190.54L516.5 196.57L516.5 202.61L516.5 208.64L516.5 214.67L516.5 220.7L510.46 220.7L504.41 220.7L498.37 220.7L492.33 220.7L486.28 220.7L480.24 220.7L474.19 220.7L468.15 220.7L462.11 220.7L456.06 220.7L450.02 220.7L443.98 220.7L437.93 220.7L431.89 220.7L425.84 220.7L419.8 220.7L419.8 214.67L419.8 208.64L419.8 202.61L419.8 196.57L419.8 190.54L419.8 184.51L419.8 178.48L419.8 172.45L419.8 166.42L419.8 160.39L419.8 154.36L419.8 148.32L419.8 142.29L419.8 136.26L419.8 130.23ZM450.02 203.11L444.44 208.64L450.02 214.19L450.5 214.67L456.06 220.11L461.54 214.67L461.58 208.64L456.06 203.11ZM480.24 124.75L474.76 130.23L474.75 136.26L474.7 142.29L474.19 142.78L468.15 142.77L462.55 148.32L462.54 154.36L462.55 160.39L468.15 165.94L474.19 165.92L479.76 160.39L479.79 154.36L480.24 153.9L485.82 148.32L485.78 142.29L486.28 141.79L491.78 136.26L491.76 130.23L486.28 124.74Z" fill="#1f81b8"/>
<path d="M419.8 124.2L425.84 124.2L431.89 124.2L437.93 124.2L443.98 124.2L450.02 124.2L456.06 124.2L462.11 124.2L468.15 124.2L474.19 124.2L480.24 124.2L486.28 124.2L492.33 124.2L498.37 124.2L504.41 124.2L510.46 124.2L516.5 124.2L516.5 130.23L516.5 136.26L516.5 142.29L516.5 148.32L516.5 154.36L516.5 160.39L516.5 166.42L516.5 172.45L516.5 178.48L516.5 184.51L516.5 190.54L516.5 196.57L516.5 202.61L516.5 208.64L516.5 214.67L516.5 220.7L510.46 220.7L504.41 220.7L498.37 220.7L492.33 220.7L486.28 220.7L480.24 220.7L474.19 220.7L468.15 220.7L462.11 220.7L456.06 220.7L450.02 220.7L443.98 220.7L437.93 220.7L431.89 220.7L437.08 214.67L431.89 208.64L431.89 208.64L425.84 208.37L419.8 208.64L419.8 202.61L419.8 196.57L419.8 190.54L419.8 184.51L419.8 178.48L419.8 172.45L419.8 166.42L419.8 160.39L419.8 160.39L425.84 160.36L431.89 160.39L431.89 160.39L437.93 160.39L443.97 160.39L443.98 160.39L450.02 160.32L456.06 160.39L456.06 160.39L462.11 160.44L468.15 166.37L474.19 166.36L480.19 160.39L480.23 154.36L480.24 154.34L486.26 148.32L486.24 142.29L486.28 142.25L492.23 136.26L492.22 130.23L486.28 124.28L480.24 124.29L474.3 130.23L474.29 136.26L474.24 142.29L474.19 142.34L468.15 142.34L462.11 148.27L456.06 148.32L456.06 148.32L450.02 148.39L443.98 148.32L443.98 148.32L437.93 148.32L431.89 148.32L431.89 148.32L425.84 148.35L419.8 148.33L419.8 148.32L419.8 142.29L419.8 136.26L419.8 130.23ZM443.98 208.64L443.97 208.64L443.98 208.64L450.02 214.65L450.04 214.67L456.06 220.56L462 214.67L462.04 208.64L456.06 202.65L450.02 202.65ZM419.8 220.7L419.8 220.7L419.8 220.7Z" fill="#0a73b2"/>
<path d="M505.7 124.2L510.46 124.2L516.5 124.2L516.5 130.23L516.5 136.26L516.5 142.29L516.5 148.32L516.5 154.36L516.5 160.39L516.5 166.42L516.5 172.45L516.5 178.48L516.5 184.51L516.5 190.54L516.5 196.57L516.5 202.61L516.5 208.64L516.5 214.67L516.5 220.7L510.46 220.7L504.41 220.7L498.37 220.7L492.33 220.7L486.28 220.7L480.24 220.7L477.98 220.7L480.24 217.72L481.69 214.67L484.36 208.64L486.28 203.53L486.55 202.61L488.09 196.57L489.11 190.54L490.03 184.51L491.03 178.48L492.33 172.45L492.33 172.45L493.35 166.42L494.96 160.39L497.54 154.36L498.37 152.43L499.83 148.32L501.73 142.29L504.41 136.26L504.41 136.26L505.5 130.23Z" fill="#0569a5"/>
<path d="M514.33 130.23L516.5 126.76L516.5 130.23L516.5 136.26L516.5 142.29L516.5 148.32L516.5 154.36L516.5 160.39L516.5 166.42L516.5 172.45L516.5 178.48L516.5 184.51L516.5 190.54L516.5 196.57L516.5 202.61L516.5 208.64L516.5 214.67L516.5 220.7L510.46 220.7L504.41 220.7L498.37 220.7L492.33 220.7L493.43 214.67L494.54 208.64L495.59 202.61L496.52 196.57L497.27 190.54L497.98 184.51L498.37 181.11L498.64 178.48L499.38 172.45L500.87 166.42L502.93 160.39L504.41 156.39L504.99 154.36L506.67 148.32L508.85 142.29L510.46 138.7L511.54 136.26Z" fill="#046096"/>
<path d="M514.64 142.29L516.5 138.54L516.5 142.29L516.5 148.32L516.5 154.36L516.5 160.39L516.5 166.42L516.5 172.45L516.5 178.48L516.5 184.51L516.5 190.54L516.5 196.57L516.5 202.61L516.5 208.64L516.5 214.67L516.5 220.7L510.46 220.7L504.41 220.7L500.09 220.7L500.89 214.67L501.67 208.64L502.41 202.61L503.12 196.57L503.8 190.54L504.41 184.51L504.41 184.51L504.9 178.48L505.63 172.45L507.31 166.42L509.14 160.39L510.46 155.35L510.69 154.36L512.22 148.32Z" fill="#045585"/>
<path d="M516.1 154.36L516.5 152.72L516.5 154.36L516.5 160.39L516.5 166.42L516.5 172.45L516.5 178.48L516.5 184.51L516.5 190.54L516.5 196.57L516.5 202.61L516.5 208.64L516.5 214.67L516.5 220.7L510.46 220.7L507.18 220.7L507.89 214.67L508.52 208.64L509.05 202.61L509.58 196.57L510.12 190.54L510.46 186.19L510.59 184.51L511.05 178.48L511.83 172.45L513.39 166.42L514.82 160.39Z" fill="#03466e"/>
<path d="M516.16 202.61L516.5 196.58L516.5 202.61L516.5 208.64L516.5 214.67L516.5 220.7L514.3 220.7L515.11 214.67L515.76 208.64Z" fill="#023858"/>
<polygon points="480.48,153.51 474.19,154.36 480.48,161.59" fill="#f6eff7" filter="url(#bl)"/>
</g></g>
<rect x="517.4" y="215.88" width="7.3" height="4.88" fill="#fff7fb"/>
<rect x="517.4" y="211.05" width="7.3" height="4.88" fill="#f7f0f7"/>
<rect x="517.4" y="206.22" width="7.3" height="4.88" fill="#efeaf3"/>
<rect x="517.4" y="201.4" width="7.3" height="4.88" fill="#e5e1ef"/>
<rect x="517.4" y="196.57" width="7.3" height="4.88" fill="#d9d8ea"/>
<rect x="517.4" y="191.75" width="7.3" height="4.88" fill="#cccfe5"/>
<rect x="517.4" y="186.92" width="7.3" height="4.88" fill="#bac6e0"/>
<rect x="517.4" y="182.1" width="7.3" height="4.88" fill="#a8bedc"/>
<rect x="517.4" y="177.27" width="7.3" height="4.88" fill="#94b6d7"/>
<rect x="517.4" y="172.45" width="7.3" height="4.88" fill="#7fadd2"/>
<rect x="517.4" y="167.62" width="7.3" height="4.88" fill="#67a4cc"/>
<rect x="517.4" y="162.8" width="7.3" height="4.88" fill="#4d99c6"/>
<rect x="517.4" y="157.97" width="7.3" height="4.88" fill="#338ebf"/>
<rect x="517.4" y="153.15" width="7.3" height="4.88" fill="#1f81b8"/>
<rect x="517.4" y="148.32" width="7.3" height="4.88" fill="#0a73b2"/>
<rect x="517.4" y="143.5" width="7.3" height="4.88" fill="#0569a5"/>
<rect x="517.4" y="138.67" width="7.3" height="4.88" fill="#046096"/>
<rect x="517.4" y="133.85" width="7.3" height="4.88" fill="#045585"/>
<rect x="517.4" y="129.02" width="7.3" height="4.88" fill="#03466e"/>
<rect x="517.4" y="124.2" width="7.3" height="4.88" fill="#023858"/>
<rect x="517.4" y="124.2" width="7.3" height="96.5" fill="none" stroke="#9c9c9c" stroke-width="0.6"/>
<rect x="419.8" y="124.2" width="96.7" height="96.5" fill="none" stroke="#858585" stroke-width="0.8"/>
<path d="M431.89 220.7v-1.2 M431.89 124.2v1.2M456.06 220.7v-1.2 M456.06 124.2v1.2M480.24 220.7v-1.2 M480.24 124.2v1.2M504.41 220.7v-1.2 M504.41 124.2v1.2M419.8 208.64h1.2 M516.5 208.64h-1.2M419.8 184.51h1.2 M516.5 184.51h-1.2M419.8 160.39h1.2 M516.5 160.39h-1.2M419.8 136.26h1.2 M516.5 136.26h-1.2M524.7 124.2h-1.2M524.7 140.28h-1.2M524.7 156.37h-1.2M524.7 172.45h-1.2M524.7 188.53h-1.2M524.7 204.62h-1.2M524.7 220.7h-1.2" stroke="#858585" stroke-width="0.6" fill="none"/>
<text class="t" x="468.15" y="121.5" text-anchor="middle">MAE of <tspan class="i" letter-spacing="0.6">FSPR</tspan>(-)</text>
<text class="cb" x="527.3" y="127.3">0.1479</text>
<text class="cb" x="527.3" y="143.38">0.1310</text>
<text class="cb" x="527.3" y="159.47">0.1140</text>
<text class="cb" x="527.3" y="175.55">0.0971</text>
<text class="cb" x="527.3" y="191.63">0.0802</text>
<text class="cb" x="527.3" y="207.72">0.0633</text>
<text class="cb" x="527.3" y="223.8">0.0463</text>
<g filter="url(#soft)"><g clip-path="url(#c8)">
<path d="M31.6 235.3L37.64 235.3L43.69 235.3L49.73 235.3L55.78 235.3L61.82 235.3L67.86 235.3L73.91 235.3L79.95 235.3L85.99 235.3L92.04 235.3L98.08 235.3L104.12 235.3L110.17 235.3L116.21 235.3L122.26 235.3L128.3 235.3L128.3 241.33L128.3 247.36L128.3 253.39L128.3 259.42L128.3 265.46L128.3 271.49L128.3 277.52L128.3 283.55L128.3 289.58L128.3 295.61L128.3 301.64L128.3 307.67L128.3 313.71L128.3 319.74L128.3 325.77L128.3 331.8L122.26 331.8L116.21 331.8L110.17 331.8L104.12 331.8L98.08 331.8L92.04 331.8L85.99 331.8L79.95 331.8L73.91 331.8L67.86 331.8L61.82 331.8L55.78 331.8L49.73 331.8L43.69 331.8L37.64 331.8L31.6 331.8L31.6 325.77L31.6 319.74L31.6 313.71L31.6 307.67L31.6 301.64L31.6 295.61L31.6 289.58L31.6 283.55L31.6 277.52L31.6 271.49L31.6 265.46L31.6 259.42L31.6 253.39L31.6 247.36L31.6 241.33Z" fill="#f7f0f7"/>
<path d="M31.6 235.3L37.64 235.3L43.69 235.3L43.69 235.3L49.73 235.32L55.78 235.3L55.78 235.3L61.82 235.3L67.86 235.3L67.86 235.3L73.91 235.5L79.95 235.3L79.95 235.3L85.99 235.3L92.04 235.3L92.04 235.3L97.71 241.33L98.08 241.4L98.77 241.33L104.12 235.3L104.12 235.3L110.17 235.3L116.21 235.3L122.26 235.3L128.3 235.3L128.3 241.33L128.3 247.36L128.3 253.39L128.3 259.42L128.3 265.46L128.3 271.49L128.3 277.52L128.3 283.55L128.3 289.58L128.3 295.61L128.3 301.64L128.3 307.67L128.3 313.71L128.3 319.74L128.3 325.77L128.3 331.8L122.26 331.8L116.21 331.8L110.17 331.8L104.12 331.8L98.08 331.8L92.04 331.8L85.99 331.8L79.95 331.8L73.91 331.8L67.86 331.8L61.82 331.8L55.78 331.8L49.73 331.8L43.69 331.8L37.64 331.8L31.6 331.8L31.6 325.77L31.6 319.74L31.6 313.71L31.6 307.67L31.6 301.64L31.6 295.61L31.6 289.58L31.6 283.55L31.6 277.52L31.6 271.49L31.6 265.46L31.6 259.42L31.6 253.39L31.6 247.36L31.6 241.33Z" fill="#efeaf3"/>
<path d="M107.95 235.3L110.17 235.3L116.21 235.3L122.26 235.3L128.3 235.3L128.3 241.33L128.3 247.36L128.3 253.39L128.3 259.42L128.3 265.46L128.3 271.49L128.3 277.52L128.3 283.55L128.3 289.58L128.3 295.61L128.3 301.64L128.3 307.67L128.3 313.71L128.3 319.74L128.3 325.77L128.3 331.8L122.26 331.8L116.21 331.8L110.17 331.8L104.12 331.8L98.08 331.8L92.04 331.8L85.99 331.8L79.95 331.8L73.91 331.8L67.86 331.8L61.82 331.8L55.78 331.8L49.73 331.8L43.69 331.8L37.64 331.8L31.6 331.8L31.6 325.77L31.6 319.74L31.6 313.71L31.6 307.67L31.6 301.64L31.6 295.61L31.6 289.58L31.6 283.55L31.6 277.52L31.6 271.49L31.6 265.46L31.6 259.42L31.6 253.39L31.6 247.36L31.6 244.74L37.64 244.74L43.69 244.74L49.73 244.75L55.78 244.74L61.82 244.73L67.86 244.74L73.91 244.78L79.95 244.74L85.99 244.61L92.04 244.95L98.08 245.73L104.12 245.16L107.31 241.33Z" fill="#e5e1ef"/>
<path d="M111.49 235.3L116.21 235.3L122.26 235.3L128.3 235.3L128.3 241.33L128.3 247.36L128.3 253.39L128.3 259.42L128.3 265.46L128.3 271.49L128.3 277.52L128.3 283.55L128.3 289.58L128.3 295.61L128.3 301.64L128.3 307.67L128.3 313.71L128.3 319.74L128.3 325.77L128.3 331.8L122.26 331.8L116.21 331.8L110.17 331.8L104.12 331.8L98.08 331.8L92.04 331.8L85.99 331.8L79.95 331.8L73.91 331.8L67.86 331.8L61.82 331.8L55.78 331.8L49.73 331.8L43.69 331.8L37.64 331.8L31.6 331.8L31.6 325.77L31.6 319.74L31.6 313.71L31.6 307.67L31.6 301.64L31.6 295.61L31.6 289.58L31.6 283.55L31.6 277.52L31.6 271.49L31.6 265.46L31.6 259.42L31.6 253.39L31.6 248.73L37.64 248.73L43.69 248.73L49.73 248.74L55.78 248.73L61.82 248.73L67.86 248.73L73.91 248.76L79.95 248.73L85.99 248.64L92.04 248.67L98.08 248.84L104.12 248.56L106.64 247.36L110.17 242.76L110.81 241.33Z" fill="#d9d8ea"/>
<path d="M114.64 235.3L116.21 235.3L122.26 235.3L128.3 235.3L128.3 241.33L128.3 247.36L128.3 253.39L128.3 259.42L128.3 265.46L128.3 271.49L128.3 277.52L128.3 283.55L128.3 289.58L128.3 295.61L128.3 301.64L128.3 307.67L128.3 313.71L128.3 319.74L128.3 325.77L128.3 331.8L122.26 331.8L116.21 331.8L110.17 331.8L104.12 331.8L98.08 331.8L92.04 331.8L85.99 331.8L79.95 331.8L73.91 331.8L67.86 331.8L61.82 331.8L55.78 331.8L49.73 331.8L43.69 331.8L37.64 331.8L31.6 331.8L31.6 325.77L31.6 319.74L31.6 313.71L31.6 307.67L31.6 301.64L31.6 295.61L31.6 289.58L31.6 283.55L31.6 277.52L31.6 271.49L31.6 265.46L31.6 259.42L31.6 253.39L31.6 251.47L37.64 251.47L43.69 251.47L49.73 251.48L55.78 251.47L61.82 251.47L67.86 251.47L73.91 251.49L79.95 251.47L85.99 251.38L92.04 251.3L98.08 251.22L104.12 250.94L110.17 248.54L111.37 247.36L113.75 241.33Z" fill="#cccfe5"/>
<path d="M118.38 235.3L122.26 235.3L128.3 235.3L128.3 241.33L128.3 247.36L128.3 253.39L128.3 259.42L128.3 265.46L128.3 271.49L128.3 277.52L128.3 283.55L128.3 289.58L128.3 295.61L128.3 301.64L128.3 307.67L128.3 313.71L128.3 319.74L128.3 325.77L128.3 331.8L122.26 331.8L116.21 331.8L110.17 331.8L104.12 331.8L98.08 331.8L92.04 331.8L85.99 331.8L79.95 331.8L73.91 331.8L67.86 331.8L61.82 331.8L55.78 331.8L49.73 331.8L43.69 331.8L37.64 331.8L31.6 331.8L31.6 325.77L31.6 319.74L31.6 313.71L31.6 307.67L31.6 301.64L31.6 295.61L31.6 289.58L31.6 283.55L31.6 277.52L31.6 271.49L31.6 265.46L31.6 259.42L31.6 254.18L37.64 254.18L43.69 254.18L49.73 254.18L55.78 254.18L61.82 254.18L67.86 254.18L73.91 254.19L79.95 253.73L85.99 253.7L92.04 253.63L98.08 253.61L102.67 253.39L104.12 253.33L110.17 252.52L115.4 247.36L116.21 244L116.84 241.33Z" fill="#bac6e0"/>
<path d="M120.76 241.33L122.26 236.61L123.31 235.3L128.3 235.3L128.3 241.33L128.3 247.36L128.3 253.39L128.3 259.42L128.3 265.46L128.3 271.49L128.3 277.52L128.3 283.55L128.3 289.58L128.3 295.61L128.3 301.64L128.3 307.67L128.3 313.71L128.3 319.74L128.3 325.77L128.3 331.8L122.26 331.8L116.21 331.8L110.17 331.8L104.12 331.8L98.08 331.8L92.04 331.8L85.99 331.8L79.95 331.8L73.91 331.8L67.86 331.8L61.82 331.8L55.78 331.8L49.73 331.8L43.69 331.8L37.64 331.8L31.6 331.8L31.6 325.77L31.6 319.74L31.6 313.71L31.6 307.67L31.6 301.64L31.6 295.61L31.6 289.58L31.6 283.55L31.6 277.52L31.6 271.49L31.6 265.46L31.6 259.42L31.6 256.8L37.64 256.8L43.69 256.8L49.73 256.8L55.78 256.8L61.82 256.81L67.86 256.8L73.91 256.79L79.95 254.87L85.99 254.84L92.04 254.79L98.08 256.21L104.12 255.98L110.17 256.9L114.63 259.42L115.79 265.46L116.21 271.49L116.21 271.49L116.21 271.49L117.27 265.46L118.48 259.42L119.51 253.39L119.97 247.36ZM116.21 283.55L116.21 283.55L116.15 289.58L116.21 295.61L116.21 295.61L116.21 295.61L116.4 289.58L116.21 283.55Z" fill="#a8bedc"/>
<path d="M126.07 247.36L128.3 242.97L128.3 247.36L128.3 253.39L128.3 259.42L128.3 265.46L128.3 271.49L128.3 277.52L128.3 283.55L128.3 289.58L128.3 295.61L128.3 301.64L128.3 307.67L128.3 313.71L128.3 319.74L128.3 325.77L128.3 331.8L122.26 331.8L116.21 331.8L110.17 331.8L104.12 331.8L98.08 331.8L92.04 331.8L85.99 331.8L79.95 331.8L73.91 331.8L67.86 331.8L61.82 331.8L55.78 331.8L49.73 331.8L43.69 331.8L37.64 331.8L31.6 331.8L31.6 325.77L31.6 319.74L31.6 313.71L31.6 307.67L31.6 301.64L31.6 295.61L31.6 289.58L31.6 283.55L31.6 277.52L31.6 271.49L31.6 265.46L31.6 259.42L31.6 259.42L31.6 259.42L37.64 259.43L43.69 259.42L43.69 259.42L49.73 259.42L55.78 259.42L55.78 259.42L61.82 259.44L67.86 259.42L67.86 259.42L73.91 259.4L79.95 256.01L85.99 255.99L92.04 255.95L98.08 258.8L104.12 258.63L106.58 259.42L110.11 265.46L110.17 265.86L110.87 271.49L111 277.52L111.14 283.55L111.14 289.58L111.31 295.61L112.72 301.64L115.24 307.67L116.21 308.54L117.69 307.67L122.26 303.02L122.82 301.64L124.58 295.61L124.74 289.58L124.56 283.55L124.29 277.52L124.17 271.49L124.45 265.46L124.67 259.42L125.1 253.39Z" fill="#94b6d7"/>
<path d="M75.91 259.42L79.95 257.15L85.99 257.13L92.04 257.11L96.42 259.42L98.08 264.18L104.12 265.23L104.28 265.46L105.68 271.49L106.07 277.52L106.43 283.55L106.51 289.58L106.78 295.61L108.25 301.64L110.17 307.13L110.39 307.67L116.21 312.84L122.26 309L123.22 307.67L125.87 301.64L128.3 295.61L128.3 301.64L128.3 307.67L128.3 313.71L128.3 319.74L128.3 325.77L128.3 331.8L122.26 331.8L116.21 331.8L110.17 331.8L104.12 331.8L98.08 331.8L92.04 331.8L85.99 331.8L79.95 331.8L73.91 331.8L67.86 331.8L61.82 331.8L55.78 331.8L49.73 331.8L43.69 331.8L37.64 331.8L31.6 331.8L31.6 325.77L31.6 319.74L31.6 313.71L31.6 307.67L31.6 301.64L31.6 295.61L31.6 289.58L31.6 283.55L31.6 277.52L31.6 271.49L31.6 265.46L31.6 262.85L37.64 262.86L43.69 262.85L49.73 262.84L55.78 262.85L61.82 262.88L67.86 262.85L73.91 262.75ZM128.3 259.42L128.3 259.42L128.3 259.42L128.3 265.46L128.3 271.49L128.3 277.52L128.3 283.55L127.87 277.52L127.61 271.49L127.83 265.46Z" fill="#7fadd2"/>
<path d="M77.93 259.42L79.95 258.29L85.99 258.28L92.04 258.27L94.23 259.42L92.04 262.76L89.34 265.46L92.04 271.49L92.04 271.49L97.88 277.52L98.08 277.86L99.83 283.55L100.28 289.58L100.99 295.61L104.03 301.64L104.12 301.8L106.2 307.67L110.17 313.45L110.48 313.71L116.21 316.72L120.4 313.71L122.26 312.48L125.76 307.67L128.3 302.66L128.3 307.67L128.3 313.71L128.3 319.74L128.3 325.77L128.3 331.8L122.26 331.8L116.21 331.8L110.17 331.8L104.12 331.8L98.08 331.8L92.04 331.8L85.99 331.8L79.95 331.8L73.91 331.8L67.86 331.8L61.82 331.8L55.78 331.8L49.73 331.8L43.69 331.8L37.64 331.8L31.6 331.8L31.6 325.77L31.6 319.74L31.6 313.71L31.6 307.67L31.6 301.64L31.6 295.61L31.6 289.58L31.6 283.55L31.6 277.52L31.6 271.49L31.6 266.62L37.64 266.64L43.69 266.62L49.73 266.6L55.78 266.62L61.82 266.68L67.86 266.62L73.91 266.39L74.89 265.46Z" fill="#67a4cc"/>
<path d="M43.69 271.49L49.73 271.46L55.78 271.49L49.73 271.75ZM67.86 271.49L73.91 271.2L79.95 271.49L73.91 273.83ZM81.64 301.64L85.99 299.87L92.04 298.29L95.43 301.64L98.08 303.86L100.51 307.67L104.12 312.27L104.97 313.71L110.17 318.97L112.66 319.74L116.21 320.65L117.03 319.74L122.26 315.73L123.74 313.71L128.3 307.67L128.3 313.71L128.3 319.74L128.3 325.77L128.3 331.8L122.26 331.8L116.21 331.8L110.17 331.8L104.12 331.8L98.08 331.8L92.04 331.8L85.99 331.8L79.95 331.8L73.91 331.8L67.86 331.8L61.82 331.8L55.78 331.8L49.73 331.8L43.69 331.8L37.64 331.8L31.6 331.8L31.6 325.77L31.6 319.74L31.6 313.71L31.6 307.67L31.6 302.15L37.64 302.14L43.69 302.15L49.73 302.17L55.78 302.15L61.82 302.13L67.86 302.25L73.91 302.53L79.95 302.21Z" fill="#4d99c6"/>
<path d="M31.6 313.71L31.6 311.97L37.64 311.91L43.69 311.97L49.73 312.02L55.78 311.97L61.82 311.79L67.86 311.76L73.91 312.14L79.95 312.2L85.99 310.84L92.04 309.9L96.7 313.71L98.08 314.94L102.08 319.74L104.12 322.52L110.17 325.66L116.21 325.23L121.11 319.74L122.26 318.86L126.03 313.71L128.3 310.7L128.3 313.71L128.3 319.74L128.3 325.77L128.3 331.8L122.26 331.8L116.21 331.8L110.17 331.8L104.12 331.8L98.08 331.8L92.04 331.8L85.99 331.8L79.95 331.8L73.91 331.8L67.86 331.8L61.82 331.8L55.78 331.8L49.73 331.8L43.69 331.8L37.64 331.8L31.6 331.8L31.6 325.77L31.6 319.74Z" fill="#338ebf"/>
<path d="M31.6 319.74L37.64 319.7L43.69 319.74L43.69 319.74L49.73 319.76L55.78 319.74L55.78 319.74L61.82 319.62L67.86 319.74L67.86 319.74L73.91 321.12L79.95 323.53L85.99 325.09L87.17 325.77L85.99 328.87L85.42 331.8L79.95 331.8L73.91 331.8L67.86 331.8L61.82 331.8L55.78 331.8L49.73 331.8L43.69 331.8L37.64 331.8L31.6 331.8L31.6 325.77L31.6 319.74ZM123.86 319.74L128.3 313.73L128.3 319.74L128.3 325.77L128.3 331.8L122.26 331.8L116.21 331.8L119.83 325.77L122.26 323.04Z" fill="#1f81b8"/>
<path d="M126.08 319.74L128.3 316.73L128.3 319.74L128.3 325.77L128.3 331.8L122.26 331.8L121.08 331.8L122.26 329.55L123.3 325.77ZM31.6 325.77L31.6 325L37.64 325.08L43.69 325L49.73 324.91L55.78 325L59.86 325.77L61.82 326.21L67.86 329.58L70.03 331.8L67.86 331.8L61.82 331.8L55.78 331.8L49.73 331.8L43.69 331.8L37.64 331.8L31.6 331.8Z" fill="#0a73b2"/>
<path d="M125.85 325.77L128.3 319.74L128.3 325.77L128.3 331.8L124.86 331.8ZM31.6 331.8L31.6 329.57L37.64 329.84L43.69 329.57L49.73 329.32L55.78 329.57L60.82 331.8L55.78 331.8L49.73 331.8L43.69 331.8L37.64 331.8Z" fill="#0569a5"/>
</g></g>
<rect x="129.2" y="326.97" width="7.3" height="4.88" fill="#fff7fb"/>
<rect x="129.2" y="322.15" width="7.3" height="4.88" fill="#f7f0f7"/>
<rect x="129.2" y="317.32" width="7.3" height="4.88" fill="#efeaf3"/>
<rect x="129.2" y="312.5" width="7.3" height="4.88" fill="#e5e1ef"/>
<rect x="129.2" y="307.67" width="7.3" height="4.88" fill="#d9d8ea"/>
<rect x="129.2" y="302.85" width="7.3" height="4.88" fill="#cccfe5"/>
<rect x="129.2" y="298.02" width="7.3" height="4.88" fill="#bac6e0"/>
<rect x="129.2" y="293.2" width="7.3" height="4.88" fill="#a8bedc"/>
<rect x="129.2" y="288.37" width="7.3" height="4.88" fill="#94b6d7"/>
<rect x="129.2" y="283.55" width="7.3" height="4.88" fill="#7fadd2"/>
<rect x="129.2" y="278.72" width="7.3" height="4.88" fill="#67a4cc"/>
<rect x="129.2" y="273.9" width="7.3" height="4.88" fill="#4d99c6"/>
<rect x="129.2" y="269.07" width="7.3" height="4.88" fill="#338ebf"/>
<rect x="129.2" y="264.25" width="7.3" height="4.88" fill="#1f81b8"/>
<rect x="129.2" y="259.42" width="7.3" height="4.88" fill="#0a73b2"/>
<rect x="129.2" y="254.6" width="7.3" height="4.88" fill="#0569a5"/>
<rect x="129.2" y="249.77" width="7.3" height="4.88" fill="#046096"/>
<rect x="129.2" y="244.95" width="7.3" height="4.88" fill="#045585"/>
<rect x="129.2" y="240.12" width="7.3" height="4.88" fill="#03466e"/>
<rect x="129.2" y="235.3" width="7.3" height="4.88" fill="#023858"/>
<rect x="129.2" y="235.3" width="7.3" height="96.5" fill="none" stroke="#9c9c9c" stroke-width="0.6"/>
<rect x="31.6" y="235.3" width="96.7" height="96.5" fill="none" stroke="#858585" stroke-width="0.8"/>
<path d="M43.69 331.8v-1.2 M43.69 235.3v1.2M67.86 331.8v-1.2 M67.86 235.3v1.2M92.04 331.8v-1.2 M92.04 235.3v1.2M116.21 331.8v-1.2 M116.21 235.3v1.2M31.6 319.74h1.2 M128.3 319.74h-1.2M31.6 295.61h1.2 M128.3 295.61h-1.2M31.6 271.49h1.2 M128.3 271.49h-1.2M31.6 247.36h1.2 M128.3 247.36h-1.2M136.5 235.3h-1.2M136.5 251.38h-1.2M136.5 267.47h-1.2M136.5 283.55h-1.2M136.5 299.63h-1.2M136.5 315.72h-1.2M136.5 331.8h-1.2" stroke="#858585" stroke-width="0.6" fill="none"/>
<text class="t" x="79.95" y="232.6" text-anchor="middle">MAE of <tspan class="i">θ</tspan><tspan class="sub" dy="1.6">0</tspan><tspan dy="-1.6">(degr.)</tspan></text>
<text class="cb" x="139.1" y="238.4">7.5091</text>
<text class="cb" x="139.1" y="254.48">6.9440</text>
<text class="cb" x="139.1" y="270.57">6.3788</text>
<text class="cb" x="139.1" y="286.65">5.8136</text>
<text class="cb" x="139.1" y="302.73">5.2484</text>
<text class="cb" x="139.1" y="318.82">4.6832</text>
<text class="cb" x="139.1" y="334.9">4.1181</text>
<text class="tk" x="27.8" y="322.64" text-anchor="end">18.7</text>
<text class="tk" x="27.8" y="298.51" text-anchor="end">18.9</text>
<text class="tk" x="27.8" y="274.39" text-anchor="end">19.1</text>
<text class="tk" x="27.8" y="250.26" text-anchor="end">19.3</text>
<text class="lb" transform="translate(10.3 285.55) rotate(-90)" text-anchor="middle">Latitude(degr.-North)</text>
<text class="tk" x="43.69" y="342.8" text-anchor="middle">110.2</text>
<text class="tk" x="67.86" y="342.8" text-anchor="middle">110.4</text>
<text class="tk" x="92.04" y="342.8" text-anchor="middle">110.6</text>
<text class="tk" x="116.21" y="342.8" text-anchor="middle">110.8</text>
<text class="lb" x="79.95" y="352.6" text-anchor="middle">Longitude(degr.-East)</text>
<g filter="url(#soft)"><g clip-path="url(#c9)">
<path d="M161 235.3L167.04 235.3L173.09 235.3L179.13 235.3L185.18 235.3L191.22 235.3L197.26 235.3L203.31 235.3L209.35 235.3L215.39 235.3L221.44 235.3L227.48 235.3L233.53 235.3L239.57 235.3L245.61 235.3L251.66 235.3L257.7 235.3L257.7 241.33L257.7 247.36L257.7 253.39L257.7 259.42L257.7 265.46L257.7 271.49L257.7 277.52L257.7 283.55L257.7 289.58L257.7 295.61L257.7 301.64L257.7 307.67L257.7 313.71L257.7 319.74L257.7 325.77L257.7 331.8L251.66 331.8L245.61 331.8L239.57 331.8L233.53 331.8L227.48 331.8L221.44 331.8L215.39 331.8L209.35 331.8L203.31 331.8L197.26 331.8L191.22 331.8L185.18 331.8L179.13 331.8L173.09 331.8L167.04 331.8L161 331.8L161 325.77L161 319.74L161 313.71L161 307.67L161 301.64L161 295.61L161 289.58L161 283.55L161 277.52L161 271.49L161 265.46L161 259.42L161 253.39L161 247.36L161 241.33Z" fill="#fff7fb"/>
<path d="M161 235.3L167.04 235.3L173.09 235.3L179.13 235.3L185.18 235.3L191.22 235.3L197.26 235.3L203.31 235.3L209.35 235.3L215.39 235.3L221.44 235.3L227.48 235.3L233.53 235.3L239.57 235.3L245.61 235.3L251.66 235.3L257.7 235.3L257.7 241.33L257.7 247.36L257.7 253.39L257.7 259.42L257.7 265.46L257.7 271.49L257.7 277.52L257.7 283.55L257.7 289.58L257.7 295.61L257.7 301.64L257.7 307.67L257.7 313.71L257.7 319.74L257.7 325.77L257.7 331.8L251.66 331.8L245.61 331.8L239.57 331.8L233.53 331.8L227.48 331.8L221.44 331.8L215.39 331.8L209.35 331.8L203.31 331.8L197.26 331.8L191.22 331.8L185.18 331.8L179.13 331.8L173.09 331.8L167.04 331.8L161 331.8L161 325.77L161 319.74L164.3 325.77L167.04 325.95L169.78 325.77L173.09 319.74L173.09 319.74L173.09 319.74L167.04 319.49L161 319.74L161 313.71L161 307.67L161 301.64L161 295.61L161 289.58L161 283.55L161 277.52L161 271.49L161 265.46L161 259.42L161 253.39L161 247.36L161 241.33ZM185.18 319.74L185.17 319.74L185.18 319.74L191.22 324.21L197.26 319.74L197.26 319.74L197.26 319.74L191.22 319.03Z" fill="#f7f0f7"/>
<path d="M161 235.3L167.04 235.3L173.09 235.3L179.13 235.3L185.18 235.3L191.22 235.3L197.26 235.3L203.31 235.3L209.35 235.3L215.39 235.3L221.44 235.3L227.48 235.3L233.53 235.3L239.57 235.3L245.61 235.3L251.66 235.3L257.7 235.3L257.7 241.33L257.7 247.36L257.7 253.39L257.7 259.42L257.7 265.46L257.7 271.49L257.7 277.52L257.7 283.55L257.7 289.58L257.7 295.61L257.7 301.64L257.7 307.67L257.7 313.71L257.7 319.74L257.7 325.77L257.7 331.8L251.66 331.8L245.61 331.8L239.57 331.8L233.53 331.8L227.48 331.8L221.44 331.8L215.39 331.8L209.35 331.8L203.31 331.8L197.26 331.8L191.22 331.8L185.18 331.8L179.13 331.8L173.09 331.8L167.04 331.8L161 331.8L161 328.68L167.04 329.03L173.09 328.68L179.13 327.96L185.18 327.77L191.22 327.82L197.26 326.54L197.96 325.77L199.59 319.74L197.26 316.71L191.22 316.27L185.18 316.75L179.13 316.93L173.09 316.77L167.04 316.61L161 316.77L161 313.71L161 307.67L161 301.64L161 295.61L161 289.58L161 283.55L161 277.52L161 271.49L161 265.46L161 259.42L161 253.39L161 247.36L161 241.33Z" fill="#efeaf3"/>
<path d="M161 241.33L161 238.46L167.04 238.44L173.09 238.46L179.13 238.49L185.18 238.47L191.22 238.39L197.26 238.47L203.31 238.74L209.35 238.46L215.39 237.53L221.44 238.27L225.35 241.33L227.48 245.86L233.53 243.44L233.96 241.33L234.36 235.3L239.57 235.3L245.61 235.3L251.66 235.3L257.7 235.3L257.7 241.33L257.7 247.36L257.7 253.39L257.7 259.42L257.7 265.46L257.7 271.49L257.7 277.52L257.7 283.55L257.7 289.58L257.7 295.61L257.7 301.64L257.7 307.67L257.7 313.71L257.7 319.74L257.7 325.77L257.7 331.8L251.66 331.8L245.61 331.8L239.57 331.8L233.53 331.8L227.48 331.8L221.44 331.8L215.39 331.8L209.35 331.8L203.31 331.8L197.26 331.8L191.22 331.8L185.18 331.8L179.13 331.8L173.09 331.8L173.09 331.8L173.09 331.8L179.13 330.96L185.18 330.46L191.22 330.08L197.26 328.64L199.89 325.77L201.92 319.74L197.32 313.71L197.26 313.68L191.22 313.51L186.37 313.71L185.18 313.76L179.13 313.86L173.09 313.8L167.04 313.73L161 313.8L161 313.71L161 307.67L161 301.64L161 295.61L161 289.58L161 283.55L161 277.52L161 271.49L161 265.46L161 259.42L161 253.39L161 247.36ZM167.04 258.29L161 259.42L167.04 259.44L173.09 259.42ZM191.22 256.7L185.18 259.42L191.22 259.48L197.26 259.42ZM215.39 252.86L210.88 253.39L215.39 253.45L221.44 253.44L221.75 253.39L221.44 252.93Z" fill="#e5e1ef"/>
<path d="M236.02 235.3L239.57 235.3L245.61 235.3L251.66 235.3L257.7 235.3L257.7 241.33L257.7 247.36L257.7 253.39L257.7 259.42L257.7 265.46L257.7 271.49L257.7 277.52L257.7 283.55L257.7 289.58L257.7 295.61L257.7 301.64L257.7 307.67L257.7 313.71L257.7 319.74L257.7 325.77L257.7 331.8L251.66 331.8L245.61 331.8L239.57 331.8L233.53 331.8L227.48 331.8L221.44 331.8L215.39 331.8L209.35 331.8L203.31 331.8L197.26 331.8L193.17 331.8L197.26 330.75L201.81 325.77L203.31 321.79L204.02 319.74L203.31 314.38L203.02 313.71L197.26 310.68L191.22 310.69L185.18 310.72L179.13 310.73L173.09 310.74L167.04 310.74L161 310.74L161 307.67L161 301.64L161 295.61L161 289.58L161 283.55L161 277.52L161 271.49L161 265.46L161 263.42L167.04 263.44L173.09 263.42L179.13 263.41L185.18 263.42L191.22 263.47L197.26 263.42L203.31 263.24L204.27 259.42L209.35 254.38L215.39 254.45L221.44 254.43L227.48 254.57L228.39 253.39L233.53 249.02L234.32 247.36L235.58 241.33Z" fill="#d9d8ea"/>
<path d="M237.68 235.3L239.57 235.3L245.61 235.3L251.66 235.3L257.7 235.3L257.7 241.33L257.7 247.36L257.7 253.39L257.7 259.42L257.7 265.46L257.7 271.49L257.7 277.52L257.7 283.55L257.7 289.58L257.7 295.61L257.7 301.64L257.7 307.67L257.7 313.71L257.7 319.74L257.7 325.77L257.7 331.8L251.66 331.8L245.61 331.8L239.57 331.8L233.53 331.8L227.48 331.8L221.44 331.8L215.39 331.8L209.35 331.8L203.31 331.8L198.39 331.8L203.31 326.32L203.64 325.77L205.8 319.74L206.6 313.71L209.35 307.67L209.35 307.67L209.35 307.67L203.31 303.93L197.26 307.67L197.26 307.67L191.22 307.87L185.18 307.67L185.18 307.67L179.13 307.39L173.09 307.67L173.09 307.67L167.04 307.75L161 307.67L161 307.67L161 301.64L161 295.61L161 289.58L161 283.55L161 277.52L161 271.49L161 267.44L167.04 267.45L173.09 267.44L179.13 267.44L185.18 267.44L191.22 267.47L197.26 267.44L203.31 267.35L203.92 265.46L205.29 259.42L209.35 255.39L215.39 255.44L221.44 255.43L227.42 259.42L227.48 259.52L227.57 259.42L232.28 253.39L233.53 252.34L235.91 247.36L237.2 241.33Z" fill="#cccfe5"/>
<path d="M239.34 235.3L239.57 235.3L245.61 235.3L251.66 235.3L257.7 235.3L257.7 241.33L257.7 247.36L257.7 253.39L257.7 259.42L257.7 265.46L257.7 271.49L257.7 277.52L257.7 283.55L257.7 289.58L257.7 295.61L257.7 301.64L257.7 307.67L257.7 313.71L257.7 319.74L257.7 325.77L257.7 331.8L251.66 331.8L245.61 331.8L239.57 331.8L233.53 331.8L227.48 331.8L221.44 331.8L215.39 331.8L209.35 331.8L203.31 331.8L200.63 331.8L203.31 328.83L205.17 325.77L207.57 319.74L209.35 314.74L209.74 313.71L211.79 307.67L211.8 301.64L211.11 295.61L211.15 289.58L211.07 283.55L209.75 277.52L209.35 277.37L203.35 271.49L205.27 265.46L206.3 259.42L209.35 256.4L215.39 256.44L221.44 256.43L225.93 259.42L227.48 261.97L229.95 259.42L233.53 255.28L234.72 253.39L237.5 247.36L238.82 241.33ZM221.44 264.08L220.06 265.46L221.44 267.7L223.76 265.46ZM161 271.49L161 271.49L167.04 271.48L173.09 271.49L167.04 271.72L161 271.49ZM185.18 271.49L191.22 271.47L197.26 271.49L197.26 271.49L197.26 271.49L191.22 272.62Z" fill="#bac6e0"/>
<path d="M240.77 235.3L245.61 235.3L251.66 235.3L257.7 235.3L257.7 241.33L257.7 247.36L257.7 253.39L257.7 259.42L257.7 265.46L257.7 271.49L257.7 277.52L257.7 283.55L257.7 289.58L257.7 295.61L257.7 301.64L257.7 307.67L257.7 313.71L257.7 319.74L257.7 325.77L257.7 331.8L251.66 331.8L245.61 331.8L239.57 331.8L233.53 331.8L227.48 331.8L221.44 331.8L215.39 331.8L209.35 331.8L203.31 331.8L202.88 331.8L203.31 331.33L206.7 325.77L209.35 319.74L209.35 319.74L211.61 313.71L214.23 307.67L214.86 301.64L214.63 295.61L214.53 289.58L214.5 283.55L214.88 277.52L209.35 275.41L205.35 271.49L206.63 265.46L207.32 259.42L209.35 257.41L215.39 257.43L221.44 257.43L224.43 259.42L221.44 262.53L218.5 265.46L221.44 270.22L226.37 265.46L227.48 264.42L232.33 259.42L233.53 258.04L236.48 253.39L239.09 247.36L239.57 245.2L240.27 241.33Z" fill="#a8bedc"/>
<path d="M242.15 235.3L245.61 235.3L251.66 235.3L257.7 235.3L257.7 241.33L257.7 247.36L257.7 253.39L257.7 259.42L257.7 265.46L257.7 271.49L257.7 277.52L257.7 283.55L257.7 289.58L257.7 295.61L257.7 301.64L257.7 307.67L257.7 313.71L257.7 319.74L257.7 325.77L257.7 331.8L251.66 331.8L245.61 331.8L239.57 331.8L233.53 331.8L227.48 331.8L221.44 331.8L215.39 331.8L209.35 331.8L204.79 331.8L208.23 325.77L209.35 323.22L210.89 319.74L213.49 313.71L215.39 309.72L216.44 307.67L217.3 301.64L217.47 295.61L217.37 289.58L217.39 283.55L218.64 277.52L215.39 274.66L209.35 273.45L207.35 271.49L207.99 265.46L208.33 259.42L209.35 258.42L215.39 258.43L221.44 258.43L222.93 259.42L221.44 260.98L216.95 265.46L219.42 271.49L221.44 273.85L222.7 271.49L227.48 266.86L228.81 265.46L233.52 260.61L234.58 259.42L238.23 253.39L239.57 250.25L240.51 247.36L241.56 241.33Z" fill="#94b6d7"/>
<path d="M243.54 235.3L245.61 235.3L251.66 235.3L257.7 235.3L257.7 241.33L257.7 247.36L257.7 253.39L257.7 259.42L257.7 265.46L257.7 271.49L257.7 277.52L257.7 283.55L257.7 289.58L257.7 295.61L257.7 301.64L257.7 307.67L257.7 313.71L257.7 319.74L257.7 325.77L257.7 331.8L251.66 331.8L245.61 331.8L239.57 331.8L233.53 331.8L227.48 331.8L221.44 331.8L215.39 331.8L209.35 331.8L206.61 331.8L209.35 326.68L209.75 325.77L212.43 319.74L215.36 313.71L215.39 313.64L218.44 307.67L219.6 301.64L220.11 295.61L220.01 289.58L220.09 283.55L221.44 279.37L222.01 277.52L225.22 271.49L227.48 269.3L231.13 265.46L233.52 262.99L236.69 259.42L239.57 254.3L239.97 253.39L241.85 247.36L242.85 241.33Z" fill="#7fadd2"/>
<path d="M244.92 235.3L245.61 235.3L251.66 235.3L257.7 235.3L257.7 241.33L257.7 247.36L257.7 253.39L257.7 259.42L257.7 265.46L257.7 271.49L257.7 277.52L257.7 283.55L257.7 289.58L257.7 295.61L257.7 301.64L257.7 307.67L257.7 313.71L257.7 319.74L257.7 325.77L257.7 331.8L251.66 331.8L245.61 331.8L239.57 331.8L233.53 331.8L227.48 331.8L221.44 331.8L215.39 331.8L209.35 331.8L208.44 331.8L209.35 330.09L211.26 325.77L213.96 319.74L215.39 316.81L217.16 313.71L220.44 307.67L221.44 303.4L221.89 301.64L222.57 295.61L222.56 289.58L222.74 283.55L224.59 277.52L227.48 271.99L227.74 271.49L233.44 265.46L233.53 265.37L238.81 259.42L239.57 258.06L241.61 253.39L243.19 247.36L244.14 241.33Z" fill="#67a4cc"/>
<path d="M245.43 241.33L245.61 240.03L246.67 235.3L251.66 235.3L257.7 235.3L257.7 241.33L257.7 247.36L257.7 253.39L257.7 259.42L257.7 265.46L257.7 271.49L257.7 277.52L257.7 283.55L257.7 289.58L257.7 295.61L257.7 301.64L257.7 307.67L257.7 313.71L257.7 319.74L257.7 325.77L257.7 331.8L251.66 331.8L245.61 331.8L239.57 331.8L233.53 331.8L227.48 331.8L221.44 331.8L215.39 331.8L210.21 331.8L212.76 325.77L215.39 319.97L215.51 319.74L218.96 313.71L221.44 309.28L222.56 307.67L224.1 301.64L224.83 295.61L224.99 289.58L225.35 283.55L227.17 277.52L227.48 276.92L230.25 271.49L233.52 268.02L236.54 265.46L239.57 261.82L241.03 259.42L243.26 253.39L244.54 247.36Z" fill="#4d99c6"/>
<path d="M248.78 235.3L251.66 235.3L257.7 235.3L257.7 241.33L257.7 247.36L257.7 253.39L257.7 259.42L257.7 265.46L257.7 271.49L257.7 277.52L257.7 283.55L257.7 289.58L257.7 295.61L257.7 301.64L257.7 307.67L257.7 313.71L257.7 319.74L257.7 325.77L257.7 331.8L251.66 331.8L245.61 331.8L239.57 331.8L233.53 331.8L227.48 331.8L221.44 331.8L215.39 331.8L211.94 331.8L214.27 325.77L215.39 323.29L217.21 319.74L220.75 313.71L221.44 312.49L224.81 307.67L226.31 301.64L227.09 295.61L227.42 289.58L227.48 288.88L228.03 283.55L229.98 277.52L232.77 271.49L233.53 270.69L239.57 265.59L239.69 265.46L243.32 259.42L244.91 253.39L245.61 249.29L246.08 247.36L247.41 241.33Z" fill="#338ebf"/>
<path d="M250.9 235.3L251.66 235.3L257.7 235.3L257.7 241.33L257.7 247.36L257.7 253.39L257.7 259.42L257.7 265.46L257.7 271.49L257.7 277.52L257.7 283.55L257.7 289.58L257.7 295.61L257.7 301.64L257.7 307.67L257.7 313.71L257.7 319.74L257.7 325.77L257.7 331.8L251.66 331.8L245.61 331.8L239.57 331.8L233.53 331.8L227.48 331.8L221.44 331.8L215.39 331.8L213.67 331.8L215.39 326.99L215.85 325.77L218.9 319.74L221.44 315.47L223.02 313.71L227.05 307.67L227.48 305.93L228.7 301.64L229.63 295.61L230.25 289.58L231.08 283.55L232.83 277.52L233.53 275.96L237.55 271.49L239.57 269.96L243.79 265.46L245.61 259.42L245.61 259.42L247.33 253.39L248.43 247.36L249.49 241.33Z" fill="#1f81b8"/>
<path d="M251.57 241.33L251.66 240.98L256.26 235.3L257.7 235.3L257.7 241.33L257.7 247.36L257.7 253.39L257.7 259.42L257.7 265.46L257.7 271.49L257.7 277.52L257.7 283.55L257.7 289.58L257.7 295.61L257.7 301.64L257.7 307.67L257.7 313.71L257.7 319.74L257.7 325.77L257.7 331.8L251.66 331.8L245.61 331.8L239.57 331.8L233.53 331.8L227.48 331.8L221.44 331.8L215.4 331.8L217.66 325.77L220.59 319.74L221.44 318.31L225.58 313.71L227.48 310.82L229.69 307.67L231.29 301.64L232.23 295.61L233.08 289.58L233.53 286.94L235.05 283.55L239.03 277.52L239.57 276.9L245.61 272.55L247.09 271.49L249.76 265.46L250 259.42L250.32 253.39L250.78 247.36Z" fill="#0a73b2"/>
<path d="M256.94 271.49L257.7 266L257.7 271.49L257.7 277.52L257.7 283.55L257.7 289.58L257.7 295.61L257.7 301.64L257.7 307.67L257.7 313.71L257.7 319.74L257.7 325.77L257.7 331.8L251.66 331.8L245.61 331.8L239.57 331.8L233.53 331.8L227.48 331.8L221.44 331.8L217.41 331.8L219.46 325.77L221.44 321.63L222.99 319.74L227.48 314.62L228.34 313.71L232.43 307.67L233.52 303.16L234.43 301.64L237.34 295.61L239.57 290.6L240.57 289.58L245.61 283.55L245.61 283.55L251.66 281.03L254.41 277.52Z" fill="#0569a5"/>
<path d="M253.65 295.61L257.7 290.27L257.7 295.61L257.7 301.64L257.7 307.67L257.7 313.71L257.7 319.74L257.7 325.77L257.7 331.8L251.66 331.8L245.61 331.8L239.57 331.8L233.53 331.8L227.48 331.8L221.44 331.8L219.42 331.8L221.27 325.77L221.44 325.41L226.1 319.74L227.48 318.17L231.69 313.71L233.53 310.82L237.22 307.67L239.57 303.91L242.64 301.64L245.61 299.49L251.66 297.25Z" fill="#046096"/>
<path d="M256.05 301.64L257.7 300.27L257.7 301.64L257.7 307.67L257.7 313.71L257.7 319.74L257.7 325.77L257.7 331.8L251.66 331.8L245.61 331.8L239.57 331.8L233.53 331.8L227.48 331.8L221.44 331.8L225.03 325.77L227.48 322.6L229.96 319.74L233.53 315.88L236.74 313.71L239.57 311.36L245.61 307.67L245.61 307.67L251.66 304.88Z" fill="#045585"/>
<path d="M246.16 313.71L251.66 311.71L257.7 307.67L257.7 313.71L257.7 319.74L257.7 325.77L257.7 331.8L251.66 331.8L245.61 331.8L239.57 331.8L233.53 331.8L227.48 331.8L226.63 331.8L227.48 330L229.94 325.77L233.53 321.33L235.42 319.74L239.57 317.21L245.61 313.89Z" fill="#03466e"/>
<path d="M248.92 319.74L251.66 319.11L257.7 317.53L257.7 319.74L257.7 325.77L257.7 331.8L251.66 331.8L245.61 331.8L239.57 331.8L236.93 331.8L239.43 325.77L239.57 325.66L245.61 321.01Z" fill="#023858"/>
</g></g>
<rect x="258.6" y="326.97" width="7.3" height="4.88" fill="#fff7fb"/>
<rect x="258.6" y="322.15" width="7.3" height="4.88" fill="#f7f0f7"/>
<rect x="258.6" y="317.32" width="7.3" height="4.88" fill="#efeaf3"/>
<rect x="258.6" y="312.5" width="7.3" height="4.88" fill="#e5e1ef"/>
<rect x="258.6" y="307.67" width="7.3" height="4.88" fill="#d9d8ea"/>
<rect x="258.6" y="302.85" width="7.3" height="4.88" fill="#cccfe5"/>
<rect x="258.6" y="298.02" width="7.3" height="4.88" fill="#bac6e0"/>
<rect x="258.6" y="293.2" width="7.3" height="4.88" fill="#a8bedc"/>
<rect x="258.6" y="288.37" width="7.3" height="4.88" fill="#94b6d7"/>
<rect x="258.6" y="283.55" width="7.3" height="4.88" fill="#7fadd2"/>
<rect x="258.6" y="278.72" width="7.3" height="4.88" fill="#67a4cc"/>
<rect x="258.6" y="273.9" width="7.3" height="4.88" fill="#4d99c6"/>
<rect x="258.6" y="269.07" width="7.3" height="4.88" fill="#338ebf"/>
<rect x="258.6" y="264.25" width="7.3" height="4.88" fill="#1f81b8"/>
<rect x="258.6" y="259.42" width="7.3" height="4.88" fill="#0a73b2"/>
<rect x="258.6" y="254.6" width="7.3" height="4.88" fill="#0569a5"/>
<rect x="258.6" y="249.77" width="7.3" height="4.88" fill="#046096"/>
<rect x="258.6" y="244.95" width="7.3" height="4.88" fill="#045585"/>
<rect x="258.6" y="240.12" width="7.3" height="4.88" fill="#03466e"/>
<rect x="258.6" y="235.3" width="7.3" height="4.88" fill="#023858"/>
<rect x="258.6" y="235.3" width="7.3" height="96.5" fill="none" stroke="#9c9c9c" stroke-width="0.6"/>
<rect x="161" y="235.3" width="96.7" height="96.5" fill="none" stroke="#858585" stroke-width="0.8"/>
<path d="M173.09 331.8v-1.2 M173.09 235.3v1.2M197.26 331.8v-1.2 M197.26 235.3v1.2M221.44 331.8v-1.2 M221.44 235.3v1.2M245.61 331.8v-1.2 M245.61 235.3v1.2M161 319.74h1.2 M257.7 319.74h-1.2M161 295.61h1.2 M257.7 295.61h-1.2M161 271.49h1.2 M257.7 271.49h-1.2M161 247.36h1.2 M257.7 247.36h-1.2M265.9 235.3h-1.2M265.9 251.38h-1.2M265.9 267.47h-1.2M265.9 283.55h-1.2M265.9 299.63h-1.2M265.9 315.72h-1.2M265.9 331.8h-1.2" stroke="#858585" stroke-width="0.6" fill="none"/>
<text class="t" x="209.35" y="232.6" text-anchor="middle">MAE of <tspan class="i">σ</tspan><tspan class="subi" dy="1.6">θ</tspan><tspan dy="-1.6">(degr.)</tspan></text>
<text class="cb" x="268.5" y="238.4">7.0916</text>
<text class="cb" x="268.5" y="254.48">6.2692</text>
<text class="cb" x="268.5" y="270.57">5.4467</text>
<text class="cb" x="268.5" y="286.65">4.6243</text>
<text class="cb" x="268.5" y="302.73">3.8018</text>
<text class="cb" x="268.5" y="318.82">2.9794</text>
<text class="cb" x="268.5" y="334.9">2.1569</text>
<text class="tk" x="173.09" y="342.8" text-anchor="middle">110.2</text>
<text class="tk" x="197.26" y="342.8" text-anchor="middle">110.4</text>
<text class="tk" x="221.44" y="342.8" text-anchor="middle">110.6</text>
<text class="tk" x="245.61" y="342.8" text-anchor="middle">110.8</text>
<text class="lb" x="209.35" y="352.6" text-anchor="middle">Longitude(degr.-East)</text>
<g filter="url(#soft)"><g clip-path="url(#c10)">
<path d="M290.4 235.3L296.44 235.3L302.49 235.3L308.53 235.3L314.58 235.3L320.62 235.3L326.66 235.3L332.71 235.3L338.75 235.3L344.79 235.3L350.84 235.3L356.88 235.3L362.93 235.3L368.97 235.3L375.01 235.3L381.06 235.3L387.1 235.3L387.1 241.33L387.1 247.36L387.1 253.39L387.1 259.42L387.1 265.46L387.1 271.49L387.1 277.52L387.1 283.55L387.1 289.58L387.1 295.61L387.1 301.64L387.1 307.67L387.1 313.71L387.1 319.74L387.1 325.77L387.1 331.8L381.06 331.8L375.01 331.8L368.97 331.8L362.93 331.8L356.88 331.8L350.84 331.8L344.79 331.8L338.75 331.8L332.71 331.8L326.66 331.8L320.62 331.8L314.58 331.8L308.53 331.8L302.49 331.8L296.44 331.8L290.4 331.8L290.4 325.77L290.4 319.74L290.4 313.71L290.4 307.67L290.4 301.64L290.4 295.61L290.4 289.58L290.4 283.55L290.4 277.52L290.4 271.49L290.4 265.46L290.4 259.42L290.4 253.39L290.4 247.36L290.4 241.33Z" fill="#f7f0f7"/>
<path d="M290.4 235.3L296.44 235.3L302.49 235.3L308.53 235.3L314.58 235.3L320.62 235.3L326.66 235.3L332.71 235.3L338.75 235.3L344.79 235.3L350.84 235.3L356.88 235.3L350.84 240.78L350.23 241.33L350.17 247.36L350.14 253.39L344.79 258.73L338.75 258.74L338.04 259.42L337.99 265.46L337.98 271.49L338.75 272.09L344.79 272.05L345.38 271.49L345.44 265.46L350.84 260.07L351.49 259.42L351.52 253.39L356.88 248.04L357.55 247.36L362.93 241.33L362.93 241.33L362.93 235.3L368.97 235.3L375.01 235.3L381.06 235.3L387.1 235.3L387.1 241.33L387.1 247.36L387.1 253.39L387.1 259.42L387.1 265.46L387.1 271.49L387.1 277.52L387.1 283.55L387.1 289.58L387.1 295.61L387.1 301.64L387.1 307.67L387.1 313.71L387.1 319.74L387.1 325.77L387.1 331.8L381.06 331.8L375.01 331.8L368.97 331.8L362.93 331.8L356.88 331.8L350.84 331.8L344.79 331.8L338.75 331.8L332.71 331.8L326.66 331.8L320.62 331.8L314.58 331.8L308.53 331.8L302.49 331.8L296.44 331.8L290.4 331.8L290.4 325.77L290.4 319.74L290.4 313.71L290.4 307.67L290.4 301.64L290.4 295.61L290.4 289.58L290.4 283.55L290.4 277.52L290.4 271.49L290.4 265.46L290.4 259.42L290.4 253.39L290.4 247.36L290.4 241.33ZM320.62 319.2L319.76 319.74L320.62 321.18L325.21 325.77L326.66 326.63L327.3 325.77L327.23 319.74L326.66 319.21Z" fill="#efeaf3"/>
<path d="M290.4 235.3L296.44 235.3L302.49 235.3L308.53 235.3L314.58 235.3L320.62 235.3L326.66 235.3L332.71 235.3L338.75 235.3L344.79 235.3L350.84 235.3L356.28 235.3L350.84 240.23L349.62 241.33L349.5 247.36L349.44 253.39L344.79 258.03L338.75 258.05L337.33 259.42L337.22 265.46L337.21 271.49L338.75 272.69L344.79 272.62L345.97 271.49L346.09 265.46L350.84 260.72L352.15 259.42L352.19 253.39L356.88 248.71L358.22 247.36L362.93 242.09L363.54 241.33L363.47 235.3L368.97 235.3L375.01 235.3L381.06 235.3L387.1 235.3L387.1 241.33L387.1 247.36L387.1 253.39L387.1 259.42L387.1 265.46L387.1 271.49L387.1 277.52L387.1 283.55L387.1 289.58L387.1 295.61L387.1 301.64L387.1 307.67L387.1 313.71L387.1 319.74L387.1 325.77L387.1 331.8L381.06 331.8L375.01 331.8L368.97 331.8L362.93 331.8L356.88 331.8L350.84 331.8L344.79 331.8L338.75 331.8L332.71 331.8L326.66 331.8L320.62 331.8L314.58 331.8L308.53 331.8L302.49 331.8L296.44 331.8L290.4 331.8L290.4 325.77L290.4 319.74L290.4 313.71L290.4 307.67L290.4 301.64L290.4 295.61L290.4 289.58L290.4 283.55L290.4 277.52L290.4 271.49L290.4 265.46L290.4 259.42L290.4 253.39L290.4 247.36L290.4 241.33ZM320.62 318.67L318.89 319.74L320.62 322.63L323.76 325.77L326.66 327.49L327.94 325.77L327.81 319.74L326.66 318.68Z" fill="#e5e1ef"/>
<path d="M290.4 235.3L296.44 235.3L302.49 235.3L308.53 235.3L314.58 235.3L320.62 235.3L326.66 235.3L332.71 235.3L338.75 235.3L344.79 235.3L350.84 235.3L355.67 235.3L350.84 239.69L349.01 241.33L348.83 247.36L348.74 253.39L344.79 257.33L338.75 257.37L336.62 259.42L336.46 265.46L336.44 271.49L338.75 273.29L344.79 273.18L346.55 271.49L346.74 265.46L350.84 261.37L352.8 259.42L352.87 253.39L356.88 249.39L358.9 247.36L362.93 242.84L364.16 241.33L364.02 235.3L368.97 235.3L375.01 235.3L381.06 235.3L387.1 235.3L387.1 241.33L387.1 247.36L387.1 253.39L387.1 259.42L387.1 265.46L387.1 271.49L387.1 277.52L387.1 283.55L387.1 289.58L387.1 295.61L387.1 301.64L387.1 307.67L387.1 313.71L387.1 319.74L387.1 325.77L387.1 331.8L381.06 331.8L375.01 331.8L368.97 331.8L362.93 331.8L356.88 331.8L350.84 331.8L344.79 331.8L338.75 331.8L332.71 331.8L326.66 331.8L320.62 331.8L314.58 331.8L314.58 331.8L308.53 329.14L302.49 327.91L296.44 327.53L290.4 327.91L290.4 325.77L290.4 319.74L290.4 313.71L290.4 307.67L290.4 301.64L290.4 295.61L290.4 289.58L290.4 283.55L290.4 277.52L290.4 271.49L290.4 265.46L290.4 259.42L290.4 253.39L290.4 247.36L290.4 241.33ZM320.62 318.13L318.03 319.74L320.62 324.08L322.32 325.77L326.66 328.35L328.58 325.77L328.38 319.74L326.66 318.15Z" fill="#d9d8ea"/>
<path d="M290.4 235.3L296.44 235.3L302.49 235.3L308.53 235.3L314.58 235.3L320.62 235.3L326.66 235.3L332.71 235.3L338.75 235.3L344.79 235.3L350.84 235.3L355.07 235.3L350.84 239.14L348.4 241.33L348.16 247.36L348.04 253.39L344.79 256.63L338.75 256.68L335.91 259.42L335.7 265.46L335.68 271.49L338.75 273.89L344.79 273.75L347.14 271.49L347.39 265.46L350.84 262.02L353.46 259.42L353.55 253.39L356.88 250.07L359.57 247.36L362.93 243.59L364.78 241.33L364.57 235.3L368.97 235.3L375.01 235.3L381.06 235.3L387.1 235.3L387.1 241.33L387.1 247.36L387.1 253.39L387.1 259.42L387.1 265.46L387.1 271.49L387.1 277.52L387.1 283.55L387.1 289.58L387.1 295.61L387.1 301.64L387.1 307.67L387.1 313.71L387.1 319.74L387.1 325.77L387.1 331.8L381.06 331.8L375.01 331.8L368.97 331.8L362.93 331.8L356.88 331.8L350.84 331.8L344.79 331.8L338.75 331.8L332.71 331.8L326.66 331.8L320.62 331.8L318.08 331.8L316.34 325.77L320.62 325.52L320.87 325.77L326.66 329.22L329.21 325.77L328.95 319.74L326.66 317.63L320.62 317.6L317.17 319.74L314.58 325.63L308.53 325.47L302.49 324.98L296.44 324.74L290.4 324.98L290.4 319.74L290.4 313.71L290.4 307.67L290.4 301.64L290.4 295.61L290.4 289.58L290.4 283.55L290.4 277.52L290.4 271.49L290.4 265.46L290.4 259.42L290.4 253.39L290.4 247.36L290.4 241.33Z" fill="#cccfe5"/>
<path d="M290.4 235.3L296.44 235.3L302.49 235.3L308.53 235.3L314.58 235.3L320.62 235.3L326.66 235.3L332.71 235.3L338.75 235.3L344.79 235.3L350.84 235.3L354.46 235.3L350.84 238.59L347.79 241.33L347.49 247.36L347.34 253.39L344.79 255.94L338.75 256L335.2 259.42L334.94 265.46L334.91 271.49L338.75 274.49L344.79 274.31L347.73 271.49L348.04 265.46L350.84 262.67L354.12 259.42L354.23 253.39L356.88 250.74L360.24 247.36L362.93 244.35L365.4 241.33L365.12 235.3L368.97 235.3L375.01 235.3L381.06 235.3L387.1 235.3L387.1 241.33L387.1 247.36L387.1 253.39L387.1 259.42L387.1 265.46L387.1 271.49L387.1 277.52L387.1 283.55L387.1 289.58L387.1 295.61L387.1 301.64L387.1 307.67L387.1 313.71L387.1 319.74L387.1 325.77L387.1 331.8L381.06 331.8L375.01 331.8L368.97 331.8L362.93 331.8L356.88 331.8L350.84 331.8L344.79 331.8L338.75 331.8L332.71 331.8L326.66 331.8L321.35 331.8L326.66 330.08L329.85 325.77L329.52 319.74L326.66 317.1L320.62 317.07L316.3 319.74L314.58 323.67L308.53 323.65L302.49 323.24L296.44 322.99L290.4 323.24L290.4 319.74L290.4 313.71L290.4 307.67L290.4 301.64L290.4 295.61L290.4 289.58L290.4 283.55L290.4 277.52L290.4 271.49L290.4 265.46L290.4 259.42L290.4 253.39L290.4 247.36L290.4 241.33Z" fill="#bac6e0"/>
<path d="M290.4 235.3L296.44 235.3L302.49 235.3L308.53 235.3L314.58 235.3L320.62 235.3L326.66 235.3L332.71 235.3L338.75 235.3L344.79 235.3L350.84 235.3L353.86 235.3L350.84 238.04L347.18 241.33L346.82 247.36L346.64 253.39L344.79 255.24L338.75 255.31L334.49 259.42L334.17 265.46L334.14 271.49L338.75 275.1L344.79 274.88L348.31 271.49L348.69 265.46L350.84 263.32L354.77 259.42L354.9 253.39L356.88 251.42L360.91 247.36L362.93 245.1L366.02 241.33L365.67 235.3L368.97 235.3L375.01 235.3L381.06 235.3L387.1 235.3L387.1 241.33L387.1 247.36L387.1 253.39L387.1 259.42L387.1 265.46L387.1 271.49L387.1 277.52L387.1 283.55L387.1 289.58L387.1 295.61L387.1 301.64L387.1 307.67L387.1 313.71L387.1 319.74L387.1 325.77L387.1 331.8L381.06 331.8L375.01 331.8L368.97 331.8L362.93 331.8L356.88 331.8L350.84 331.8L344.79 331.8L338.75 331.8L332.71 331.8L326.66 331.8L324 331.8L326.66 330.94L330.49 325.77L330.09 319.74L326.66 316.57L320.62 316.53L315.44 319.74L314.58 321.7L308.53 321.82L302.49 321.49L296.44 321.24L290.4 321.49L290.4 319.74L290.4 313.71L290.4 307.67L290.4 301.64L290.4 295.61L290.4 289.58L290.4 283.55L290.4 277.52L290.4 271.49L290.4 265.46L290.4 259.42L290.4 253.39L290.4 247.36L290.4 241.33Z" fill="#a8bedc"/>
<path d="M290.4 235.3L296.44 235.3L302.49 235.3L308.53 235.3L314.58 235.3L320.62 235.3L326.66 235.3L332.71 235.3L338.75 235.3L344.79 235.3L350.84 235.3L353.25 235.3L350.84 237.49L346.57 241.33L346.15 247.36L345.94 253.39L344.79 254.54L338.75 254.63L333.79 259.42L333.41 265.46L333.37 271.49L338.75 275.7L344.79 275.44L348.9 271.49L349.34 265.46L350.84 263.96L355.43 259.42L355.58 253.39L356.88 252.1L361.58 247.36L362.93 245.85L366.64 241.33L366.22 235.3L368.97 235.3L375.01 235.3L381.06 235.3L387.1 235.3L387.1 241.33L387.1 247.36L387.1 253.39L387.1 259.42L387.1 265.46L387.1 271.49L387.1 277.52L387.1 283.55L387.1 289.58L387.1 295.61L387.1 301.64L387.1 307.67L387.1 313.71L387.1 319.74L387.1 325.77L387.1 331.8L381.06 331.8L375.01 331.8L368.97 331.8L362.93 331.8L356.88 331.8L350.84 331.8L344.79 331.8L338.75 331.8L332.71 331.8L326.66 331.8L331.13 325.77L330.66 319.74L326.66 316.04L320.62 316L314.58 319.74L314.57 319.74L308.53 320L302.49 319.74L302.49 319.74L296.44 319.55L290.4 319.74L290.4 313.71L290.4 307.67L290.4 301.64L290.4 295.61L290.4 289.58L290.4 283.55L290.4 277.52L290.4 271.49L290.4 265.46L290.4 259.42L290.4 253.39L290.4 247.36L290.4 241.33Z" fill="#94b6d7"/>
<path d="M290.4 235.3L296.44 235.3L302.49 235.3L308.53 235.3L314.58 235.3L320.62 235.3L326.66 235.3L332.71 235.3L338.75 235.3L344.79 235.3L350.84 235.3L352.65 235.3L350.84 236.94L345.96 241.33L345.48 247.36L345.25 253.39L344.79 253.84L338.75 253.94L333.08 259.42L332.71 264.71L326.66 265.35L323.76 265.46L326.66 271.49L326.66 271.49L332.71 271.88L338.75 276.3L344.79 276.01L349.49 271.49L349.99 265.46L350.84 264.61L356.08 259.42L356.26 253.39L356.88 252.77L362.25 247.36L362.93 246.61L367.25 241.33L366.77 235.3L368.97 235.3L375.01 235.3L381.06 235.3L387.1 235.3L387.1 241.33L387.1 247.36L387.1 253.39L387.1 259.42L387.1 265.46L387.1 271.49L387.1 277.52L387.1 283.55L387.1 289.58L387.1 295.61L387.1 301.64L387.1 307.67L387.1 313.71L387.1 319.74L387.1 325.77L387.1 331.8L381.06 331.8L375.01 331.8L368.97 331.8L362.93 331.8L356.88 331.8L350.84 331.8L344.79 331.8L338.75 331.8L332.71 331.8L328.6 331.8L331.76 325.77L331.23 319.74L326.66 315.52L320.62 315.46L314.58 318.41L308.53 318.59L302.49 318.42L296.44 318.25L290.4 318.42L290.4 313.71L290.4 307.67L290.4 301.64L290.4 295.61L290.4 289.58L290.4 283.55L290.4 277.52L290.4 271.49L290.4 271.49L296.44 266.33L302.49 271.49L302.49 271.49L308.53 271.52L314.57 271.49L314.58 271.49L317.38 265.46L314.58 265.36L308.53 265.29L302.49 265.36L296.44 265.43L290.4 265.36L290.4 259.42L290.4 253.39L290.4 247.36L290.4 241.33Z" fill="#7fadd2"/>
<path d="M290.4 235.3L296.44 235.3L302.49 235.3L308.53 235.3L314.58 235.3L320.62 235.3L326.66 235.3L332.71 235.3L338.75 235.3L344.79 235.3L350.84 235.3L352.05 235.3L350.84 236.4L345.35 241.33L344.82 247.36L344.79 247.87L338.75 247.36L338.75 247.36L332.71 247.29L326.66 247.36L326.66 247.36L320.62 247.43L314.58 247.36L314.58 247.36L308.53 247.36L302.49 247.36L302.49 247.36L296.44 247.39L290.4 247.36L290.4 247.36L290.4 241.33ZM367.31 235.3L368.97 235.3L375.01 235.3L381.06 235.3L387.1 235.3L387.1 241.33L387.1 247.36L387.1 253.39L387.1 259.42L387.1 265.46L387.1 271.49L387.1 277.52L387.1 283.55L387.1 289.58L387.1 295.61L387.1 301.64L387.1 307.67L387.1 313.71L387.1 319.74L387.1 325.77L387.1 331.8L381.06 331.8L375.01 331.8L368.97 331.8L362.93 331.8L356.88 331.8L350.84 331.8L344.79 331.8L338.75 331.8L332.71 331.8L330.53 331.8L332.4 325.77L331.81 319.74L326.66 314.99L320.62 314.93L314.58 317.08L308.53 317.24L302.49 317.1L296.44 316.95L290.4 317.1L290.4 313.71L290.4 307.67L290.4 301.64L290.4 295.61L290.4 289.58L290.4 283.55L290.4 277.52L290.4 274.42L296.44 274.39L302.49 274.42L308.53 274.45L314.58 274.42L320.62 274.33L326.66 274.42L332.71 274.76L338.75 276.9L344.79 276.58L350.07 271.49L350.64 265.46L350.84 265.26L356.74 259.42L356.88 255.02L357.79 253.39L362.93 247.36L362.93 247.36L367.87 241.33Z" fill="#67a4cc"/>
<path d="M290.4 235.3L296.44 235.3L302.49 235.3L308.53 235.3L314.58 235.3L320.62 235.3L326.66 235.3L332.71 235.3L338.75 235.3L344.79 235.3L350.84 235.3L351.44 235.3L350.84 235.85L344.79 240.87L338.75 240.04L332.71 239.88L326.66 240.04L320.62 240.08L314.58 240.04L308.53 240.02L302.49 240.04L296.44 240.05L290.4 240.04ZM367.86 235.3L368.97 235.3L375.01 235.3L381.06 235.3L387.1 235.3L387.1 241.33L387.1 247.36L387.1 253.39L387.1 259.42L387.1 265.46L387.1 271.49L387.1 277.52L387.1 283.55L387.1 289.58L387.1 295.61L387.1 301.64L387.1 307.67L387.1 313.71L387.1 319.74L387.1 325.77L387.1 331.8L381.06 331.8L375.01 331.8L368.97 331.8L362.93 331.8L356.88 331.8L350.84 331.8L344.79 331.8L338.75 331.8L332.71 331.8L332.46 331.8L332.71 330.62L333.48 325.77L332.71 322.89L332.38 319.74L326.66 314.46L320.62 314.4L314.58 315.75L308.53 315.9L302.49 315.78L296.44 315.65L290.4 315.78L290.4 313.71L290.4 307.67L290.4 301.64L290.4 295.61L290.4 289.58L290.4 283.55L290.4 277.52L290.4 277.36L296.44 277.34L302.49 277.36L308.53 277.39L314.58 277.36L320.62 277.28L326.66 277.35L330.17 277.52L332.71 277.62L336.25 277.52L338.75 277.5L344.79 277.14L350.66 271.49L350.84 269.68L356.88 266.61L358.82 265.46L362.93 259.43L362.93 259.42L367.21 253.39L368.24 247.36L368.49 241.33Z" fill="#4d99c6"/>
<path d="M290.4 235.3L296.44 235.3L302.49 235.3L302.49 235.3L302.49 235.3L296.44 235.3L290.4 235.3ZM314.57 235.3L314.58 235.3L320.62 235.3L326.66 235.3L326.66 235.3L326.66 235.3L320.62 235.31L314.58 235.3ZM338.75 235.3L338.75 235.3L344.79 235.3L350.84 235.3L344.79 235.46L338.75 235.3ZM368.41 235.3L368.97 235.3L375.01 235.3L381.06 235.3L387.1 235.3L387.1 241.33L387.1 247.36L387.1 253.39L387.1 259.42L387.1 265.46L387.1 271.49L387.1 277.52L387.1 283.55L387.1 289.58L387.1 295.61L387.1 301.64L387.1 307.67L387.1 313.71L387.1 319.74L387.1 325.77L387.1 331.8L381.06 331.8L375.01 331.8L368.97 331.8L362.93 331.8L356.88 331.8L350.84 331.8L344.79 331.8L338.75 331.8L334.54 331.8L334.95 325.77L333.4 319.74L332.71 318.72L326.66 313.93L320.62 313.86L314.58 314.42L308.53 314.55L302.49 314.46L296.44 314.35L290.4 314.46L290.4 313.71L290.4 307.67L290.4 301.64L290.4 295.61L290.4 289.58L290.4 283.55L290.4 280.06L296.44 280.05L302.49 280.06L308.53 280.07L314.58 280.06L320.62 280.02L326.66 280.06L332.71 280.2L338.75 280.1L344.79 278.74L347.89 277.52L350.84 275.65L356.88 274.48L362.93 274.59L368.97 274.09L375.01 272.52L377.27 271.49L381.06 267.73L382.72 265.46L382.99 259.42L381.06 258.1L375.36 253.39L375.01 253.04L372.79 247.36L369.86 241.33L368.97 240.23Z" fill="#338ebf"/>
<path d="M368.96 235.3L368.97 235.3L375.01 235.3L381.06 235.3L387.1 235.3L387.1 241.33L387.1 247.36L387.1 252.39L381.06 249.94L378.48 247.36L375.01 243.64L373.79 241.33L368.97 235.38ZM290.4 283.55L290.4 282.74L296.44 282.74L302.49 282.74L308.53 282.75L314.58 282.74L320.62 282.73L326.66 282.74L332.71 282.78L338.75 282.75L344.79 282.44L350.84 281.71L356.88 281.45L362.93 281.59L368.97 281.77L375.01 281.86L381.06 281.58L387.1 281.01L387.1 283.55L387.1 289.58L387.1 295.61L387.1 301.64L387.1 307.67L387.1 313.71L387.1 319.74L387.1 325.77L387.1 331.8L381.06 331.8L375.01 331.8L368.97 331.8L362.93 331.8L356.88 331.8L350.84 331.8L344.79 331.8L338.75 331.8L336.65 331.8L336.42 325.77L335.02 319.74L332.71 316.34L328.72 313.71L326.66 312.8L320.62 312.61L314.58 312.95L308.53 313.08L302.49 312.99L296.44 312.89L290.4 312.99L290.4 307.67L290.4 301.64L290.4 295.61L290.4 289.58Z" fill="#1f81b8"/>
<path d="M373.99 235.3L375.01 235.3L381.06 235.3L387.1 235.3L387.1 241.33L387.1 243.44L381.06 242.98L379.52 241.33L375.01 236.66ZM290.4 289.58L290.4 287.56L296.44 287.58L302.49 287.56L308.53 287.54L314.58 287.57L320.62 287.64L326.66 287.6L332.71 287.34L338.75 287.23L344.79 287.51L350.84 287.9L356.88 287.99L362.93 287.95L368.97 288.2L375.01 288.55L381.06 288.68L387.1 288.48L387.1 289.58L387.1 295.61L387.1 301.64L387.1 307.67L387.1 313.71L387.1 319.74L387.1 325.77L387.1 331.8L381.06 331.8L375.01 331.8L368.97 331.8L362.93 331.8L356.88 331.8L350.84 331.8L344.79 331.8L338.75 331.8L338.75 331.8L337.89 325.77L336.64 319.74L332.71 313.95L332.33 313.71L326.66 311.2L320.62 311.07L314.58 311.3L308.53 311.39L302.49 311.33L296.44 311.26L290.4 311.33L290.4 307.67L290.4 301.64L290.4 295.61Z" fill="#0a73b2"/>
<path d="M290.4 295.61L290.4 294.19L296.44 294.2L302.49 294.19L308.53 294.18L314.58 294.19L320.62 294.22L326.66 294.2L332.71 294.08L338.75 294.01L344.79 294.16L350.84 294.32L356.88 294.34L362.93 294.33L368.97 294.39L375.01 294.45L381.06 294.3L387.1 294L387.1 295.61L387.1 301.64L387.1 307.67L387.1 313.71L387.1 319.74L387.1 325.77L387.1 331.8L381.06 331.8L375.01 331.8L368.97 331.8L362.93 331.8L356.88 331.8L350.84 331.8L344.79 331.8L343.72 331.8L340.53 325.77L338.75 322.26L338.26 319.74L335.76 313.71L332.71 311.11L326.66 309.6L320.62 309.53L314.58 309.65L308.53 309.7L302.49 309.67L296.44 309.63L290.4 309.67L290.4 307.67L290.4 301.64Z" fill="#0569a5"/>
<path d="M290.4 301.64L290.4 300.83L296.44 300.74L302.49 300.83L308.53 300.9L314.58 300.79L320.62 300.49L326.66 300.63L331.65 301.64L332.71 302.58L338.75 304.83L344.79 303.92L350.84 302.52L356.21 301.64L356.88 301.56L362.93 301.06L368.97 300.56L375.01 300.09L381.06 299.68L387.1 299.3L387.1 301.64L387.1 307.67L387.1 313.71L387.1 319.74L387.1 325.77L387.1 331.8L381.06 331.8L375.01 331.8L368.97 331.8L362.93 331.8L356.88 331.8L350.84 331.8L350.84 331.8L344.79 325.78L344.79 325.77L342.45 319.74L340 313.71L338.75 311.41L332.71 308.22L326.66 308L320.62 307.99L314.58 308L308.53 308.01L302.49 308.01L296.44 308L290.4 308.01L290.4 307.67Z" fill="#046096"/>
<path d="M365.86 307.67L368.97 306.99L375.01 305.91L381.06 305.26L387.1 304.82L387.1 307.67L387.1 313.71L387.1 319.74L387.1 325.77L387.1 331.8L381.06 331.8L375.01 331.8L368.97 331.8L362.93 331.8L357.81 331.8L356.88 328.01L356.02 325.77L353.7 319.74L356.16 313.71L356.88 313.06L362.93 308.83Z" fill="#045585"/>
<path d="M373.7 313.71L375.01 313.2L381.06 312.23L387.1 311.85L387.1 313.71L387.1 319.74L387.1 325.77L387.1 331.8L381.06 331.8L375.01 331.8L368.97 331.8L364.39 331.8L364.15 325.77L365.33 319.74L368.97 316.31Z" fill="#03466e"/>
<path d="M374.36 325.77L375.01 324.81L381.06 322.8L387.1 323.79L387.1 325.77L387.1 331.8L381.06 331.8L375.01 331.8L372.33 331.8Z" fill="#023858"/>
<polygon points="351.08,264.61 344.79,265.46 351.08,272.69" fill="#f6eff7" filter="url(#bl)"/>
</g></g>
<rect x="388" y="326.97" width="7.3" height="4.88" fill="#fff7fb"/>
<rect x="388" y="322.15" width="7.3" height="4.88" fill="#f7f0f7"/>
<rect x="388" y="317.32" width="7.3" height="4.88" fill="#efeaf3"/>
<rect x="388" y="312.5" width="7.3" height="4.88" fill="#e5e1ef"/>
<rect x="388" y="307.67" width="7.3" height="4.88" fill="#d9d8ea"/>
<rect x="388" y="302.85" width="7.3" height="4.88" fill="#cccfe5"/>
<rect x="388" y="298.02" width="7.3" height="4.88" fill="#bac6e0"/>
<rect x="388" y="293.2" width="7.3" height="4.88" fill="#a8bedc"/>
<rect x="388" y="288.37" width="7.3" height="4.88" fill="#94b6d7"/>
<rect x="388" y="283.55" width="7.3" height="4.88" fill="#7fadd2"/>
<rect x="388" y="278.72" width="7.3" height="4.88" fill="#67a4cc"/>
<rect x="388" y="273.9" width="7.3" height="4.88" fill="#4d99c6"/>
<rect x="388" y="269.07" width="7.3" height="4.88" fill="#338ebf"/>
<rect x="388" y="264.25" width="7.3" height="4.88" fill="#1f81b8"/>
<rect x="388" y="259.42" width="7.3" height="4.88" fill="#0a73b2"/>
<rect x="388" y="254.6" width="7.3" height="4.88" fill="#0569a5"/>
<rect x="388" y="249.77" width="7.3" height="4.88" fill="#046096"/>
<rect x="388" y="244.95" width="7.3" height="4.88" fill="#045585"/>
<rect x="388" y="240.12" width="7.3" height="4.88" fill="#03466e"/>
<rect x="388" y="235.3" width="7.3" height="4.88" fill="#023858"/>
<rect x="388" y="235.3" width="7.3" height="96.5" fill="none" stroke="#9c9c9c" stroke-width="0.6"/>
<rect x="290.4" y="235.3" width="96.7" height="96.5" fill="none" stroke="#858585" stroke-width="0.8"/>
<path d="M302.49 331.8v-1.2 M302.49 235.3v1.2M326.66 331.8v-1.2 M326.66 235.3v1.2M350.84 331.8v-1.2 M350.84 235.3v1.2M375.01 331.8v-1.2 M375.01 235.3v1.2M290.4 319.74h1.2 M387.1 319.74h-1.2M290.4 295.61h1.2 M387.1 295.61h-1.2M290.4 271.49h1.2 M387.1 271.49h-1.2M290.4 247.36h1.2 M387.1 247.36h-1.2M395.3 235.3h-1.2M395.3 251.38h-1.2M395.3 267.47h-1.2M395.3 283.55h-1.2M395.3 299.63h-1.2M395.3 315.72h-1.2M395.3 331.8h-1.2" stroke="#858585" stroke-width="0.6" fill="none"/>
<text class="t" x="338.75" y="232.6" text-anchor="middle">MAE of <tspan class="i" letter-spacing="1.5">PWD</tspan><tspan class="subi" dy="1.6">x</tspan><tspan dy="-1.6" dx="3.4">(</tspan><tspan class="i">m</tspan><tspan class="sub" dy="-3.2" dx="0.4">3</tspan><tspan class="i" dy="3.2" letter-spacing="0.9">/s</tspan>)</text>
<text class="cb" x="397.9" y="238.4">0.1395</text>
<text class="cb" x="397.9" y="254.48">0.1165</text>
<text class="cb" x="397.9" y="270.57">0.0935</text>
<text class="cb" x="397.9" y="286.65">0.0705</text>
<text class="cb" x="397.9" y="302.73">0.0474</text>
<text class="cb" x="397.9" y="318.82">0.0244</text>
<text class="cb" x="397.9" y="334.9">0.0014</text>
<text class="tk" x="302.49" y="342.8" text-anchor="middle">110.2</text>
<text class="tk" x="326.66" y="342.8" text-anchor="middle">110.4</text>
<text class="tk" x="350.84" y="342.8" text-anchor="middle">110.6</text>
<text class="tk" x="375.01" y="342.8" text-anchor="middle">110.8</text>
<text class="lb" x="338.75" y="352.6" text-anchor="middle">Longitude(degr.-East)</text>
<g filter="url(#soft)"><g clip-path="url(#c11)">
<path d="M419.8 235.3L425.84 235.3L431.89 235.3L437.93 235.3L443.98 235.3L450.02 235.3L456.06 235.3L462.11 235.3L468.15 235.3L474.19 235.3L480.24 235.3L486.28 235.3L492.33 235.3L498.37 235.3L504.41 235.3L510.46 235.3L516.5 235.3L516.5 241.33L516.5 247.36L516.5 253.39L516.5 259.42L516.5 265.46L516.5 271.49L516.5 277.52L516.5 283.55L516.5 289.58L516.5 295.61L516.5 301.64L516.5 307.67L516.5 313.71L516.5 319.74L516.5 325.77L516.5 331.8L510.46 331.8L504.41 331.8L498.37 331.8L492.33 331.8L486.28 331.8L480.24 331.8L474.19 331.8L468.15 331.8L462.11 331.8L456.06 331.8L450.02 331.8L443.98 331.8L437.93 331.8L431.89 331.8L425.84 331.8L419.8 331.8L419.8 325.77L419.8 319.74L419.8 313.71L419.8 307.67L419.8 301.64L419.8 295.61L419.8 289.58L419.8 283.55L419.8 277.52L419.8 271.49L419.8 265.46L419.8 259.42L419.8 253.39L419.8 247.36L419.8 241.33Z" fill="#f7f0f7"/>
<path d="M419.8 235.3L425.84 235.3L431.89 235.3L437.93 235.3L443.98 235.3L450.02 235.3L456.06 235.3L462.11 235.3L468.15 235.3L474.19 235.3L480.24 235.3L486.28 235.3L492.33 235.3L498.37 235.3L504.41 235.3L510.46 235.3L516.5 235.3L516.5 241.33L516.5 247.36L516.5 253.39L516.5 259.42L516.5 265.46L516.5 271.49L516.5 277.52L516.5 283.55L516.5 289.58L516.5 295.61L516.5 301.64L516.5 307.67L516.5 313.71L516.5 319.74L516.5 325.77L516.5 331.8L510.46 331.8L504.41 331.8L498.37 331.8L492.33 331.8L486.28 331.8L480.24 331.8L474.19 331.8L468.15 331.8L462.11 331.8L456.06 331.8L450.02 331.8L443.98 331.8L437.93 331.8L431.89 331.8L425.84 331.8L419.8 331.8L419.8 325.77L419.8 319.74L419.8 313.71L419.8 307.67L419.8 301.64L419.8 295.61L419.8 289.58L419.8 283.55L419.8 277.52L419.8 271.49L419.8 265.46L419.8 259.42L419.8 253.39L419.8 247.36L419.8 241.33ZM450.02 319.34L449.6 319.74L450.02 320.18L455.62 325.77L456.06 326.21L456.46 325.77L456.45 319.74L456.06 319.34ZM480.24 240.83L479.71 241.33L479.71 247.36L479.74 253.39L474.19 258.93L468.15 258.93L467.69 259.42L467.69 265.46L467.68 271.49L468.15 271.94L474.19 271.93L474.63 271.49L474.64 265.46L480.24 259.87L480.69 259.42L480.72 253.39L486.28 247.85L486.81 247.36L486.81 241.33L486.28 240.83Z" fill="#efeaf3"/>
<path d="M419.8 235.3L425.84 235.3L431.89 235.3L437.93 235.3L443.98 235.3L450.02 235.3L456.06 235.3L462.11 235.3L468.15 235.3L474.19 235.3L480.24 235.3L486.28 235.3L492.33 235.3L498.37 235.3L504.41 235.3L510.46 235.3L516.5 235.3L516.5 241.33L516.5 247.36L516.5 253.39L516.5 259.42L516.5 265.46L516.5 271.49L516.5 277.52L516.5 283.55L516.5 289.58L516.5 295.61L516.5 301.64L516.5 307.67L516.5 313.71L516.5 319.74L516.5 325.77L516.5 331.8L510.46 331.8L504.41 331.8L498.37 331.8L492.33 331.8L486.28 331.8L480.24 331.8L474.19 331.8L468.15 331.8L462.11 331.8L456.06 331.8L450.02 331.8L443.98 331.8L437.93 331.8L431.89 331.8L425.84 331.8L419.8 331.8L419.8 325.77L419.8 319.74L419.8 313.71L419.8 307.67L419.8 301.64L419.8 295.61L419.8 289.58L419.8 283.55L419.8 277.52L419.8 271.49L419.8 265.46L419.8 259.42L419.8 253.39L419.8 247.36L419.8 241.33ZM450.02 318.94L449.19 319.74L450.02 320.62L455.18 325.77L456.06 326.66L456.86 325.77L456.83 319.74L456.06 318.94ZM480.24 240.33L479.18 241.33L479.19 247.36L479.25 253.39L474.19 258.44L468.15 258.44L467.22 259.42L467.22 265.46L467.22 271.49L468.15 272.4L474.19 272.38L475.07 271.49L475.09 265.46L480.24 260.32L481.13 259.42L481.21 253.39L486.28 248.33L487.33 247.36L487.35 241.33L486.28 240.32Z" fill="#e5e1ef"/>
<path d="M419.8 235.3L425.84 235.3L431.89 235.3L437.93 235.3L443.98 235.3L450.02 235.3L456.06 235.3L462.11 235.3L468.15 235.3L474.19 235.3L480.24 235.3L486.28 235.3L492.33 235.3L498.37 235.3L504.41 235.3L510.46 235.3L516.5 235.3L516.5 241.33L516.5 247.36L516.5 253.39L516.5 259.42L516.5 265.46L516.5 271.49L516.5 277.52L516.5 283.55L516.5 289.58L516.5 295.61L516.5 301.64L516.5 307.67L516.5 313.71L516.5 319.74L516.5 325.77L516.5 331.8L510.46 331.8L504.41 331.8L498.37 331.8L492.33 331.8L486.28 331.8L480.24 331.8L474.19 331.8L468.15 331.8L462.11 331.8L456.06 331.8L450.02 331.8L443.98 331.8L437.93 331.8L431.89 331.8L425.84 331.8L419.8 331.8L419.8 325.77L419.8 319.74L419.8 313.71L419.8 307.67L419.8 301.64L419.8 295.61L419.8 289.58L419.8 283.55L419.8 277.52L419.8 271.49L419.8 265.46L419.8 259.42L419.8 253.39L419.8 247.36L419.8 241.33ZM450.02 318.54L448.77 319.74L450.02 321.06L454.74 325.77L456.06 327.1L457.26 325.77L457.21 319.74L456.06 318.54ZM480.24 239.82L478.66 241.33L478.66 247.36L478.76 253.39L474.19 257.95L468.15 257.95L466.76 259.42L466.76 265.46L466.75 271.49L468.15 272.86L474.19 272.82L475.51 271.49L475.54 265.46L480.24 260.77L481.58 259.42L481.7 253.39L486.28 248.82L487.86 247.36L487.88 241.33L486.28 239.82Z" fill="#d9d8ea"/>
<path d="M419.8 235.3L425.84 235.3L431.89 235.3L437.93 235.3L443.98 235.3L450.02 235.3L456.06 235.3L462.11 235.3L468.15 235.3L474.19 235.3L480.24 235.3L486.28 235.3L492.33 235.3L498.37 235.3L504.41 235.3L510.46 235.3L516.5 235.3L516.5 241.33L516.5 247.36L516.5 253.39L516.5 259.42L516.5 265.46L516.5 271.49L516.5 277.52L516.5 283.55L516.5 289.58L516.5 295.61L516.5 301.64L516.5 307.67L516.5 313.71L516.5 319.74L516.5 325.77L516.5 331.8L510.46 331.8L504.41 331.8L498.37 331.8L492.33 331.8L486.28 331.8L480.24 331.8L474.19 331.8L468.15 331.8L462.11 331.8L456.06 331.8L450.02 331.8L443.98 331.8L437.93 331.8L431.89 331.8L425.84 331.8L419.8 331.8L419.8 325.77L419.8 319.74L419.8 313.71L419.8 307.67L419.8 301.64L419.8 295.61L419.8 289.58L419.8 283.55L419.8 277.52L419.8 271.49L419.8 265.46L419.8 259.42L419.8 253.39L419.8 247.36L419.8 241.33ZM450.02 318.14L448.35 319.74L450.02 321.5L454.29 325.77L456.06 327.54L457.66 325.77L457.59 319.74L456.06 318.15ZM480.24 239.32L478.13 241.33L478.14 247.36L478.26 253.39L474.19 257.46L468.15 257.46L466.29 259.42L466.3 265.46L466.29 271.49L468.15 273.31L474.19 273.27L475.95 271.49L475.99 265.46L480.24 261.22L482.03 259.42L482.19 253.39L486.28 249.31L488.38 247.36L488.41 241.33L486.28 239.31Z" fill="#cccfe5"/>
<path d="M419.8 235.3L425.84 235.3L431.89 235.3L437.93 235.3L443.98 235.3L450.02 235.3L456.06 235.3L462.11 235.3L468.15 235.3L474.19 235.3L480.24 235.3L486.28 235.3L492.33 235.3L498.37 235.3L504.41 235.3L510.46 235.3L516.5 235.3L516.5 241.33L516.5 247.36L516.5 253.39L516.5 259.42L516.5 265.46L516.5 271.49L516.5 277.52L516.5 283.55L516.5 289.58L516.5 295.61L516.5 301.64L516.5 307.67L516.5 313.71L516.5 319.74L516.5 325.77L516.5 331.8L510.46 331.8L504.41 331.8L498.37 331.8L492.33 331.8L486.28 331.8L480.24 331.8L474.19 331.8L468.15 331.8L462.11 331.8L456.06 331.8L450.02 331.8L443.98 331.8L437.93 331.8L431.89 331.8L425.84 331.8L419.8 331.8L419.8 325.77L419.8 319.74L419.8 313.71L419.8 307.67L419.8 301.64L419.8 295.61L419.8 289.58L419.8 283.55L419.8 277.52L419.8 271.49L419.8 265.46L419.8 259.42L419.8 253.39L419.8 247.36L419.8 241.33ZM450.02 317.74L447.93 319.74L450.02 321.94L453.85 325.77L456.06 327.99L458.06 325.77L457.98 319.74L456.06 317.75ZM480.24 238.82L477.6 241.33L477.61 247.36L477.77 253.39L474.19 256.96L468.15 256.97L465.83 259.42L465.84 265.46L465.82 271.49L468.15 273.77L474.19 273.71L476.38 271.49L476.44 265.46L480.24 261.67L482.48 259.42L482.67 253.39L486.28 249.79L488.91 247.36L488.94 241.33L486.28 238.81Z" fill="#bac6e0"/>
<path d="M419.8 235.3L425.84 235.3L431.89 235.3L437.93 235.3L443.98 235.3L450.02 235.3L456.06 235.3L462.11 235.3L468.15 235.3L474.19 235.3L480.24 235.3L486.28 235.3L492.33 235.3L498.37 235.3L504.41 235.3L510.46 235.3L516.5 235.3L516.5 241.33L516.5 247.36L516.5 253.39L516.5 259.42L516.5 265.46L516.5 271.49L516.5 277.52L516.5 283.55L516.5 289.58L516.5 295.61L516.5 301.64L516.5 307.67L516.5 313.71L516.5 319.74L516.5 325.77L516.5 331.8L510.46 331.8L504.41 331.8L498.37 331.8L492.33 331.8L486.28 331.8L480.24 331.8L474.19 331.8L468.15 331.8L462.11 331.8L456.06 331.8L450.02 331.8L443.98 331.8L437.93 331.8L431.89 331.8L425.84 331.8L419.8 331.8L419.8 325.77L419.8 319.74L419.8 313.71L419.8 307.67L419.8 301.64L419.8 295.61L419.8 289.58L419.8 283.55L419.8 277.52L419.8 271.49L419.8 265.46L419.8 259.42L419.8 253.39L419.8 247.36L419.8 241.33ZM450.02 317.34L447.52 319.74L450.02 322.39L453.41 325.77L456.06 328.43L458.46 325.77L458.36 319.74L456.06 317.35ZM480.24 238.32L477.08 241.33L477.09 247.36L477.28 253.39L474.19 256.47L468.15 256.48L465.36 259.42L465.37 265.46L465.36 271.49L468.15 274.23L474.19 274.16L476.82 271.49L476.89 265.46L480.24 262.12L482.92 259.42L483.16 253.39L486.28 250.28L489.43 247.36L489.48 241.33L486.28 238.3Z" fill="#a8bedc"/>
<path d="M419.8 235.3L425.84 235.3L431.89 235.3L437.93 235.3L443.98 235.3L450.02 235.3L456.06 235.3L462.11 235.3L468.15 235.3L474.19 235.3L480.24 235.3L486.28 235.3L492.33 235.3L498.37 235.3L504.41 235.3L510.46 235.3L516.5 235.3L516.5 241.33L516.5 247.36L516.5 253.39L516.5 259.42L516.5 265.46L516.5 271.49L516.5 277.52L516.5 283.55L516.5 289.58L516.5 295.61L516.5 301.64L516.5 307.67L516.5 313.71L516.5 319.74L516.5 325.77L516.5 331.8L510.46 331.8L504.41 331.8L498.37 331.8L492.33 331.8L486.28 331.8L480.24 331.8L474.19 331.8L468.15 331.8L462.11 331.8L456.06 331.8L450.02 331.8L443.98 331.8L437.93 331.8L431.89 331.8L425.84 331.8L419.8 331.8L419.8 325.77L419.8 319.74L419.8 313.71L419.8 307.67L419.8 301.64L419.8 295.61L419.8 289.58L419.8 283.55L419.8 277.52L419.8 271.49L419.8 265.46L419.8 259.42L419.8 253.39L419.8 247.36L419.8 241.33ZM450.02 316.94L447.1 319.74L450.02 322.83L452.97 325.77L456.06 328.87L458.86 325.77L458.74 319.74L456.06 316.95ZM480.24 237.81L476.55 241.33L476.57 247.36L476.78 253.39L474.19 255.98L468.15 255.99L464.9 259.42L464.91 265.46L464.89 271.49L468.15 274.68L474.19 274.6L477.26 271.49L477.34 265.46L480.24 262.56L483.37 259.42L483.65 253.39L486.28 250.76L489.96 247.36L490.01 241.33L486.28 237.8Z" fill="#94b6d7"/>
<path d="M419.8 235.3L425.84 235.3L431.89 235.3L437.93 235.3L443.98 235.3L450.02 235.3L456.06 235.3L462.11 235.3L468.15 235.3L474.19 235.3L480.24 235.3L486.28 235.3L492.33 235.3L498.37 235.3L504.41 235.3L510.46 235.3L516.5 235.3L516.5 241.33L516.5 247.36L516.5 253.39L516.5 259.42L516.5 265.46L516.5 271.49L516.5 277.52L516.5 283.55L516.5 289.58L516.5 295.61L516.5 301.64L516.5 307.67L516.5 313.71L516.5 319.74L516.5 325.77L516.5 331.8L510.46 331.8L504.41 331.8L498.37 331.8L492.33 331.8L486.28 331.8L480.24 331.8L474.19 331.8L468.15 331.8L462.11 331.8L456.06 331.8L450.02 331.8L443.98 331.8L437.93 331.8L431.89 331.8L425.84 331.8L419.8 331.8L419.8 325.77L419.8 319.74L419.8 313.71L419.8 307.67L419.8 301.64L419.8 295.61L419.8 289.58L419.8 283.55L419.8 277.52L419.8 271.49L419.8 265.46L419.8 259.42L419.8 253.39L419.8 247.36L419.8 241.33ZM450.02 316.54L446.68 319.74L450.02 323.27L452.52 325.77L456.06 329.32L459.26 325.77L459.13 319.74L456.06 316.56ZM480.24 237.31L476.02 241.33L476.04 247.36L476.29 253.39L474.19 255.49L468.15 255.5L464.44 259.42L464.45 265.46L464.43 271.49L468.15 275.14L474.19 275.05L477.7 271.49L477.79 265.46L480.24 263.01L483.82 259.42L484.13 253.39L486.28 251.25L490.49 247.36L490.54 241.33L486.28 237.3Z" fill="#7fadd2"/>
<path d="M419.8 235.3L425.84 235.3L431.89 235.3L437.93 235.3L443.98 235.3L450.02 235.3L456.06 235.3L462.11 235.3L468.15 235.3L474.19 235.3L480.24 235.3L486.28 235.3L492.33 235.3L498.37 235.3L504.41 235.3L510.46 235.3L516.5 235.3L516.5 241.33L516.5 247.36L516.5 253.39L516.5 259.42L516.5 265.46L516.5 271.49L516.5 277.52L516.5 283.55L516.5 289.58L516.5 295.61L516.5 301.64L516.5 307.67L516.5 313.71L516.5 319.74L516.5 325.77L516.5 331.8L510.46 331.8L504.41 331.8L498.37 331.8L492.33 331.8L486.28 331.8L480.24 331.8L474.19 331.8L468.15 331.8L462.11 331.8L456.06 331.8L450.02 331.8L443.98 331.8L437.93 331.8L431.89 331.8L425.84 331.8L419.8 331.8L419.8 325.77L419.8 319.74L419.8 313.71L419.8 307.67L419.8 301.64L419.8 295.61L419.8 289.58L419.8 283.55L419.8 277.52L419.8 271.49L419.8 265.46L419.8 259.42L419.8 253.39L419.8 247.36L419.8 241.33ZM450.02 316.15L446.27 319.74L450.02 323.71L452.08 325.77L456.06 329.76L459.66 325.77L459.51 319.74L456.06 316.16ZM480.24 236.81L475.49 241.33L475.52 247.36L475.8 253.39L474.19 255L468.15 255.01L463.97 259.42L463.98 265.46L463.96 271.49L468.15 275.6L474.19 275.49L478.14 271.49L478.24 265.46L480.24 263.46L484.27 259.42L484.62 253.39L486.28 251.74L491.01 247.36L491.07 241.33L486.28 236.79Z" fill="#67a4cc"/>
<path d="M419.8 235.3L425.84 235.3L431.89 235.3L437.93 235.3L443.98 235.3L450.02 235.3L456.06 235.3L462.11 235.3L468.15 235.3L474.19 235.3L480.24 235.3L486.28 235.3L492.33 235.3L498.37 235.3L504.41 235.3L510.46 235.3L516.5 235.3L516.5 241.33L516.5 247.36L516.5 253.39L516.5 259.42L516.5 265.46L516.5 271.49L516.5 277.52L516.5 283.55L516.5 289.58L516.5 295.61L516.5 301.64L516.5 307.67L516.5 313.71L516.5 319.74L516.5 325.77L516.5 331.8L510.46 331.8L504.41 331.8L498.37 331.8L492.33 331.8L486.28 331.8L480.24 331.8L474.19 331.8L468.15 331.8L462.11 331.8L456.06 331.8L450.02 331.8L443.98 331.8L437.93 331.8L431.89 331.8L425.84 331.8L419.8 331.8L419.8 325.77L419.8 319.74L419.8 313.71L419.8 307.67L419.8 301.64L419.8 295.61L419.8 289.58L419.8 283.55L419.8 277.52L419.8 271.49L419.8 265.46L419.8 259.42L419.8 253.39L419.8 247.36L419.8 241.33ZM450.02 315.75L445.85 319.74L450.02 324.15L451.64 325.77L456.06 330.2L460.06 325.77L459.89 319.74L456.06 315.76ZM480.24 236.31L474.97 241.33L474.99 247.36L475.31 253.39L474.19 254.5L468.15 254.52L463.51 259.42L463.52 265.46L463.5 271.49L468.15 276.05L474.19 275.94L478.57 271.49L478.69 265.46L480.24 263.91L484.72 259.42L485.11 253.39L486.28 252.22L491.54 247.36L491.61 241.33L486.28 236.29Z" fill="#4d99c6"/>
<path d="M419.8 235.3L425.84 235.3L431.89 235.3L437.93 235.3L443.98 235.3L450.02 235.3L456.06 235.3L462.11 235.3L468.15 235.3L474.19 235.3L480.24 235.3L486.28 235.3L492.33 235.3L498.37 235.3L504.41 235.3L510.46 235.3L516.5 235.3L516.5 241.33L516.5 247.36L516.5 253.39L516.5 259.42L516.5 265.46L516.5 271.49L516.5 277.52L516.5 283.55L516.5 289.58L516.5 295.61L516.5 301.64L516.5 307.67L516.5 313.71L516.5 319.74L516.5 325.77L516.5 331.8L510.46 331.8L504.41 331.8L498.37 331.8L492.33 331.8L486.28 331.8L480.24 331.8L474.19 331.8L468.15 331.8L462.11 331.8L456.06 331.8L450.02 331.8L443.98 331.8L437.93 331.8L431.89 331.8L425.84 331.8L419.8 331.8L419.8 325.77L419.8 319.74L419.8 313.71L419.8 307.67L419.8 301.64L419.8 295.61L419.8 289.58L419.8 283.55L419.8 277.52L419.8 271.49L419.8 265.46L419.8 259.42L419.8 253.39L419.8 247.36L419.8 241.33ZM450.02 315.35L445.43 319.74L450.02 324.59L451.2 325.77L456.06 330.65L460.46 325.77L460.28 319.74L456.06 315.36ZM480.24 235.8L474.44 241.33L474.47 247.36L474.81 253.39L474.19 254.01L468.15 254.03L463.04 259.42L463.06 265.46L463.03 271.49L468.15 276.51L474.19 276.38L479.01 271.49L479.14 265.46L480.24 264.36L485.16 259.42L485.59 253.39L486.28 252.71L492.06 247.36L492.14 241.33L486.28 235.78Z" fill="#338ebf"/>
<path d="M419.8 235.3L425.84 235.3L431.89 235.3L425.84 235.3ZM443.97 235.3L443.98 235.3L450.02 235.3L456.06 235.3L456.06 235.3L456.06 235.3L450.02 235.31L443.98 235.3ZM468.15 235.3L468.15 235.3L474.19 235.3L480.24 235.3L474.19 235.43L468.15 235.3ZM492.33 235.3L498.37 235.3L504.41 235.3L510.46 235.3L516.5 235.3L516.5 241.33L516.5 247.36L516.5 253.39L516.5 259.42L516.5 263.46L515.64 265.46L511.27 271.49L510.46 272.39L508.49 277.52L506.32 283.55L504.95 289.58L504.41 295.61L504.41 295.61L504.41 295.61L506.97 301.64L510.46 307.05L516.5 307.68L516.5 307.67L516.5 313.71L516.5 319.74L516.5 325.77L516.5 331.8L510.46 331.8L504.41 331.8L498.37 331.8L492.33 331.8L486.28 331.8L480.24 331.8L474.19 331.8L468.15 331.8L462.11 331.8L456.06 331.8L450.02 331.8L443.98 331.8L437.93 331.8L431.89 331.8L425.84 331.8L419.8 331.8L419.8 325.77L419.8 319.74L419.8 313.71L419.8 307.67L419.8 301.64L419.8 295.61L419.8 289.58L419.8 283.55L419.8 277.52L419.8 271.49L419.8 265.46L419.8 259.42L419.8 253.39L419.8 251.15L425.84 251.16L431.89 251.15L437.93 251.15L443.98 251.15L450.02 251.16L456.06 251.15L462.11 251.13L468.15 251.16L474.19 251.3L474.32 253.39L474.19 253.52L468.15 253.54L462.58 259.42L462.6 265.46L462.57 271.49L468.15 276.96L474.19 276.83L479.45 271.49L479.59 265.46L480.24 264.81L485.61 259.42L486.08 253.39L486.28 253.19L492.33 249.88L496.55 247.36L498.37 241.73L498.49 241.33L498.37 241.1ZM450.02 314.95L445.02 319.74L450.02 325.03L450.76 325.77L456.06 331.09L460.86 325.77L460.66 319.74L456.06 314.97Z" fill="#1f81b8"/>
<path d="M504.41 247.36L510.46 243.58L511.34 247.36L511.78 253.39L511.02 259.42L510.46 260.46L508 265.46L505.47 271.49L504.41 274.06L503.37 277.52L501.79 283.55L500.94 289.58L500.67 295.61L501.91 301.64L503.62 307.67L504.41 309.68L509.01 313.71L510.46 314.6L516.5 315.4L516.5 319.74L516.5 325.77L516.5 331.8L510.46 331.8L504.41 331.8L498.37 331.8L492.33 331.8L486.28 331.8L480.24 331.8L474.19 331.8L468.15 331.8L462.11 331.8L456.06 331.8L450.02 331.8L443.98 331.8L437.93 331.8L431.89 331.8L431.89 331.8L425.84 331.09L419.8 331.8L419.8 325.77L419.8 319.74L419.8 313.71L419.8 307.67L419.8 301.64L419.8 295.61L419.8 289.58L419.8 283.55L419.8 277.52L419.8 271.49L419.8 271.49L419.8 271.49L419.8 265.46L419.8 259.42L419.8 259.42L419.8 259.42L425.84 259.59L431.89 259.42L431.89 259.42L437.93 259.41L443.98 259.42L443.98 259.42L450.02 259.91L456.06 259.42L456.06 259.42L462.11 259.29L462.11 259.42L462.13 265.46L462.11 270.33L456.06 271.49L456.06 271.49L456.06 271.49L462.11 271.88L468.15 277.42L474.19 277.27L479.89 271.49L480.04 265.46L480.24 265.26L486.06 259.42L486.28 256.68L492.33 254.79L496.65 253.39L498.37 252.6L504.41 247.36ZM431.89 271.49L431.89 271.49L431.89 271.49L437.93 271.52L443.97 271.49L437.93 271.35ZM450.02 314.55L444.6 319.74L450.02 325.47L450.31 325.77L456.06 331.53L461.26 325.77L461.04 319.74L456.06 314.57Z" fill="#0a73b2"/>
<path d="M492.33 259.42L498.37 259.25L499.09 259.42L501.49 265.46L500.92 271.49L499.49 277.52L498.37 282.18L497.97 283.55L496.94 289.58L496.69 295.61L498.09 301.64L498.37 302.57L499.63 307.67L501.23 313.71L504.41 319.74L504.41 319.74L510.46 322.35L516.5 323.83L516.5 325.77L516.5 331.8L510.46 331.8L504.41 331.8L498.37 331.8L492.33 331.8L486.28 331.8L480.24 331.8L474.19 331.8L468.15 331.8L462.11 331.8L460.55 331.8L461.66 325.77L461.43 319.74L456.06 314.17L450.02 314.15L444.18 319.74L443.98 324.01L437.93 324.02L431.89 323.26L425.84 322.82L419.8 323.26L419.8 319.74L419.8 313.71L419.8 307.67L419.8 301.64L419.8 295.61L419.8 295.61L425.84 295.55L431.89 295.61L431.89 295.61L437.93 295.64L443.98 295.61L443.98 295.61L450.02 295.44L456.06 295.61L456.06 295.61L462.11 295.9L468.15 295.61L468.15 295.61L473.05 289.58L474.19 287.65L475.72 283.55L478.88 277.52L480.24 275.16L481.45 271.49L484.41 265.46L486.28 263.47L492.33 259.42Z" fill="#0569a5"/>
<path d="M488.02 271.49L492.32 266.46L495.62 271.49L494.6 277.52L493.27 283.55L492.41 289.58L492.33 295.61L492.32 295.61L492.33 295.61L493.29 301.64L494.56 307.67L496.11 313.71L496.3 319.74L496.07 325.77L497.39 331.8L492.33 331.8L486.28 331.8L480.24 331.8L474.19 331.8L470.16 331.8L468.15 330.59L462.11 326.53L462.06 325.77L461.81 319.74L456.06 313.77L450.02 313.75L443.98 315.24L437.93 315.52L431.89 315.31L425.84 315.11L419.8 315.31L419.8 313.71L419.8 307.67L419.8 303.34L425.84 303.26L431.89 303.34L437.93 303.41L443.98 303.32L450.02 303.05L456.06 303.31L462.11 304.29L468.15 302.7L472.28 301.64L474.19 300.47L480.24 296.9L484.29 295.61L486.28 291.17L490.25 289.58L486.46 283.55L486.75 277.52Z" fill="#046096"/>
<path d="M465.09 307.67L468.15 305.81L474.19 306.67L480.24 307.67L480.24 307.67L480.24 307.67L486.28 304.69L487.79 307.67L490.7 313.71L486.28 319.74L486.28 319.74L486.28 319.74L488.14 325.77L486.28 328.16L480.24 325.77L480.24 325.77L480.24 325.77L474.19 327.78L470.57 325.77L468.15 322.75L465.29 319.74L462.11 316.56L460.94 313.71L462.11 312.17Z" fill="#045585"/>
<path d="M476.21 313.71L480.24 311.03L484.27 313.71L482.5 319.74L480.24 322L474.19 323.29L470.84 319.74L474.19 315.43Z" fill="#03466e"/>
<polygon points="480.48,264.61 474.19,265.46 480.48,272.69" fill="#f6eff7" filter="url(#bl)"/>
</g></g>
<rect x="517.4" y="326.97" width="7.3" height="4.88" fill="#fff7fb"/>
<rect x="517.4" y="322.15" width="7.3" height="4.88" fill="#f7f0f7"/>
<rect x="517.4" y="317.32" width="7.3" height="4.88" fill="#efeaf3"/>
<rect x="517.4" y="312.5" width="7.3" height="4.88" fill="#e5e1ef"/>
<rect x="517.4" y="307.67" width="7.3" height="4.88" fill="#d9d8ea"/>
<rect x="517.4" y="302.85" width="7.3" height="4.88" fill="#cccfe5"/>
<rect x="517.4" y="298.02" width="7.3" height="4.88" fill="#bac6e0"/>
<rect x="517.4" y="293.2" width="7.3" height="4.88" fill="#a8bedc"/>
<rect x="517.4" y="288.37" width="7.3" height="4.88" fill="#94b6d7"/>
<rect x="517.4" y="283.55" width="7.3" height="4.88" fill="#7fadd2"/>
<rect x="517.4" y="278.72" width="7.3" height="4.88" fill="#67a4cc"/>
<rect x="517.4" y="273.9" width="7.3" height="4.88" fill="#4d99c6"/>
<rect x="517.4" y="269.07" width="7.3" height="4.88" fill="#338ebf"/>
<rect x="517.4" y="264.25" width="7.3" height="4.88" fill="#1f81b8"/>
<rect x="517.4" y="259.42" width="7.3" height="4.88" fill="#0a73b2"/>
<rect x="517.4" y="254.6" width="7.3" height="4.88" fill="#0569a5"/>
<rect x="517.4" y="249.77" width="7.3" height="4.88" fill="#046096"/>
<rect x="517.4" y="244.95" width="7.3" height="4.88" fill="#045585"/>
<rect x="517.4" y="240.12" width="7.3" height="4.88" fill="#03466e"/>
<rect x="517.4" y="235.3" width="7.3" height="4.88" fill="#023858"/>
<rect x="517.4" y="235.3" width="7.3" height="96.5" fill="none" stroke="#9c9c9c" stroke-width="0.6"/>
<rect x="419.8" y="235.3" width="96.7" height="96.5" fill="none" stroke="#858585" stroke-width="0.8"/>
<path d="M431.89 331.8v-1.2 M431.89 235.3v1.2M456.06 331.8v-1.2 M456.06 235.3v1.2M480.24 331.8v-1.2 M480.24 235.3v1.2M504.41 331.8v-1.2 M504.41 235.3v1.2M419.8 319.74h1.2 M516.5 319.74h-1.2M419.8 295.61h1.2 M516.5 295.61h-1.2M419.8 271.49h1.2 M516.5 271.49h-1.2M419.8 247.36h1.2 M516.5 247.36h-1.2M524.7 235.3h-1.2M524.7 251.38h-1.2M524.7 267.47h-1.2M524.7 283.55h-1.2M524.7 299.63h-1.2M524.7 315.72h-1.2M524.7 331.8h-1.2" stroke="#858585" stroke-width="0.6" fill="none"/>
<text class="t" x="468.15" y="232.6" text-anchor="middle">MAE of <tspan class="i" letter-spacing="1.5">PWD</tspan><tspan class="subi" dy="1.6">y</tspan><tspan dy="-1.6" dx="3.4">(</tspan><tspan class="i">m</tspan><tspan class="sub" dy="-3.2" dx="0.4">3</tspan><tspan class="i" dy="3.2" letter-spacing="0.9">/s</tspan>)</text>
<text class="cb" x="527.3" y="238.4">0.1202</text>
<text class="cb" x="527.3" y="254.48">0.1005</text>
<text class="cb" x="527.3" y="270.57">0.0809</text>
<text class="cb" x="527.3" y="286.65">0.0612</text>
<text class="cb" x="527.3" y="302.73">0.0416</text>
<text class="cb" x="527.3" y="318.82">0.0219</text>
<text class="cb" x="527.3" y="334.9">0.0023</text>
<text class="tk" x="431.89" y="342.8" text-anchor="middle">110.2</text>
<text class="tk" x="456.06" y="342.8" text-anchor="middle">110.4</text>
<text class="tk" x="480.24" y="342.8" text-anchor="middle">110.6</text>
<text class="tk" x="504.41" y="342.8" text-anchor="middle">110.8</text>
<text class="lb" x="468.15" y="352.6" text-anchor="middle">Longitude(degr.-East)</text>
</svg>
</body></html>
